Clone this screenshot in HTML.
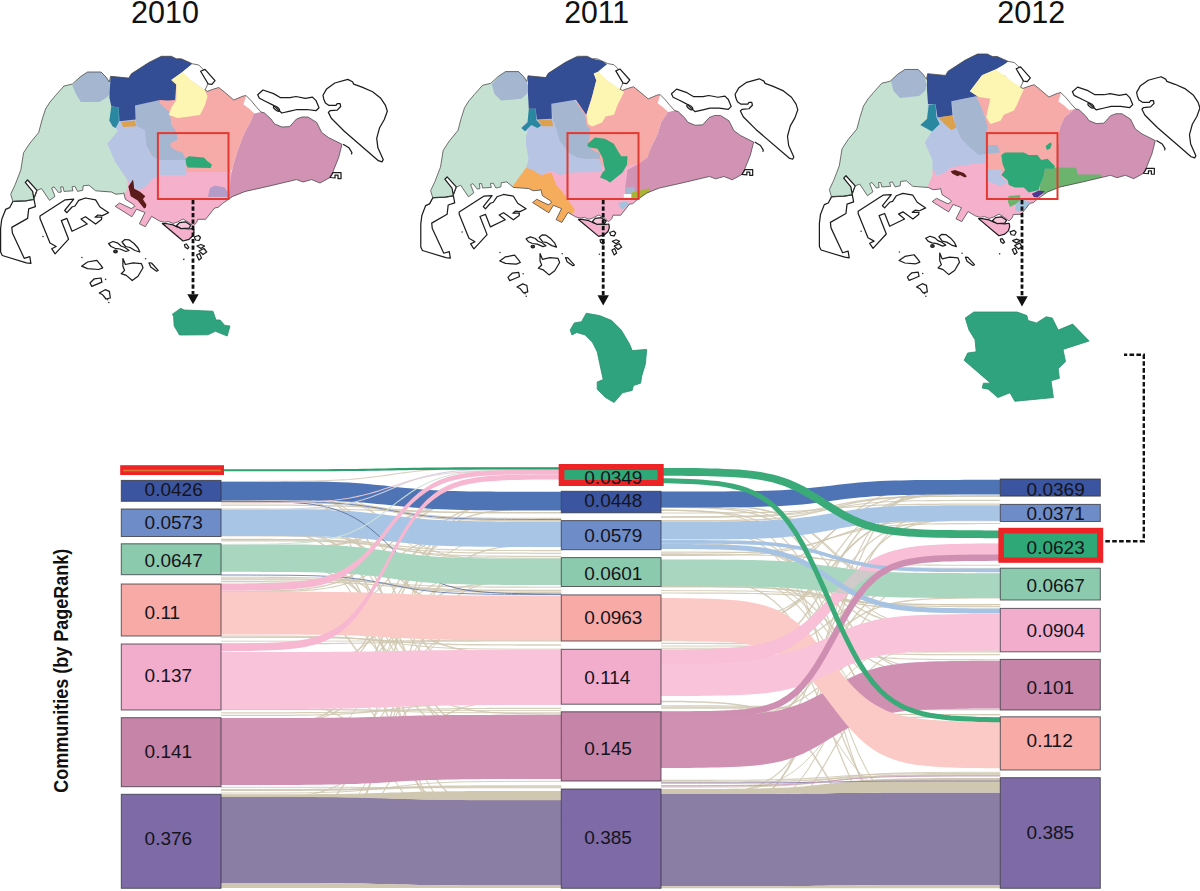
<!DOCTYPE html>
<html><head><meta charset="utf-8"><title>Figure</title>
<style>
html,body{margin:0;padding:0;background:#fff;}
body{width:1200px;height:891px;overflow:hidden;font-family:"Liberation Sans",sans-serif;}
svg{display:block}
text{font-family:"Liberation Sans",sans-serif;}
.nl{font-size:19px;fill:#14141c;}
.al{font-size:20px;font-weight:bold;fill:#111;}
.yr{font-size:31.3px;fill:#111;}
</style></head><body>
<svg width="1200" height="891" viewBox="0 0 1200 891">
<rect width="1200" height="891" fill="#fff"/>
<text transform="translate(165,22.8) scale(0.975,1)" text-anchor="middle" class="yr">2010</text>
<text transform="translate(596.6,22.8) scale(0.965,1)" text-anchor="middle" class="yr">2011</text>
<text transform="translate(1031.3,22.8) scale(0.975,1)" text-anchor="middle" class="yr">2012</text>
<defs>
<path id="coast" d="M12.9,201.5 L10.7,194.2 L15.2,184.6 L20.8,170.0 L23.6,152.7 L30.0,143.0 L38.7,132.5 L42.0,120.0 L45.5,109.0 L50.0,102.0 L55.5,95.5 L64.0,86.0 L72.4,84.0 L80.0,77.0 L87.5,72.0 L101.0,72.0 L106.0,77.0 L109.4,82.0 L110.6,76.3 L128.8,78.1 L131.3,73.8 L148.8,62.5 L161.3,56.3 L171.3,56.3 L176.3,58.8 L181.3,58.8 L192.5,63.8 L198.8,65.0 L203.8,70.0 L208.5,80.0 L207.0,86.0 L205.0,90.0 L207.5,91.3 L212.5,89.4 L218.8,87.5 L225.0,92.5 L233.8,100.0 L242.5,96.3 L246.0,95.5 L251.0,100.5 L256.0,106.5 L261.0,112.0 L264.5,113.0 L271.0,119.0 L274.6,124.0 L282.0,127.0 L289.7,126.6 L296.5,119.0 L302.0,117.0 L308.0,117.0 L316.7,122.4 L321.7,132.5 L328.5,137.5 L342.0,144.3 L338.6,157.7 L331.8,174.6 L330.0,177.5 L320.0,183.0 L311.6,179.6 L303.0,182.0 L296.5,179.6 L267.8,186.4 L245.0,191.5 L232.5,196.5 L228.1,199.6 L222.5,203.5 L218.0,207.4 L214.6,208.0 L205.6,219.3 L197.8,219.3 L196.6,222.6 L193.3,226.0 L188.8,222.5 L183.1,219.0 L177.5,222.0 L173.0,223.5 L168.5,221.5 L164.0,222.3 L159.5,221.0 L151.6,216.4 L145.3,226.7 L139.4,223.8 L145.0,212.5 L136.5,209.2 L131.9,216.8 L115.2,206.3 L119.6,203.0 L131.3,208.6 L134.8,206.3 L133.6,204.5 L125.4,199.3 L123.7,192.8 L122.6,193.6 L115.9,194.2 L111.4,192.0 L95.6,190.8 L88.9,185.2 L83.2,185.8 L82.7,190.3 L77.6,191.4 L74.8,186.3 L72.0,186.9 L73.0,190.8 L64.0,191.4 L63.0,186.9 L60.7,186.9 L61.3,192.0 L58.5,192.5 L54.0,186.9 L51.7,188.0 L55.0,196.4 L49.5,200.4 L41.6,188.6 L37.0,190.3 L33.5,199.5 L25.9,200.8 L14.6,201.3Z"/>
<clipPath id="cl1"><use href="#coast"/></clipPath>
<g id="outl" fill="none" stroke="#1c1c1c" stroke-width="1.25" stroke-linejoin="round">
<path d="M12.9,201.5 L9.6,207.7 L5.6,209.4 L1.7,219.5 L0.6,228.5 L0.6,252.0 L2.3,255.5 L26.4,262.8 L30.9,263.4 L29.8,256.6 L24.2,258.3 L12.4,233.0 L11.8,227.4 L27.6,218.4 L28.7,208.8 L35.4,206.6 L33.8,198.0 L32.6,191.4 L25.3,182.4 L27.6,180.0 L37.0,190.3 L33.5,199.5 L25.9,200.8 L14.6,201.3Z" fill="#fff"/>
<path d="M192.5,63.8 L198.8,65.0 L203.8,70.0 L208.5,80.0 L207.0,86.0 L205.0,90.0 L192.5,81.3 L182.5,71.9Z" fill="#fff" stroke="none"/>
<path d="M246.0,95.5 L251.0,100.5 L261.0,112.0 L254.4,113.5 L249.0,108.5 L243.5,104.5 L245.5,98.0Z" fill="#fff" stroke="none"/>
<use href="#coast" stroke="#444" stroke-width="0.9" stroke-opacity="0.85"/>
<path d="M200.6,71.3 L205.0,69.4 L215.0,80.6 L211.9,84.4 L208.1,83.8Z" fill="#fff"/>
<path d="M331.8,174.6 L333.0,172.5 L341.0,172.5 L341.0,178.5 L338.0,178.5 L338.0,175.0 L335.0,175.0 L335.0,178.0 L330.0,177.5Z" fill="#fff"/>
<path d="M162.3,223.6 L166.0,223.5 L173.0,224.9 L177.5,227.1 L183.0,228.4 L188.8,229.0 L193.5,228.3 L194.0,232.0 L192.6,236.0 L189.0,239.4 L183.0,241.0Z" fill="#f5b0cc"/>
<path d="M176.4,225.8 L179.5,222.6 L185.5,221.8 L190.8,225.2 L189.0,228.2 L181.0,228.6Z" fill="#f8c6da"/>
<path d="M40.0,216.0 L65.2,199.8 L73.7,199.2 L64.7,210.5 L66.9,212.7 L72.0,207.0 L75.0,206.0 L78.7,200.4 L85.5,198.0 L95.6,199.8 L100.0,207.0 L108.6,212.7 L102.4,215.6 L97.9,215.0 L95.0,217.2 L101.8,217.2 L101.5,219.5 L95.6,224.0 L85.5,216.7 L81.0,219.0 L87.2,224.0 L72.0,231.3 L66.9,218.4 L61.3,220.6 L68.6,239.2 L55.1,253.8 L51.7,248.7 L56.2,246.5 L50.0,243.0 L40.0,218.4Z"/>
<path d="M257.7,94.7 L263.0,90.0 L273.6,93.6 L280.6,97.7 L290.0,97.7 L296.0,96.5 L305.4,98.3 L312.5,97.1 L316.0,100.6 L319.0,107.7 L316.0,110.7 L306.6,109.5 L297.1,109.5 L290.0,111.2 L281.8,113.0 L278.3,110.0 L273.6,105.4 L265.3,101.2 L259.4,98.3Z"/>
<path d="M323.0,95.3 L326.6,88.9 L334.8,83.0 L347.8,79.4 L352.5,81.8 L353.7,84.1 L362.0,87.1 L372.6,91.8 L380.8,98.3 L385.5,105.4 L387.3,111.2 L384.3,119.5 L379.6,127.7 L376.7,138.3 L377.9,147.8 L383.2,159.6 L382.0,161.9 L378.4,160.7 L344.3,131.3 L331.3,118.3 L328.4,112.4 L330.1,110.7 L337.2,110.1 L340.7,106.5 L340.1,103.6 L337.2,103.6 L336.0,105.4 L329.0,105.4 L325.4,103.0 L323.7,98.9Z"/>
<path d="M343.1,144.2 L349.0,147.8 L351.9,152.5 L351.4,154.3"/>
<path d="M108.6,243.5 L113.0,241.5 L118.0,243.2 L121.0,246.0 L125.0,247.5 L129.0,250.5 L126.0,251.5 L120.0,249.0 L115.0,248.3 L111.0,246.5Z"/>
<path d="M122.0,242.0 L125.0,239.5 L129.0,239.8 L134.0,243.5 L138.0,248.0 L139.8,252.0 L135.0,250.5 L130.0,247.5 L125.5,246.5Z"/>
<path d="M81.6,266.2 L87.5,262.0 L96.8,260.3 L101.0,265.3 L102.7,267.8 L98.5,269.5 L87.5,268.7Z"/>
<path d="M122.9,258.6 L125.4,264.5 L133.0,262.8 L141.4,263.6 L143.0,267.8 L138.0,276.3 L132.2,280.5 L126.3,275.4 L121.2,273.7 L124.6,270.4 L122.9,266.2Z"/>
<path d="M90.0,283.0 L94.3,278.8 L101.0,278.0 L101.9,282.2 L96.0,284.7 L91.8,286.4Z"/>
<path d="M99.3,293.0 L105.2,289.7 L109.4,291.4 L110.3,298.0 L106.0,299.0 L102.7,294.8Z"/>
<path d="M149.0,262.8 L151.5,263.0 L158.2,270.4 L156.6,271.2 L150.7,267.0Z"/>
<path d="M184.5,244.5 L186.5,244.0 L188.8,247.5 L187.5,248.8 L185.0,247.0Z"/>
<path d="M194.4,237.0 L198.5,235.5 L200.5,237.5 L199.0,240.5 L195.5,240.0Z"/>
<path d="M197.0,246.0 L201.0,244.5 L204.5,246.0 L201.0,248.5Z"/>
<path d="M199.0,251.0 L204.0,248.5 L206.7,252.0 L203.0,254.5Z"/>
<path d="M196.6,255.0 L199.5,253.5 L201.5,258.0 L199.0,260.0Z"/>
<ellipse cx="115.5" cy="251.5" rx="1.8" ry="1.4" fill="#444"/>
<circle cx="81.9" cy="257.5" r="0.8" fill="#333" stroke="none"/>
<circle cx="145.6" cy="258.8" r="0.8" fill="#333" stroke="none"/>
<circle cx="105.6" cy="279.4" r="0.8" fill="#333" stroke="none"/>
<circle cx="108.8" cy="302.5" r="0.8" fill="#333" stroke="none"/>
<circle cx="107.6" cy="299.8" r="0.8" fill="#333" stroke="none"/>
<circle cx="183.8" cy="259.4" r="0.8" fill="#333" stroke="none"/>
<circle cx="43" cy="236.5" r="0.8" fill="#333" stroke="none"/>
<ellipse cx="276.5" cy="108.6" rx="3.6" ry="1.6" transform="rotate(38 276.5 108.6)"/>
</g>
</defs>
<defs><clipPath id="cl2"><use href="#coast" transform="translate(420.2,1.4) scale(0.975)"/></clipPath><clipPath id="cl3"><use href="#coast" transform="translate(818.8,-1.4) scale(0.984)"/></clipPath></defs>
<g clip-path="url(#cl1)"><path d="M100.0,100.0 L200.0,100.0 L200.0,200.0 L100.0,200.0Z" fill="#b7c4e4" /><path d="M100.0,172.0 L250.0,172.0 L250.0,250.0 L100.0,250.0Z" fill="#f5b0cc" /><path d="M150.0,80.0 L270.0,80.0 L270.0,114.0 L254.4,114.0 L251.0,120.7 L244.0,134.0 L237.5,151.0 L232.5,167.8 L231.0,172.0 L186.0,172.0 L186.0,160.0 L150.0,160.0Z" fill="#f6aba8" /><path d="M254.4,113.0 L261.0,111.0 L270.0,105.0 L350.0,105.0 L350.0,205.0 L229.0,205.0 L229.0,196.5 L230.8,178.0 L232.5,167.8 L237.5,151.0 L244.0,134.0 L251.0,120.7Z" fill="#d192b4" /><path d="M-5.0,270.0 L-5.0,50.0 L112.0,50.0 L112.0,106.0 L109.4,120.6 L112.5,126.3 L115.6,128.1 L118.0,131.0 L107.5,143.8 L115.0,161.3 L127.5,180.0 L128.0,188.0 L124.6,193.4 L110.0,196.0 L60.0,203.0 L40.0,215.0Z" fill="#c4e1d1" /><path d="M120.0,130.0 L118.0,131.0 L107.5,143.8 L115.0,161.3 L127.5,180.0 L131.0,184.0 L137.0,190.0 L145.0,187.5 L152.5,178.8 L160.0,175.0 L186.3,175.0 L186.3,158.0 L160.0,158.0 L152.5,156.3 L146.3,145.0 L145.0,133.8 L137.5,127.5 L136.0,120.0 L121.0,122.0Z" fill="#b7c4e4" /><path d="M135.0,105.6 L160.0,100.0 L160.0,103.8 L170.0,112.5 L171.3,125.0 L176.3,131.3 L177.5,140.0 L171.3,142.5 L170.0,146.0 L175.0,150.0 L182.5,152.5 L185.0,157.5 L186.0,160.0 L160.0,160.0 L152.5,156.3 L146.3,145.0 L145.0,130.0 L136.9,126.3 L135.6,119.4Z" fill="#a5b6d0" /><path d="M72.4,85.4 L80.0,77.0 L87.5,71.0 L101.0,71.0 L109.4,80.0 L110.5,93.8 L106.0,98.0 L99.3,102.0 L80.8,102.0 L76.0,94.0Z" fill="#a5b6d0" /><path d="M110.6,75.0 L128.8,77.0 L131.3,72.0 L148.8,61.0 L161.3,55.0 L171.3,55.0 L176.3,57.5 L181.3,57.5 L192.5,63.8 L182.5,71.9 L171.3,80.0 L176.3,84.4 L175.0,100.0 L167.5,100.6 L160.0,100.0 L135.0,105.6 L135.6,119.4 L119.4,121.3 L118.8,107.5 L111.3,106.3 L109.4,97.5Z" fill="#344e96" /><path d="M111.3,106.3 L118.8,107.5 L118.8,121.9 L115.6,128.1 L112.5,126.3 L109.4,120.6Z" fill="#2a87a0" /><path d="M121.3,121.9 L135.0,120.6 L136.3,126.3 L123.1,126.9Z" fill="#dba14c" /><path d="M171.3,80.0 L182.5,71.9 L192.5,81.3 L205.0,90.0 L207.5,96.3 L205.0,105.0 L200.0,115.0 L182.0,117.5 L177.5,118.1 L168.8,115.0 L171.3,107.5 L176.3,100.0 L176.3,84.4Z" fill="#fdf5b2" /><path d="M133.0,179.5 L133.6,182.9 L134.2,188.8 L140.0,191.7 L145.3,196.3 L142.9,199.3 L146.4,204.5 L145.9,207.4 L144.1,208.6 L137.7,200.4 L130.7,196.3 L128.4,186.4Z" fill="#5a1c1a" /><path d="M185.6,158.8 L188.8,156.3 L203.8,157.5 L207.5,161.3 L211.9,164.4 L210.6,168.1 L187.5,167.5 L186.0,163.8Z" fill="#2fa877" /><path d="M208.1,196.0 L210.0,188.1 L215.0,185.6 L225.0,187.5 L227.5,192.5 L227.5,197.0 L208.1,197.0Z" fill="#b49bc8" /></g><use href="#outl"/>
<g clip-path="url(#cl2)"><path d="M515.0,100.0 L610.0,100.0 L610.0,200.0 L515.0,200.0Z" fill="#b7c4e4" /><path d="M540.0,170.0 L600.0,170.0 L600.0,150.0 L660.0,150.0 L660.0,250.0 L540.0,250.0Z" fill="#f5b0cc" /><path d="M575.0,80.0 L680.0,80.0 L680.0,112.0 L667.8,112.3 L661.0,122.4 L657.7,134.0 L651.0,147.6 L647.6,157.7 L640.0,163.0 L627.5,166.0 L600.0,166.0 L580.0,140.0Z" fill="#f6aba8" /><path d="M667.8,112.3 L675.0,105.0 L760.0,105.0 L760.0,200.0 L625.0,200.0 L625.0,190.0 L627.5,170.0 L640.0,163.0 L647.6,157.7 L651.0,147.6 L657.7,134.0 L661.0,122.4Z" fill="#d192b4" /><path d="M415.0,270.0 L415.0,50.0 L530.0,50.0 L529.6,107.0 L528.0,120.7 L521.2,128.1 L525.0,131.3 L528.0,130.8 L526.3,136.3 L526.3,145.0 L528.8,160.0 L526.3,167.5 L516.3,181.3 L520.0,195.0 L450.0,215.0Z" fill="#c4e1d1" /><path d="M526.3,167.5 L532.5,170.0 L541.3,175.0 L551.3,172.5 L556.3,185.0 L563.8,193.8 L575.0,210.0 L560.0,230.0 L500.0,215.0 L510.0,190.0 L516.3,181.3Z" fill="#f5ad5c" /><path d="M526.3,136.3 L528.0,130.8 L541.3,126.5 L553.1,126.3 L560.0,141.3 L570.0,153.8 L585.0,158.8 L600.0,158.8 L602.5,172.0 L572.5,172.5 L560.0,175.0 L551.3,170.5 L541.3,175.0 L532.5,170.0 L526.3,167.5 L528.8,160.0 L526.3,145.0Z" fill="#b7c4e4" /><path d="M551.3,103.8 L575.0,100.6 L585.0,115.0 L586.9,126.3 L590.0,128.8 L590.0,136.3 L587.5,145.0 L592.5,150.0 L600.0,153.8 L600.0,158.8 L585.0,158.8 L577.5,157.5 L570.0,153.8 L560.0,141.3 L556.3,128.8 L553.1,120.0Z" fill="#a5b6d0" /><path d="M491.8,84.5 L499.0,76.0 L507.7,70.0 L517.8,70.0 L525.4,78.0 L529.0,88.7 L527.0,94.0 L521.2,98.8 L501.0,100.5 L494.3,93.8Z" fill="#a5b6d0" /><path d="M528.0,75.0 L546.5,74.3 L548.0,70.0 L575.0,56.6 L588.5,55.7 L593.8,59.0 L602.0,60.8 L608.0,65.0 L600.5,71.0 L593.8,73.6 L596.3,80.3 L592.0,97.0 L586.2,114.8 L576.0,99.7 L551.3,103.8 L551.9,118.8 L536.9,119.4 L535.6,108.8 L528.8,108.8 L528.0,95.0Z" fill="#344e96" /><path d="M528.8,108.8 L535.6,108.8 L536.3,120.0 L541.3,125.6 L537.5,128.1 L531.3,125.0 L525.0,131.3 L521.3,128.1 L527.5,122.5Z" fill="#2a87a0" /><path d="M538.0,120.2 L551.9,119.4 L553.1,126.3 L542.5,126.3Z" fill="#dba14c" /><path d="M593.8,73.6 L600.5,71.0 L608.0,76.0 L617.3,85.4 L624.0,92.0 L620.7,98.8 L617.3,105.6 L614.0,114.8 L605.6,116.5 L602.0,122.4 L592.0,126.6 L587.9,124.0 L586.5,115.0 L592.0,97.0 L596.3,80.3Z" fill="#fdf5b2" /><path d="M587.5,143.8 L595.0,137.5 L605.0,138.8 L613.8,143.8 L618.8,152.5 L621.3,156.3 L627.5,156.3 L626.9,165.0 L622.5,172.5 L616.3,177.5 L610.0,182.5 L606.3,180.0 L600.0,177.5 L602.5,172.5 L605.0,170.0 L602.5,157.5 L597.5,148.8 L590.0,147.5 L587.5,146.3Z" fill="#2fa877" /><path d="M625.0,187.5 L633.8,186.5 L636.0,193.8 L625.0,193.8Z" fill="#a5b6d0" /><path d="M631.9,192.5 L650.0,188.0 L650.0,196.0 L632.0,198.0Z" fill="#a9b334" /><path d="M618.0,203.5 L626.0,201.0 L629.5,204.5 L622.0,209.5Z" fill="#a3c2dc" /></g><path d="M623.8,194 h7.5 v3.8 h-7.5z" fill="#fff"/><use href="#outl" transform="translate(420.2,1.4) scale(0.975)"/>
<g clip-path="url(#cl3)"><path d="M915.0,100.0 L1010.0,100.0 L1010.0,165.0 L915.0,178.0Z" fill="#b7c4e4" /><path d="M925.0,168.0 L934.0,170.0 L936.0,175.5 L943.0,173.6 L951.5,167.0 L968.4,164.5 L987.0,162.0 L987.0,172.0 L1080.0,172.0 L1080.0,250.0 L925.0,250.0Z" fill="#f5b0cc" /><path d="M975.0,75.0 L1085.0,75.0 L1085.0,108.9 L1074.6,108.9 L1064.5,117.3 L1059.4,129.0 L1057.5,152.0 L1057.5,172.0 L987.0,172.0 L987.0,133.0 L985.0,117.5 L981.3,107.5 L976.3,96.3Z" fill="#f6aba8" /><path d="M1074.6,108.9 L1079.6,104.0 L1165.0,100.0 L1165.0,200.0 L1057.7,200.0 L1057.7,171.2 L1057.5,152.0 L1059.4,129.0 L1064.5,117.3Z" fill="#d192b4" /><path d="M810.0,270.0 L810.0,45.0 L930.0,45.0 L928.0,103.9 L927.0,119.0 L920.4,125.0 L932.0,131.6 L925.0,142.5 L932.5,160.0 L932.5,175.0 L926.0,190.0 L930.0,200.0 L850.0,215.0Z" fill="#c4e1d1" /><path d="M942.5,123.8 L932.0,131.6 L925.0,142.5 L932.5,160.0 L936.0,175.5 L943.0,173.6 L951.5,167.0 L968.4,164.5 L987.0,162.0 L987.0,153.8 L978.8,155.0 L961.3,138.8 L956.3,127.5 L951.3,130.0 L945.0,125.0Z" fill="#b7c4e4" /><path d="M987.0,170.0 L1001.5,169.0 L1000.0,175.0 L1007.5,182.5 L1000.0,186.0 L987.0,181.0Z" fill="#b7c4e4" /><path d="M951.3,101.3 L976.3,96.3 L981.3,107.5 L985.0,117.5 L987.5,127.5 L986.3,132.5 L987.0,153.8 L978.8,155.0 L970.0,147.5 L961.3,138.8 L956.3,127.5 L953.8,116.3Z" fill="#a5b6d0" /><path d="M988.0,145.0 L997.5,145.0 L1000.0,152.5 L988.0,153.8Z" fill="#a5b6d0" /><path d="M891.0,81.0 L897.0,74.0 L904.4,67.5 L916.2,67.5 L923.0,74.0 L927.0,85.0 L925.0,91.0 L919.0,96.0 L900.0,98.0 L893.5,91.0Z" fill="#a5b6d0" /><path d="M927.0,72.6 L946.5,71.7 L948.0,67.5 L975.0,53.2 L988.7,52.4 L993.8,54.9 L1003.9,57.4 L1009.0,61.8 L995.5,69.4 L982.0,75.3 L970.0,91.2 L978.6,97.0 L976.3,96.3 L951.3,101.3 L952.5,115.6 L937.5,117.5 L935.5,103.9 L928.0,103.9 L927.0,90.0Z" fill="#344e96" /><path d="M928.8,104.7 L935.5,103.9 L936.4,117.3 L939.7,124.0 L932.0,131.6 L920.4,125.0 L927.0,119.0Z" fill="#2a87a0" /><path d="M938.0,117.5 L952.5,115.2 L956.3,127.5 L951.3,130.0 L945.0,124.4Z" fill="#dba14c" /><path d="M970.0,91.2 L982.0,75.3 L995.5,69.4 L1009.0,78.6 L1024.0,88.7 L1017.3,103.9 L1014.0,110.6 L1003.9,114.8 L1000.5,120.7 L990.4,124.0 L986.2,117.3 L987.9,108.9 L990.4,98.8 L978.6,97.0Z" fill="#fdf5b2" /><path d="M950.6,171.3 L955.0,170.0 L963.8,173.1 L966.9,176.3 L965.0,177.5 L960.0,175.0 L957.5,176.3 L952.5,173.8Z" fill="#5a1c1a" /><path d="M1045.0,168.8 L1057.5,167.5 L1076.0,167.8 L1078.0,174.6 L1101.5,174.6 L1101.5,180.0 L1057.5,190.0 L1040.0,195.0 L1040.0,185.0 L1043.8,176.3Z" fill="#6cb46e" /><path d="M1001.3,155.0 L1005.0,152.5 L1023.8,152.5 L1028.8,155.0 L1037.5,155.0 L1041.3,160.0 L1047.5,158.8 L1051.3,162.5 L1055.0,166.3 L1053.8,168.8 L1045.0,168.8 L1043.8,176.3 L1040.0,185.0 L1038.8,190.0 L1028.8,192.5 L1023.8,187.5 L1015.0,187.5 L1008.8,185.0 L1007.5,180.0 L1001.3,175.0 L1005.0,170.0 L1002.5,163.8Z" fill="#2fa877" /><path d="M1045.6,146.3 L1050.0,142.5 L1051.9,143.8 L1050.0,148.8 L1046.9,150.0Z" fill="#2fa877" /><path d="M1008.5,196.0 L1020.0,195.0 L1021.0,200.0 L1016.0,204.0 L1010.0,207.0 L1008.0,202.0Z" fill="#6cb46e" /><path d="M1016.0,204.0 L1022.0,199.0 L1029.7,202.0 L1028.0,207.0 L1020.0,212.0 L1015.0,210.0Z" fill="#a3c2dc" /><path d="M1031.9,193.8 L1038.8,190.6 L1045.0,191.3 L1037.5,197.5 L1033.8,196.9Z" fill="#4b3a8f" /></g><use href="#outl" transform="translate(818.8,-1.4) scale(0.984)"/>
<rect x="157.9" y="133.1" width="70.6" height="65.9" fill="none" stroke="#e23a31" stroke-width="2"/>
<rect x="567.5" y="133.1" width="71.0" height="65.9" fill="none" stroke="#e23a31" stroke-width="2"/>
<rect x="986.9" y="133.1" width="70.6" height="65.9" fill="none" stroke="#e23a31" stroke-width="2"/>
<path d="M193.0,200 V294.3" stroke="#111" stroke-width="2.8" stroke-dasharray="4.2 2.3" fill="none"/><path d="M187.3,294.3 h11.4 l-5.7,10.0 z" fill="#111"/>
<path d="M603.2,200 V295.2" stroke="#111" stroke-width="2.8" stroke-dasharray="4.2 2.3" fill="none"/><path d="M597.5,295.2 h11.4 l-5.7,10.2 z" fill="#111"/>
<path d="M1022.0,200 V296.3" stroke="#111" stroke-width="2.8" stroke-dasharray="4.2 2.3" fill="none"/><path d="M1016.3,296.3 h11.4 l-5.7,10.3 z" fill="#111"/>
<path d="M172.4,314.2 L180.7,308.3 L184.2,310.0 L213.0,311.2 L216.0,320.0 L220.0,320.0 L224.8,325.4 L230.0,326.0 L227.2,336.0 L215.4,331.3 L207.8,334.8 L179.5,335.0 L174.2,326.0 L173.6,316.5Z" fill="#2ea37d" stroke="#27916c" stroke-width="0.8"/>
<path d="M570.2,330.1 L574.3,322.9 L581.5,321.7 L586.3,313.2 L599.6,315.6 L611.7,320.5 L621.3,330.1 L629.8,344.6 L632.2,350.6 L646.7,349.4 L645.4,363.9 L641.8,375.9 L640.6,383.2 L633.4,385.6 L632.2,390.4 L622.5,392.8 L614.1,402.5 L605.6,397.6 L597.2,389.2 L597.2,382.0 L603.2,379.6 L600.8,368.7 L597.2,351.8 L592.4,342.2 L585.1,334.9 L576.7,332.5 L571.9,334.9Z" fill="#2ea37d" stroke="#27916c" stroke-width="0.8"/>
<path d="M965.3,318.0 L973.8,312.0 L1017.2,312.0 L1026.9,315.6 L1028.1,320.5 L1036.5,322.9 L1046.2,316.8 L1052.2,318.0 L1058.2,330.1 L1072.7,324.1 L1089.1,341.0 L1063.0,349.4 L1065.5,361.5 L1058.2,368.7 L1059.4,378.3 L1051.0,380.8 L1053.4,397.6 L1014.8,401.3 L1010.0,392.8 L997.9,397.6 L988.3,389.2 L982.2,388.0 L983.4,383.2 L990.7,383.2 L964.1,360.3 L967.7,353.0 L976.2,351.8 L975.0,339.7 L969.0,330.1Z" fill="#2ea37d" stroke="#27916c" stroke-width="0.8"/>
<path d="M221.0,502.2 L228.1,502.2 L235.2,502.3 L242.3,502.3 L249.4,502.3 L256.4,502.3 L263.5,502.3 L270.6,502.4 L277.7,502.4 L284.8,502.5 L291.9,502.5 L299.0,502.6 L306.1,502.8 L313.2,502.9 L320.3,503.2 L327.3,503.5 L334.4,503.9 L341.5,504.4 L348.6,505.0 L355.7,505.7 L362.8,506.6 L369.9,507.7 L377.0,508.8 L384.1,510.1 L391.1,511.5 L398.2,512.8 L405.3,514.1 L412.4,515.3 L419.5,516.3 L426.6,517.2 L433.7,518.0 L440.8,518.6 L447.9,519.1 L455.0,519.5 L462.0,519.8 L469.1,520.0 L476.2,520.2 L483.3,520.3 L490.4,520.4 L497.5,520.5 L504.6,520.5 L511.7,520.6 L518.8,520.6 L525.9,520.6 L532.9,520.7 L540.0,520.7 L547.1,520.7 L554.2,520.7 L561.3,520.7" fill="none" stroke="#cfc7b0" stroke-width="1.2" stroke-opacity="0.85"/>
<path d="M221.0,500.7 L228.1,500.7 L235.2,500.7 L242.3,500.8 L249.4,500.8 L256.4,500.8 L263.5,500.8 L270.6,500.8 L277.7,500.9 L284.8,500.9 L291.9,501.0 L299.0,501.1 L306.1,501.2 L313.2,501.4 L320.3,501.6 L327.3,501.9 L334.4,502.3 L341.5,502.8 L348.6,503.3 L355.7,504.1 L362.8,504.9 L369.9,505.9 L377.0,507.1 L384.1,508.3 L391.1,509.6 L398.2,510.8 L405.3,512.1 L412.4,513.2 L419.5,514.2 L426.6,515.1 L433.7,515.8 L440.8,516.4 L447.9,516.8 L455.0,517.2 L462.0,517.5 L469.1,517.7 L476.2,517.9 L483.3,518.0 L490.4,518.1 L497.5,518.2 L504.6,518.2 L511.7,518.3 L518.8,518.3 L525.9,518.3 L532.9,518.3 L540.0,518.4 L547.1,518.4 L554.2,518.4 L561.3,518.4" fill="none" stroke="#cfc7b0" stroke-width="1.1" stroke-opacity="0.85"/>
<path d="M221.0,483.4 L228.1,483.4 L235.2,483.4 L242.3,483.5 L249.4,483.6 L256.4,483.6 L263.5,483.8 L270.6,483.9 L277.7,484.1 L284.8,484.4 L291.9,484.8 L299.0,485.3 L306.1,485.9 L313.2,486.8 L320.3,487.9 L327.3,489.3 L334.4,491.2 L341.5,493.5 L348.6,496.5 L355.7,500.1 L362.8,504.4 L369.9,509.5 L377.0,515.2 L384.1,521.4 L391.1,527.8 L398.2,534.3 L405.3,540.4 L412.4,546.1 L419.5,551.2 L426.6,555.5 L433.7,559.1 L440.8,562.1 L447.9,564.4 L455.0,566.3 L462.0,567.7 L469.1,568.9 L476.2,569.7 L483.3,570.4 L490.4,570.8 L497.5,571.2 L504.6,571.5 L511.7,571.7 L518.8,571.9 L525.9,572.0 L532.9,572.1 L540.0,572.1 L547.1,572.2 L554.2,572.2 L561.3,572.2" fill="none" stroke="#cfc7b0" stroke-width="1.0" stroke-opacity="0.85"/>
<path d="M221.0,489.7 L228.1,489.8 L235.2,489.8 L242.3,489.8 L249.4,489.9 L256.4,489.9 L263.5,490.0 L270.6,490.2 L277.7,490.3 L284.8,490.6 L291.9,490.9 L299.0,491.2 L306.1,491.8 L313.2,492.5 L320.3,493.3 L327.3,494.5 L334.4,496.0 L341.5,497.9 L348.6,500.3 L355.7,503.2 L362.8,506.7 L369.9,510.8 L377.0,515.4 L384.1,520.3 L391.1,525.5 L398.2,530.7 L405.3,535.7 L412.4,540.3 L419.5,544.4 L426.6,547.9 L433.7,550.8 L440.8,553.2 L447.9,555.1 L455.0,556.6 L462.0,557.7 L469.1,558.6 L476.2,559.3 L483.3,559.8 L490.4,560.2 L497.5,560.5 L504.6,560.7 L511.7,560.9 L518.8,561.0 L525.9,561.1 L532.9,561.2 L540.0,561.2 L547.1,561.3 L554.2,561.3 L561.3,561.3" fill="none" stroke="#cfc7b0" stroke-width="1.0" stroke-opacity="0.85"/>
<path d="M221.0,489.6 L228.1,489.6 L235.2,489.7 L242.3,489.8 L249.4,489.9 L256.4,490.0 L263.5,490.2 L270.6,490.4 L277.7,490.8 L284.8,491.2 L291.9,491.8 L299.0,492.6 L306.1,493.6 L313.2,495.0 L320.3,496.8 L327.3,499.1 L334.4,502.0 L341.5,505.8 L348.6,510.5 L355.7,516.3 L362.8,523.3 L369.9,531.3 L377.0,540.4 L384.1,550.3 L391.1,560.6 L398.2,571.0 L405.3,580.8 L412.4,589.9 L419.5,598.0 L426.6,605.0 L433.7,610.8 L440.8,615.5 L447.9,619.3 L455.0,622.2 L462.0,624.5 L469.1,626.3 L476.2,627.7 L483.3,628.7 L490.4,629.5 L497.5,630.1 L504.6,630.5 L511.7,630.8 L518.8,631.1 L525.9,631.3 L532.9,631.4 L540.0,631.5 L547.1,631.6 L554.2,631.7 L561.3,631.7" fill="none" stroke="#cfc7b0" stroke-width="1.1" stroke-opacity="0.85"/>
<path d="M221.0,486.2 L228.1,486.2 L235.2,486.3 L242.3,486.4 L249.4,486.6 L256.4,486.8 L263.5,487.0 L270.6,487.4 L277.7,487.8 L284.8,488.4 L291.9,489.3 L299.0,490.3 L306.1,491.8 L313.2,493.7 L320.3,496.1 L327.3,499.3 L334.4,503.4 L341.5,508.7 L348.6,515.2 L355.7,523.3 L362.8,532.9 L369.9,544.1 L377.0,556.7 L384.1,570.4 L391.1,584.7 L398.2,599.0 L405.3,612.7 L412.4,625.3 L419.5,636.5 L426.6,646.2 L433.7,654.2 L440.8,660.7 L447.9,666.0 L455.0,670.1 L462.0,673.3 L469.1,675.7 L476.2,677.6 L483.3,679.1 L490.4,680.1 L497.5,681.0 L504.6,681.6 L511.7,682.0 L518.8,682.4 L525.9,682.6 L532.9,682.8 L540.0,683.0 L547.1,683.1 L554.2,683.2 L561.3,683.2" fill="none" stroke="#cfc7b0" stroke-width="1.5" stroke-opacity="0.85"/>
<path d="M221.0,492.2 L228.1,492.2 L235.2,492.3 L242.3,492.5 L249.4,492.7 L256.4,492.9 L263.5,493.2 L270.6,493.7 L277.7,494.2 L284.8,495.0 L291.9,496.0 L299.0,497.4 L306.1,499.2 L313.2,501.6 L320.3,504.7 L327.3,508.7 L334.4,513.8 L341.5,520.4 L348.6,528.6 L355.7,538.7 L362.8,550.8 L369.9,564.9 L377.0,580.7 L384.1,598.0 L391.1,615.9 L398.2,633.9 L405.3,651.1 L412.4,666.9 L419.5,681.0 L426.6,693.1 L433.7,703.2 L440.8,711.4 L447.9,718.0 L455.0,723.1 L462.0,727.2 L469.1,730.3 L476.2,732.6 L483.3,734.4 L490.4,735.8 L497.5,736.8 L504.6,737.6 L511.7,738.2 L518.8,738.6 L525.9,738.9 L532.9,739.2 L540.0,739.3 L547.1,739.5 L554.2,739.6 L561.3,739.7" fill="none" stroke="#cfc7b0" stroke-width="1.5" stroke-opacity="0.85"/>
<path d="M221.0,483.2 L228.1,483.3 L235.2,483.5 L242.3,483.7 L249.4,484.0 L256.4,484.4 L263.5,484.9 L270.6,485.6 L277.7,486.5 L284.8,487.7 L291.9,489.3 L299.0,491.4 L306.1,494.3 L313.2,498.0 L320.3,502.9 L327.3,509.2 L334.4,517.3 L341.5,527.7 L348.6,540.6 L355.7,556.5 L362.8,575.5 L369.9,597.7 L377.0,622.6 L384.1,649.7 L391.1,678.0 L398.2,706.3 L405.3,733.4 L412.4,758.3 L419.5,780.5 L426.6,799.5 L433.7,815.4 L440.8,828.3 L447.9,838.7 L455.0,846.8 L462.0,853.1 L469.1,858.0 L476.2,861.7 L483.3,864.6 L490.4,866.7 L497.5,868.3 L504.6,869.5 L511.7,870.4 L518.8,871.1 L525.9,871.6 L532.9,872.0 L540.0,872.3 L547.1,872.5 L554.2,872.7 L561.3,872.8" fill="none" stroke="#cfc7b0" stroke-width="1.1" stroke-opacity="0.85"/>
<path d="M221.0,509.1 L228.1,509.1 L235.2,509.1 L242.3,509.1 L249.4,509.1 L256.4,509.1 L263.5,509.1 L270.6,509.2 L277.7,509.2 L284.8,509.2 L291.9,509.2 L299.0,509.2 L306.1,509.2 L313.2,509.3 L320.3,509.3 L327.3,509.4 L334.4,509.4 L341.5,509.5 L348.6,509.6 L355.7,509.8 L362.8,509.9 L369.9,510.1 L377.0,510.3 L384.1,510.6 L391.1,510.8 L398.2,511.1 L405.3,511.3 L412.4,511.5 L419.5,511.7 L426.6,511.9 L433.7,512.0 L440.8,512.1 L447.9,512.2 L455.0,512.3 L462.0,512.3 L469.1,512.4 L476.2,512.4 L483.3,512.4 L490.4,512.5 L497.5,512.5 L504.6,512.5 L511.7,512.5 L518.8,512.5 L525.9,512.5 L532.9,512.5 L540.0,512.5 L547.1,512.5 L554.2,512.5 L561.3,512.5" fill="none" stroke="#cfc7b0" stroke-width="1.1" stroke-opacity="0.85"/>
<path d="M221.0,505.1 L228.1,505.1 L235.2,505.1 L242.3,505.1 L249.4,505.1 L256.4,505.1 L263.5,505.1 L270.6,505.2 L277.7,505.2 L284.8,505.2 L291.9,505.2 L299.0,505.3 L306.1,505.3 L313.2,505.4 L320.3,505.5 L327.3,505.6 L334.4,505.8 L341.5,506.0 L348.6,506.3 L355.7,506.6 L362.8,506.9 L369.9,507.4 L377.0,507.9 L384.1,508.4 L391.1,509.0 L398.2,509.6 L405.3,510.1 L412.4,510.6 L419.5,511.0 L426.6,511.4 L433.7,511.7 L440.8,512.0 L447.9,512.2 L455.0,512.4 L462.0,512.5 L469.1,512.6 L476.2,512.7 L483.3,512.7 L490.4,512.8 L497.5,512.8 L504.6,512.8 L511.7,512.8 L518.8,512.9 L525.9,512.9 L532.9,512.9 L540.0,512.9 L547.1,512.9 L554.2,512.9 L561.3,512.9" fill="none" stroke="#cfc7b0" stroke-width="1.2" stroke-opacity="0.85"/>
<path d="M221.0,539.3 L228.1,539.3 L235.2,539.3 L242.3,539.4 L249.4,539.4 L256.4,539.4 L263.5,539.4 L270.6,539.4 L277.7,539.5 L284.8,539.5 L291.9,539.6 L299.0,539.7 L306.1,539.8 L313.2,540.0 L320.3,540.2 L327.3,540.5 L334.4,540.8 L341.5,541.3 L348.6,541.8 L355.7,542.5 L362.8,543.4 L369.9,544.3 L377.0,545.4 L384.1,546.6 L391.1,547.8 L398.2,549.1 L405.3,550.3 L412.4,551.4 L419.5,552.3 L426.6,553.2 L433.7,553.9 L440.8,554.4 L447.9,554.9 L455.0,555.2 L462.0,555.5 L469.1,555.7 L476.2,555.9 L483.3,556.0 L490.4,556.1 L497.5,556.2 L504.6,556.2 L511.7,556.3 L518.8,556.3 L525.9,556.3 L532.9,556.3 L540.0,556.3 L547.1,556.4 L554.2,556.4 L561.3,556.4" fill="none" stroke="#cfc7b0" stroke-width="1.2" stroke-opacity="0.85"/>
<path d="M221.0,535.9 L228.1,535.9 L235.2,535.9 L242.3,535.9 L249.4,535.9 L256.4,535.9 L263.5,536.0 L270.6,536.0 L277.7,536.1 L284.8,536.1 L291.9,536.2 L299.0,536.4 L306.1,536.5 L313.2,536.7 L320.3,537.0 L327.3,537.4 L334.4,537.8 L341.5,538.4 L348.6,539.2 L355.7,540.1 L362.8,541.2 L369.9,542.4 L377.0,543.9 L384.1,545.4 L391.1,547.1 L398.2,548.7 L405.3,550.2 L412.4,551.7 L419.5,552.9 L426.6,554.0 L433.7,554.9 L440.8,555.7 L447.9,556.3 L455.0,556.7 L462.0,557.1 L469.1,557.4 L476.2,557.6 L483.3,557.8 L490.4,557.9 L497.5,558.0 L504.6,558.1 L511.7,558.1 L518.8,558.1 L525.9,558.2 L532.9,558.2 L540.0,558.2 L547.1,558.2 L554.2,558.2 L561.3,558.2" fill="none" stroke="#cfc7b0" stroke-width="1.0" stroke-opacity="0.85"/>
<path d="M221.0,527.0 L228.1,527.0 L235.2,527.1 L242.3,527.1 L249.4,527.2 L256.4,527.3 L263.5,527.4 L270.6,527.5 L277.7,527.7 L284.8,528.0 L291.9,528.4 L299.0,528.9 L306.1,529.5 L313.2,530.3 L320.3,531.4 L327.3,532.9 L334.4,534.7 L341.5,537.0 L348.6,539.9 L355.7,543.5 L362.8,547.8 L369.9,552.8 L377.0,558.5 L384.1,564.6 L391.1,570.9 L398.2,577.3 L405.3,583.4 L412.4,589.1 L419.5,594.1 L426.6,598.4 L433.7,601.9 L440.8,604.9 L447.9,607.2 L455.0,609.0 L462.0,610.5 L469.1,611.6 L476.2,612.4 L483.3,613.0 L490.4,613.5 L497.5,613.9 L504.6,614.2 L511.7,614.4 L518.8,614.5 L525.9,614.6 L532.9,614.7 L540.0,614.8 L547.1,614.8 L554.2,614.9 L561.3,614.9" fill="none" stroke="#cfc7b0" stroke-width="1.2" stroke-opacity="0.85"/>
<path d="M221.0,524.8 L228.1,524.8 L235.2,524.8 L242.3,524.9 L249.4,524.9 L256.4,525.0 L263.5,525.2 L270.6,525.3 L277.7,525.5 L284.8,525.8 L291.9,526.2 L299.0,526.7 L306.1,527.4 L313.2,528.2 L320.3,529.4 L327.3,530.9 L334.4,532.8 L341.5,535.2 L348.6,538.2 L355.7,541.9 L362.8,546.4 L369.9,551.6 L377.0,557.4 L384.1,563.8 L391.1,570.4 L398.2,577.0 L405.3,583.3 L412.4,589.2 L419.5,594.4 L426.6,598.8 L433.7,602.5 L440.8,605.6 L447.9,608.0 L455.0,609.9 L462.0,611.4 L469.1,612.5 L476.2,613.4 L483.3,614.0 L490.4,614.5 L497.5,614.9 L504.6,615.2 L511.7,615.4 L518.8,615.6 L525.9,615.7 L532.9,615.8 L540.0,615.9 L547.1,615.9 L554.2,616.0 L561.3,616.0" fill="none" stroke="#cfc7b0" stroke-width="1.1" stroke-opacity="0.85"/>
<path d="M221.0,529.7 L228.1,529.7 L235.2,529.8 L242.3,529.9 L249.4,530.0 L256.4,530.1 L263.5,530.3 L270.6,530.6 L277.7,531.0 L284.8,531.5 L291.9,532.1 L299.0,533.0 L306.1,534.1 L313.2,535.6 L320.3,537.6 L327.3,540.2 L334.4,543.4 L341.5,547.6 L348.6,552.8 L355.7,559.2 L362.8,566.9 L369.9,575.9 L377.0,585.9 L384.1,596.9 L391.1,608.3 L398.2,619.7 L405.3,630.6 L412.4,640.7 L419.5,649.6 L426.6,657.3 L433.7,663.7 L440.8,668.9 L447.9,673.1 L455.0,676.4 L462.0,678.9 L469.1,680.9 L476.2,682.4 L483.3,683.5 L490.4,684.4 L497.5,685.1 L504.6,685.6 L511.7,685.9 L518.8,686.2 L525.9,686.4 L532.9,686.6 L540.0,686.7 L547.1,686.8 L554.2,686.8 L561.3,686.9" fill="none" stroke="#cfc7b0" stroke-width="1.1" stroke-opacity="0.85"/>
<path d="M221.0,524.5 L228.1,524.6 L235.2,524.7 L242.3,524.8 L249.4,524.9 L256.4,525.2 L263.5,525.5 L270.6,525.9 L277.7,526.4 L284.8,527.1 L291.9,528.0 L299.0,529.2 L306.1,530.9 L313.2,533.0 L320.3,535.8 L327.3,539.4 L334.4,544.1 L341.5,550.0 L348.6,557.5 L355.7,566.6 L362.8,577.5 L369.9,590.2 L377.0,604.5 L384.1,620.1 L391.1,636.3 L398.2,652.5 L405.3,668.0 L412.4,682.4 L419.5,695.1 L426.6,706.0 L433.7,715.1 L440.8,722.5 L447.9,728.4 L455.0,733.1 L462.0,736.8 L469.1,739.5 L476.2,741.7 L483.3,743.3 L490.4,744.5 L497.5,745.5 L504.6,746.2 L511.7,746.7 L518.8,747.1 L525.9,747.4 L532.9,747.6 L540.0,747.8 L547.1,747.9 L554.2,748.0 L561.3,748.0" fill="none" stroke="#cfc7b0" stroke-width="1.4" stroke-opacity="0.85"/>
<path d="M221.0,528.1 L228.1,528.2 L235.2,528.4 L242.3,528.5 L249.4,528.7 L256.4,529.0 L263.5,529.4 L270.6,529.9 L277.7,530.6 L284.8,531.5 L291.9,532.7 L299.0,534.3 L306.1,536.4 L313.2,539.2 L320.3,542.8 L327.3,547.5 L334.4,553.6 L341.5,561.3 L348.6,570.9 L355.7,582.8 L362.8,596.9 L369.9,613.4 L377.0,632.0 L384.1,652.2 L391.1,673.3 L398.2,694.3 L405.3,714.5 L412.4,733.1 L419.5,749.6 L426.6,763.8 L433.7,775.6 L440.8,785.3 L447.9,793.0 L455.0,799.1 L462.0,803.8 L469.1,807.4 L476.2,810.2 L483.3,812.3 L490.4,813.9 L497.5,815.1 L504.6,816.0 L511.7,816.7 L518.8,817.2 L525.9,817.6 L532.9,817.9 L540.0,818.1 L547.1,818.2 L554.2,818.4 L561.3,818.4" fill="none" stroke="#cfc7b0" stroke-width="1.5" stroke-opacity="0.85"/>
<path d="M221.0,549.0 L228.1,549.0 L235.2,548.9 L242.3,548.9 L249.4,548.9 L256.4,548.8 L263.5,548.8 L270.6,548.7 L277.7,548.6 L284.8,548.4 L291.9,548.2 L299.0,548.0 L306.1,547.6 L313.2,547.1 L320.3,546.5 L327.3,545.7 L334.4,544.7 L341.5,543.5 L348.6,541.8 L355.7,539.9 L362.8,537.5 L369.9,534.8 L377.0,531.7 L384.1,528.3 L391.1,524.8 L398.2,521.3 L405.3,517.9 L412.4,514.8 L419.5,512.1 L426.6,509.7 L433.7,507.7 L440.8,506.1 L447.9,504.9 L455.0,503.8 L462.0,503.1 L469.1,502.5 L476.2,502.0 L483.3,501.6 L490.4,501.4 L497.5,501.2 L504.6,501.0 L511.7,500.9 L518.8,500.8 L525.9,500.8 L532.9,500.7 L540.0,500.7 L547.1,500.7 L554.2,500.6 L561.3,500.6" fill="none" stroke="#cfc7b0" stroke-width="1.4" stroke-opacity="0.85"/>
<path d="M221.0,549.9 L228.1,549.9 L235.2,549.9 L242.3,549.8 L249.4,549.8 L256.4,549.7 L263.5,549.7 L270.6,549.6 L277.7,549.5 L284.8,549.3 L291.9,549.1 L299.0,548.9 L306.1,548.5 L313.2,548.1 L320.3,547.5 L327.3,546.7 L334.4,545.7 L341.5,544.4 L348.6,542.8 L355.7,540.9 L362.8,538.5 L369.9,535.8 L377.0,532.7 L384.1,529.4 L391.1,525.9 L398.2,522.4 L405.3,519.0 L412.4,516.0 L419.5,513.2 L426.6,510.9 L433.7,508.9 L440.8,507.3 L447.9,506.1 L455.0,505.1 L462.0,504.3 L469.1,503.7 L476.2,503.2 L483.3,502.9 L490.4,502.6 L497.5,502.4 L504.6,502.3 L511.7,502.1 L518.8,502.1 L525.9,502.0 L532.9,502.0 L540.0,501.9 L547.1,501.9 L554.2,501.9 L561.3,501.9" fill="none" stroke="#cfc7b0" stroke-width="1.0" stroke-opacity="0.85"/>
<path d="M221.0,540.8 L228.1,540.8 L235.2,540.8 L242.3,540.8 L249.4,540.8 L256.4,540.8 L263.5,540.8 L270.6,540.9 L277.7,540.9 L284.8,540.9 L291.9,541.0 L299.0,541.1 L306.1,541.1 L313.2,541.3 L320.3,541.4 L327.3,541.6 L334.4,541.9 L341.5,542.2 L348.6,542.6 L355.7,543.1 L362.8,543.8 L369.9,544.5 L377.0,545.3 L384.1,546.1 L391.1,547.0 L398.2,547.9 L405.3,548.8 L412.4,549.6 L419.5,550.3 L426.6,550.9 L433.7,551.4 L440.8,551.9 L447.9,552.2 L455.0,552.5 L462.0,552.7 L469.1,552.8 L476.2,552.9 L483.3,553.0 L490.4,553.1 L497.5,553.1 L504.6,553.2 L511.7,553.2 L518.8,553.2 L525.9,553.2 L532.9,553.3 L540.0,553.3 L547.1,553.3 L554.2,553.3 L561.3,553.3" fill="none" stroke="#cfc7b0" stroke-width="1.2" stroke-opacity="0.85"/>
<path d="M221.0,539.5 L228.1,539.6 L235.2,539.6 L242.3,539.6 L249.4,539.6 L256.4,539.6 L263.5,539.6 L270.6,539.6 L277.7,539.6 L284.8,539.7 L291.9,539.7 L299.0,539.8 L306.1,539.9 L313.2,540.0 L320.3,540.1 L327.3,540.3 L334.4,540.5 L341.5,540.8 L348.6,541.2 L355.7,541.6 L362.8,542.2 L369.9,542.8 L377.0,543.5 L384.1,544.3 L391.1,545.1 L398.2,545.9 L405.3,546.6 L412.4,547.3 L419.5,548.0 L426.6,548.5 L433.7,549.0 L440.8,549.3 L447.9,549.6 L455.0,549.8 L462.0,550.0 L469.1,550.2 L476.2,550.3 L483.3,550.3 L490.4,550.4 L497.5,550.5 L504.6,550.5 L511.7,550.5 L518.8,550.5 L525.9,550.5 L532.9,550.6 L540.0,550.6 L547.1,550.6 L554.2,550.6 L561.3,550.6" fill="none" stroke="#cfc7b0" stroke-width="1.2" stroke-opacity="0.85"/>
<path d="M221.0,577.3 L228.1,577.3 L235.2,577.3 L242.3,577.3 L249.4,577.3 L256.4,577.3 L263.5,577.3 L270.6,577.4 L277.7,577.4 L284.8,577.4 L291.9,577.5 L299.0,577.6 L306.1,577.7 L313.2,577.8 L320.3,578.0 L327.3,578.3 L334.4,578.6 L341.5,579.0 L348.6,579.5 L355.7,580.1 L362.8,580.9 L369.9,581.7 L377.0,582.7 L384.1,583.7 L391.1,584.8 L398.2,585.9 L405.3,587.0 L412.4,588.0 L419.5,588.8 L426.6,589.6 L433.7,590.2 L440.8,590.7 L447.9,591.1 L455.0,591.4 L462.0,591.7 L469.1,591.8 L476.2,592.0 L483.3,592.1 L490.4,592.2 L497.5,592.2 L504.6,592.3 L511.7,592.3 L518.8,592.4 L525.9,592.4 L532.9,592.4 L540.0,592.4 L547.1,592.4 L554.2,592.4 L561.3,592.4" fill="none" stroke="#cfc7b0" stroke-width="1.1" stroke-opacity="0.85"/>
<path d="M221.0,578.7 L228.1,578.7 L235.2,578.7 L242.3,578.8 L249.4,578.8 L256.4,578.8 L263.5,578.8 L270.6,578.8 L277.7,578.8 L284.8,578.9 L291.9,578.9 L299.0,579.0 L306.1,579.1 L313.2,579.2 L320.3,579.3 L327.3,579.5 L334.4,579.7 L341.5,580.1 L348.6,580.4 L355.7,580.9 L362.8,581.5 L369.9,582.1 L377.0,582.9 L384.1,583.7 L391.1,584.5 L398.2,585.3 L405.3,586.1 L412.4,586.9 L419.5,587.5 L426.6,588.1 L433.7,588.5 L440.8,588.9 L447.9,589.2 L455.0,589.5 L462.0,589.7 L469.1,589.8 L476.2,589.9 L483.3,590.0 L490.4,590.1 L497.5,590.1 L504.6,590.1 L511.7,590.2 L518.8,590.2 L525.9,590.2 L532.9,590.2 L540.0,590.2 L547.1,590.2 L554.2,590.2 L561.3,590.2" fill="none" stroke="#cfc7b0" stroke-width="1.1" stroke-opacity="0.85"/>
<path d="M221.0,563.7 L228.1,563.7 L235.2,563.7 L242.3,563.8 L249.4,563.8 L256.4,563.9 L263.5,564.1 L270.6,564.2 L277.7,564.4 L284.8,564.7 L291.9,565.1 L299.0,565.6 L306.1,566.2 L313.2,567.1 L320.3,568.2 L327.3,569.7 L334.4,571.6 L341.5,574.0 L348.6,577.0 L355.7,580.7 L362.8,585.2 L369.9,590.3 L377.0,596.1 L384.1,602.4 L391.1,609.0 L398.2,615.6 L405.3,621.9 L412.4,627.7 L419.5,632.9 L426.6,637.3 L433.7,641.0 L440.8,644.0 L447.9,646.4 L455.0,648.3 L462.0,649.8 L469.1,650.9 L476.2,651.8 L483.3,652.5 L490.4,653.0 L497.5,653.3 L504.6,653.6 L511.7,653.8 L518.8,654.0 L525.9,654.1 L532.9,654.2 L540.0,654.3 L547.1,654.3 L554.2,654.4 L561.3,654.4" fill="none" stroke="#cfc7b0" stroke-width="1.4" stroke-opacity="0.85"/>
<path d="M221.0,563.2 L228.1,563.3 L235.2,563.3 L242.3,563.4 L249.4,563.5 L256.4,563.6 L263.5,563.8 L270.6,564.1 L277.7,564.4 L284.8,564.8 L291.9,565.4 L299.0,566.1 L306.1,567.2 L313.2,568.5 L320.3,570.2 L327.3,572.5 L334.4,575.4 L341.5,579.0 L348.6,583.6 L355.7,589.3 L362.8,596.1 L369.9,603.9 L377.0,612.8 L384.1,622.5 L391.1,632.5 L398.2,642.6 L405.3,652.2 L412.4,661.1 L419.5,669.0 L426.6,675.8 L433.7,681.4 L440.8,686.0 L447.9,689.7 L455.0,692.6 L462.0,694.8 L469.1,696.6 L476.2,697.9 L483.3,698.9 L490.4,699.7 L497.5,700.2 L504.6,700.7 L511.7,701.0 L518.8,701.3 L525.9,701.4 L532.9,701.6 L540.0,701.7 L547.1,701.7 L554.2,701.8 L561.3,701.8" fill="none" stroke="#cfc7b0" stroke-width="1.4" stroke-opacity="0.85"/>
<path d="M221.0,553.5 L228.1,553.5 L235.2,553.6 L242.3,553.7 L249.4,553.8 L256.4,554.0 L263.5,554.3 L270.6,554.6 L277.7,555.0 L284.8,555.6 L291.9,556.4 L299.0,557.4 L306.1,558.7 L313.2,560.5 L320.3,562.8 L327.3,565.8 L334.4,569.7 L341.5,574.6 L348.6,580.8 L355.7,588.4 L362.8,597.4 L369.9,608.0 L377.0,619.8 L384.1,632.7 L391.1,646.2 L398.2,659.7 L405.3,672.6 L412.4,684.4 L419.5,695.0 L426.6,704.1 L433.7,711.6 L440.8,717.8 L447.9,722.7 L455.0,726.6 L462.0,729.6 L469.1,731.9 L476.2,733.7 L483.3,735.0 L490.4,736.0 L497.5,736.8 L504.6,737.4 L511.7,737.8 L518.8,738.2 L525.9,738.4 L532.9,738.6 L540.0,738.7 L547.1,738.8 L554.2,738.9 L561.3,739.0" fill="none" stroke="#cfc7b0" stroke-width="1.3" stroke-opacity="0.85"/>
<path d="M221.0,546.4 L228.1,546.5 L235.2,546.6 L242.3,546.8 L249.4,547.0 L256.4,547.3 L263.5,547.7 L270.6,548.2 L277.7,548.8 L284.8,549.7 L291.9,550.9 L299.0,552.5 L306.1,554.6 L313.2,557.4 L320.3,561.0 L327.3,565.7 L334.4,571.7 L341.5,579.4 L348.6,588.9 L355.7,600.7 L362.8,614.8 L369.9,631.2 L377.0,649.7 L384.1,669.8 L391.1,690.7 L398.2,711.6 L405.3,731.7 L412.4,750.2 L419.5,766.6 L426.6,780.7 L433.7,792.5 L440.8,802.0 L447.9,809.7 L455.0,815.7 L462.0,820.4 L469.1,824.0 L476.2,826.8 L483.3,828.9 L490.4,830.5 L497.5,831.7 L504.6,832.6 L511.7,833.2 L518.8,833.8 L525.9,834.1 L532.9,834.4 L540.0,834.6 L547.1,834.8 L554.2,834.9 L561.3,835.0" fill="none" stroke="#cfc7b0" stroke-width="1.1" stroke-opacity="0.85"/>
<path d="M221.0,591.6 L228.1,591.6 L235.2,591.6 L242.3,591.5 L249.4,591.4 L256.4,591.3 L263.5,591.2 L270.6,591.0 L277.7,590.8 L284.8,590.5 L291.9,590.1 L299.0,589.6 L306.1,588.9 L313.2,587.9 L320.3,586.7 L327.3,585.1 L334.4,583.1 L341.5,580.5 L348.6,577.3 L355.7,573.3 L362.8,568.6 L369.9,563.0 L377.0,556.8 L384.1,550.0 L391.1,543.0 L398.2,535.9 L405.3,529.2 L412.4,522.9 L419.5,517.4 L426.6,512.6 L433.7,508.7 L440.8,505.4 L447.9,502.9 L455.0,500.8 L462.0,499.2 L469.1,498.0 L476.2,497.1 L483.3,496.4 L490.4,495.9 L497.5,495.5 L504.6,495.2 L511.7,494.9 L518.8,494.8 L525.9,494.6 L532.9,494.5 L540.0,494.5 L547.1,494.4 L554.2,494.4 L561.3,494.3" fill="none" stroke="#cfc7b0" stroke-width="1.4" stroke-opacity="0.85"/>
<path d="M221.0,592.2 L228.1,592.2 L235.2,592.2 L242.3,592.1 L249.4,592.1 L256.4,592.0 L263.5,591.9 L270.6,591.8 L277.7,591.7 L284.8,591.5 L291.9,591.2 L299.0,590.9 L306.1,590.4 L313.2,589.8 L320.3,589.0 L327.3,588.0 L334.4,586.7 L341.5,585.0 L348.6,582.9 L355.7,580.3 L362.8,577.2 L369.9,573.6 L377.0,569.5 L384.1,565.1 L391.1,560.5 L398.2,555.9 L405.3,551.5 L412.4,547.4 L419.5,543.8 L426.6,540.7 L433.7,538.2 L440.8,536.1 L447.9,534.4 L455.0,533.0 L462.0,532.0 L469.1,531.2 L476.2,530.6 L483.3,530.2 L490.4,529.8 L497.5,529.5 L504.6,529.3 L511.7,529.2 L518.8,529.1 L525.9,529.0 L532.9,528.9 L540.0,528.9 L547.1,528.9 L554.2,528.8 L561.3,528.8" fill="none" stroke="#cfc7b0" stroke-width="1.2" stroke-opacity="0.85"/>
<path d="M221.0,627.8 L228.1,627.8 L235.2,627.8 L242.3,627.7 L249.4,627.6 L256.4,627.5 L263.5,627.4 L270.6,627.2 L277.7,627.0 L284.8,626.6 L291.9,626.2 L299.0,625.6 L306.1,624.9 L313.2,623.9 L320.3,622.6 L327.3,620.9 L334.4,618.8 L341.5,616.0 L348.6,612.6 L355.7,608.4 L362.8,603.4 L369.9,597.5 L377.0,590.9 L384.1,583.7 L391.1,576.2 L398.2,568.7 L405.3,561.6 L412.4,554.9 L419.5,549.1 L426.6,544.0 L433.7,539.8 L440.8,536.4 L447.9,533.7 L455.0,531.5 L462.0,529.8 L469.1,528.5 L476.2,527.6 L483.3,526.8 L490.4,526.2 L497.5,525.8 L504.6,525.5 L511.7,525.2 L518.8,525.1 L525.9,524.9 L532.9,524.8 L540.0,524.8 L547.1,524.7 L554.2,524.7 L561.3,524.6" fill="none" stroke="#cfc7b0" stroke-width="1.2" stroke-opacity="0.85"/>
<path d="M221.0,581.7 L228.1,581.7 L235.2,581.7 L242.3,581.7 L249.4,581.7 L256.4,581.7 L263.5,581.7 L270.6,581.8 L277.7,581.8 L284.8,581.8 L291.9,581.8 L299.0,581.9 L306.1,582.0 L313.2,582.0 L320.3,582.2 L327.3,582.3 L334.4,582.5 L341.5,582.7 L348.6,583.0 L355.7,583.4 L362.8,583.9 L369.9,584.4 L377.0,585.0 L384.1,585.6 L391.1,586.3 L398.2,586.9 L405.3,587.5 L412.4,588.1 L419.5,588.6 L426.6,589.1 L433.7,589.5 L440.8,589.8 L447.9,590.0 L455.0,590.2 L462.0,590.3 L469.1,590.5 L476.2,590.5 L483.3,590.6 L490.4,590.7 L497.5,590.7 L504.6,590.7 L511.7,590.7 L518.8,590.8 L525.9,590.8 L532.9,590.8 L540.0,590.8 L547.1,590.8 L554.2,590.8 L561.3,590.8" fill="none" stroke="#cfc7b0" stroke-width="1.3" stroke-opacity="0.85"/>
<path d="M221.0,579.8 L228.1,579.8 L235.2,579.8 L242.3,579.8 L249.4,579.8 L256.4,579.8 L263.5,579.8 L270.6,579.9 L277.7,579.9 L284.8,579.9 L291.9,579.9 L299.0,580.0 L306.1,580.0 L313.2,580.1 L320.3,580.2 L327.3,580.3 L334.4,580.5 L341.5,580.7 L348.6,580.9 L355.7,581.2 L362.8,581.6 L369.9,582.0 L377.0,582.4 L384.1,583.0 L391.1,583.5 L398.2,584.0 L405.3,584.5 L412.4,585.0 L419.5,585.4 L426.6,585.8 L433.7,586.1 L440.8,586.3 L447.9,586.5 L455.0,586.7 L462.0,586.8 L469.1,586.9 L476.2,587.0 L483.3,587.0 L490.4,587.1 L497.5,587.1 L504.6,587.1 L511.7,587.1 L518.8,587.1 L525.9,587.1 L532.9,587.2 L540.0,587.2 L547.1,587.2 L554.2,587.2 L561.3,587.2" fill="none" stroke="#cfc7b0" stroke-width="1.1" stroke-opacity="0.85"/>
<path d="M221.0,637.2 L228.1,637.2 L235.2,637.2 L242.3,637.2 L249.4,637.2 L256.4,637.2 L263.5,637.2 L270.6,637.2 L277.7,637.2 L284.8,637.2 L291.9,637.3 L299.0,637.3 L306.1,637.4 L313.2,637.5 L320.3,637.5 L327.3,637.7 L334.4,637.8 L341.5,638.0 L348.6,638.3 L355.7,638.6 L362.8,639.0 L369.9,639.5 L377.0,640.0 L384.1,640.5 L391.1,641.1 L398.2,641.6 L405.3,642.2 L412.4,642.7 L419.5,643.1 L426.6,643.5 L433.7,643.8 L440.8,644.1 L447.9,644.3 L455.0,644.5 L462.0,644.6 L469.1,644.7 L476.2,644.8 L483.3,644.8 L490.4,644.9 L497.5,644.9 L504.6,644.9 L511.7,644.9 L518.8,645.0 L525.9,645.0 L532.9,645.0 L540.0,645.0 L547.1,645.0 L554.2,645.0 L561.3,645.0" fill="none" stroke="#cfc7b0" stroke-width="1.4" stroke-opacity="0.85"/>
<path d="M221.0,635.9 L228.1,635.9 L235.2,635.9 L242.3,635.9 L249.4,635.9 L256.4,635.9 L263.5,636.0 L270.6,636.0 L277.7,636.0 L284.8,636.1 L291.9,636.1 L299.0,636.2 L306.1,636.3 L313.2,636.4 L320.3,636.6 L327.3,636.8 L334.4,637.1 L341.5,637.4 L348.6,637.9 L355.7,638.4 L362.8,639.1 L369.9,639.8 L377.0,640.7 L384.1,641.6 L391.1,642.6 L398.2,643.5 L405.3,644.5 L412.4,645.3 L419.5,646.1 L426.6,646.7 L433.7,647.3 L440.8,647.7 L447.9,648.1 L455.0,648.4 L462.0,648.6 L469.1,648.7 L476.2,648.9 L483.3,649.0 L490.4,649.0 L497.5,649.1 L504.6,649.1 L511.7,649.2 L518.8,649.2 L525.9,649.2 L532.9,649.2 L540.0,649.2 L547.1,649.2 L554.2,649.2 L561.3,649.2" fill="none" stroke="#cfc7b0" stroke-width="1.0" stroke-opacity="0.85"/>
<path d="M221.0,597.2 L228.1,597.2 L235.2,597.3 L242.3,597.4 L249.4,597.5 L256.4,597.6 L263.5,597.8 L270.6,598.1 L277.7,598.4 L284.8,598.9 L291.9,599.5 L299.0,600.3 L306.1,601.4 L313.2,602.8 L320.3,604.7 L327.3,607.1 L334.4,610.2 L341.5,614.1 L348.6,619.0 L355.7,625.1 L362.8,632.3 L369.9,640.8 L377.0,650.2 L384.1,660.6 L391.1,671.3 L398.2,682.1 L405.3,692.4 L412.4,701.9 L419.5,710.3 L426.6,717.5 L433.7,723.6 L440.8,728.5 L447.9,732.4 L455.0,735.5 L462.0,737.9 L469.1,739.8 L476.2,741.2 L483.3,742.3 L490.4,743.1 L497.5,743.7 L504.6,744.2 L511.7,744.5 L518.8,744.8 L525.9,745.0 L532.9,745.1 L540.0,745.2 L547.1,745.3 L554.2,745.4 L561.3,745.4" fill="none" stroke="#cfc7b0" stroke-width="1.3" stroke-opacity="0.85"/>
<path d="M221.0,598.6 L228.1,598.6 L235.2,598.7 L242.3,598.8 L249.4,598.8 L256.4,599.0 L263.5,599.1 L270.6,599.3 L277.7,599.6 L284.8,599.9 L291.9,600.4 L299.0,601.1 L306.1,601.9 L313.2,603.0 L320.3,604.4 L327.3,606.3 L334.4,608.7 L341.5,611.8 L348.6,615.6 L355.7,620.3 L362.8,626.0 L369.9,632.5 L377.0,639.9 L384.1,648.0 L391.1,656.3 L398.2,664.7 L405.3,672.7 L412.4,680.1 L419.5,686.7 L426.6,692.3 L433.7,697.0 L440.8,700.9 L447.9,703.9 L455.0,706.4 L462.0,708.2 L469.1,709.7 L476.2,710.8 L483.3,711.6 L490.4,712.3 L497.5,712.7 L504.6,713.1 L511.7,713.4 L518.8,713.6 L525.9,713.7 L532.9,713.8 L540.0,713.9 L547.1,714.0 L554.2,714.0 L561.3,714.1" fill="none" stroke="#cfc7b0" stroke-width="1.2" stroke-opacity="0.85"/>
<path d="M221.0,603.7 L228.1,603.8 L235.2,603.9 L242.3,604.0 L249.4,604.2 L256.4,604.4 L263.5,604.8 L270.6,605.2 L277.7,605.8 L284.8,606.5 L291.9,607.5 L299.0,608.8 L306.1,610.6 L313.2,612.9 L320.3,615.9 L327.3,619.8 L334.4,624.9 L341.5,631.3 L348.6,639.3 L355.7,649.1 L362.8,660.9 L369.9,674.6 L377.0,690.1 L384.1,706.8 L391.1,724.3 L398.2,741.8 L405.3,758.6 L412.4,774.1 L419.5,787.8 L426.6,799.6 L433.7,809.4 L440.8,817.4 L447.9,823.8 L455.0,828.9 L462.0,832.8 L469.1,835.8 L476.2,838.1 L483.3,839.9 L490.4,841.2 L497.5,842.2 L504.6,842.9 L511.7,843.5 L518.8,843.9 L525.9,844.2 L532.9,844.5 L540.0,844.7 L547.1,844.8 L554.2,844.9 L561.3,845.0" fill="none" stroke="#cfc7b0" stroke-width="1.5" stroke-opacity="0.85"/>
<path d="M221.0,688.8 L228.1,688.8 L235.2,688.7 L242.3,688.6 L249.4,688.4 L256.4,688.3 L263.5,688.0 L270.6,687.7 L277.7,687.2 L284.8,686.7 L291.9,685.9 L299.0,684.9 L306.1,683.5 L313.2,681.7 L320.3,679.4 L327.3,676.4 L334.4,672.5 L341.5,667.5 L348.6,661.3 L355.7,653.7 L362.8,644.6 L369.9,634.0 L377.0,622.1 L384.1,609.1 L391.1,595.6 L398.2,582.0 L405.3,569.1 L412.4,557.1 L419.5,546.5 L426.6,537.4 L433.7,529.8 L440.8,523.6 L447.9,518.7 L455.0,514.8 L462.0,511.7 L469.1,509.4 L476.2,507.6 L483.3,506.3 L490.4,505.2 L497.5,504.5 L504.6,503.9 L511.7,503.5 L518.8,503.1 L525.9,502.9 L532.9,502.7 L540.0,502.6 L547.1,502.5 L554.2,502.4 L561.3,502.3" fill="none" stroke="#cfc7b0" stroke-width="1.3" stroke-opacity="0.85"/>
<path d="M221.0,687.9 L228.1,687.9 L235.2,687.8 L242.3,687.7 L249.4,687.6 L256.4,687.4 L263.5,687.2 L270.6,686.9 L277.7,686.5 L284.8,686.0 L291.9,685.4 L299.0,684.5 L306.1,683.3 L313.2,681.7 L320.3,679.6 L327.3,677.0 L334.4,673.6 L341.5,669.2 L348.6,663.8 L355.7,657.1 L362.8,649.1 L369.9,639.7 L377.0,629.2 L384.1,617.8 L391.1,605.9 L398.2,594.0 L405.3,582.6 L412.4,572.1 L419.5,562.8 L426.6,554.8 L433.7,548.1 L440.8,542.7 L447.9,538.3 L455.0,534.9 L462.0,532.2 L469.1,530.2 L476.2,528.6 L483.3,527.4 L490.4,526.5 L497.5,525.8 L504.6,525.3 L511.7,525.0 L518.8,524.7 L525.9,524.4 L532.9,524.3 L540.0,524.2 L547.1,524.1 L554.2,524.0 L561.3,524.0" fill="none" stroke="#cfc7b0" stroke-width="1.4" stroke-opacity="0.85"/>
<path d="M221.0,694.4 L228.1,694.3 L235.2,694.3 L242.3,694.2 L249.4,694.1 L256.4,694.0 L263.5,693.9 L270.6,693.7 L277.7,693.4 L284.8,693.1 L291.9,692.6 L299.0,692.0 L306.1,691.1 L313.2,690.1 L320.3,688.7 L327.3,686.8 L334.4,684.5 L341.5,681.5 L348.6,677.7 L355.7,673.1 L362.8,667.6 L369.9,661.2 L377.0,653.9 L384.1,646.1 L391.1,637.9 L398.2,629.7 L405.3,621.8 L412.4,614.6 L419.5,608.1 L426.6,602.6 L433.7,598.0 L440.8,594.3 L447.9,591.3 L455.0,588.9 L462.0,587.1 L469.1,585.7 L476.2,584.6 L483.3,583.8 L490.4,583.1 L497.5,582.7 L504.6,582.3 L511.7,582.1 L518.8,581.9 L525.9,581.7 L532.9,581.6 L540.0,581.5 L547.1,581.5 L554.2,581.4 L561.3,581.4" fill="none" stroke="#cfc7b0" stroke-width="1.4" stroke-opacity="0.85"/>
<path d="M221.0,670.3 L228.1,670.3 L235.2,670.3 L242.3,670.2 L249.4,670.1 L256.4,670.0 L263.5,669.9 L270.6,669.7 L277.7,669.5 L284.8,669.2 L291.9,668.7 L299.0,668.2 L306.1,667.5 L313.2,666.5 L320.3,665.2 L327.3,663.6 L334.4,661.5 L341.5,658.8 L348.6,655.5 L355.7,651.4 L362.8,646.4 L369.9,640.7 L377.0,634.3 L384.1,627.2 L391.1,619.9 L398.2,612.6 L405.3,605.6 L412.4,599.2 L419.5,593.4 L426.6,588.5 L433.7,584.4 L440.8,581.0 L447.9,578.4 L455.0,576.3 L462.0,574.6 L469.1,573.4 L476.2,572.4 L483.3,571.7 L490.4,571.1 L497.5,570.7 L504.6,570.4 L511.7,570.1 L518.8,570.0 L525.9,569.8 L532.9,569.7 L540.0,569.7 L547.1,569.6 L554.2,569.6 L561.3,569.5" fill="none" stroke="#cfc7b0" stroke-width="1.1" stroke-opacity="0.85"/>
<path d="M221.0,641.2 L228.1,641.2 L235.2,641.2 L242.3,641.2 L249.4,641.2 L256.4,641.2 L263.5,641.2 L270.6,641.2 L277.7,641.2 L284.8,641.2 L291.9,641.2 L299.0,641.2 L306.1,641.2 L313.2,641.2 L320.3,641.2 L327.3,641.1 L334.4,641.1 L341.5,641.1 L348.6,641.1 L355.7,641.0 L362.8,641.0 L369.9,641.0 L377.0,640.9 L384.1,640.8 L391.1,640.8 L398.2,640.7 L405.3,640.7 L412.4,640.6 L419.5,640.6 L426.6,640.5 L433.7,640.5 L440.8,640.5 L447.9,640.4 L455.0,640.4 L462.0,640.4 L469.1,640.4 L476.2,640.4 L483.3,640.4 L490.4,640.4 L497.5,640.4 L504.6,640.4 L511.7,640.4 L518.8,640.4 L525.9,640.4 L532.9,640.4 L540.0,640.4 L547.1,640.4 L554.2,640.4 L561.3,640.4" fill="none" stroke="#cfc7b0" stroke-width="0.9" stroke-opacity="0.85"/>
<path d="M221.0,643.7 L228.1,643.7 L235.2,643.7 L242.3,643.7 L249.4,643.7 L256.4,643.7 L263.5,643.7 L270.6,643.7 L277.7,643.7 L284.8,643.7 L291.9,643.7 L299.0,643.7 L306.1,643.7 L313.2,643.6 L320.3,643.6 L327.3,643.6 L334.4,643.5 L341.5,643.4 L348.6,643.3 L355.7,643.2 L362.8,643.1 L369.9,642.9 L377.0,642.8 L384.1,642.6 L391.1,642.4 L398.2,642.2 L405.3,642.0 L412.4,641.8 L419.5,641.6 L426.6,641.5 L433.7,641.4 L440.8,641.3 L447.9,641.2 L455.0,641.2 L462.0,641.1 L469.1,641.1 L476.2,641.1 L483.3,641.0 L490.4,641.0 L497.5,641.0 L504.6,641.0 L511.7,641.0 L518.8,641.0 L525.9,641.0 L532.9,641.0 L540.0,641.0 L547.1,641.0 L554.2,641.0 L561.3,641.0" fill="none" stroke="#cfc7b0" stroke-width="1.1" stroke-opacity="0.85"/>
<path d="M221.0,709.3 L228.1,709.3 L235.2,709.3 L242.3,709.3 L249.4,709.3 L256.4,709.3 L263.5,709.3 L270.6,709.3 L277.7,709.3 L284.8,709.4 L291.9,709.4 L299.0,709.4 L306.1,709.4 L313.2,709.4 L320.3,709.5 L327.3,709.5 L334.4,709.6 L341.5,709.7 L348.6,709.8 L355.7,710.0 L362.8,710.1 L369.9,710.3 L377.0,710.6 L384.1,710.8 L391.1,711.1 L398.2,711.3 L405.3,711.6 L412.4,711.8 L419.5,712.0 L426.6,712.1 L433.7,712.3 L440.8,712.4 L447.9,712.5 L455.0,712.6 L462.0,712.6 L469.1,712.7 L476.2,712.7 L483.3,712.7 L490.4,712.7 L497.5,712.8 L504.6,712.8 L511.7,712.8 L518.8,712.8 L525.9,712.8 L532.9,712.8 L540.0,712.8 L547.1,712.8 L554.2,712.8 L561.3,712.8" fill="none" stroke="#cfc7b0" stroke-width="1.0" stroke-opacity="0.85"/>
<path d="M221.0,709.6 L228.1,709.6 L235.2,709.6 L242.3,709.6 L249.4,709.6 L256.4,709.6 L263.5,709.6 L270.6,709.6 L277.7,709.6 L284.8,709.6 L291.9,709.6 L299.0,709.6 L306.1,709.6 L313.2,709.6 L320.3,709.7 L327.3,709.7 L334.4,709.7 L341.5,709.7 L348.6,709.8 L355.7,709.8 L362.8,709.8 L369.9,709.9 L377.0,710.0 L384.1,710.0 L391.1,710.1 L398.2,710.2 L405.3,710.3 L412.4,710.3 L419.5,710.4 L426.6,710.4 L433.7,710.5 L440.8,710.5 L447.9,710.5 L455.0,710.6 L462.0,710.6 L469.1,710.6 L476.2,710.6 L483.3,710.6 L490.4,710.6 L497.5,710.6 L504.6,710.6 L511.7,710.6 L518.8,710.6 L525.9,710.6 L532.9,710.6 L540.0,710.6 L547.1,710.6 L554.2,710.6 L561.3,710.6" fill="none" stroke="#cfc7b0" stroke-width="0.9" stroke-opacity="0.85"/>
<path d="M221.0,700.2 L228.1,700.3 L235.2,700.3 L242.3,700.4 L249.4,700.5 L256.4,700.7 L263.5,700.9 L270.6,701.1 L277.7,701.5 L284.8,701.9 L291.9,702.6 L299.0,703.4 L306.1,704.5 L313.2,705.9 L320.3,707.8 L327.3,710.2 L334.4,713.3 L341.5,717.3 L348.6,722.2 L355.7,728.3 L362.8,735.6 L369.9,744.1 L377.0,753.6 L384.1,764.0 L391.1,774.9 L398.2,785.7 L405.3,796.1 L412.4,805.6 L419.5,814.1 L426.6,821.4 L433.7,827.5 L440.8,832.5 L447.9,836.4 L455.0,839.6 L462.0,842.0 L469.1,843.8 L476.2,845.3 L483.3,846.4 L490.4,847.2 L497.5,847.8 L504.6,848.3 L511.7,848.6 L518.8,848.9 L525.9,849.1 L532.9,849.2 L540.0,849.3 L547.1,849.4 L554.2,849.5 L561.3,849.5" fill="none" stroke="#cfc7b0" stroke-width="1.1" stroke-opacity="0.85"/>
<path d="M221.0,661.6 L228.1,661.7 L235.2,661.8 L242.3,661.8 L249.4,662.0 L256.4,662.1 L263.5,662.3 L270.6,662.6 L277.7,663.0 L284.8,663.5 L291.9,664.2 L299.0,665.1 L306.1,666.3 L313.2,667.8 L320.3,669.8 L327.3,672.5 L334.4,675.9 L341.5,680.2 L348.6,685.6 L355.7,692.2 L362.8,700.1 L369.9,709.4 L377.0,719.8 L384.1,731.1 L391.1,742.9 L398.2,754.7 L405.3,766.0 L412.4,776.4 L419.5,785.6 L426.6,793.5 L433.7,800.2 L440.8,805.6 L447.9,809.9 L455.0,813.3 L462.0,815.9 L469.1,817.9 L476.2,819.5 L483.3,820.7 L490.4,821.6 L497.5,822.2 L504.6,822.7 L511.7,823.1 L518.8,823.4 L525.9,823.6 L532.9,823.8 L540.0,823.9 L547.1,824.0 L554.2,824.1 L561.3,824.1" fill="none" stroke="#cfc7b0" stroke-width="1.2" stroke-opacity="0.85"/>
<path d="M221.0,727.7 L228.1,727.6 L235.2,727.5 L242.3,727.4 L249.4,727.2 L256.4,727.0 L263.5,726.7 L270.6,726.4 L277.7,725.8 L284.8,725.2 L291.9,724.2 L299.0,723.0 L306.1,721.4 L313.2,719.3 L320.3,716.6 L327.3,713.0 L334.4,708.4 L341.5,702.6 L348.6,695.3 L355.7,686.4 L362.8,675.7 L369.9,663.2 L377.0,649.1 L384.1,633.8 L391.1,617.9 L398.2,602.0 L405.3,586.7 L412.4,572.7 L419.5,560.2 L426.6,549.5 L433.7,540.5 L440.8,533.2 L447.9,527.4 L455.0,522.8 L462.0,519.2 L469.1,516.5 L476.2,514.4 L483.3,512.8 L490.4,511.6 L497.5,510.7 L504.6,510.0 L511.7,509.5 L518.8,509.1 L525.9,508.8 L532.9,508.6 L540.0,508.4 L547.1,508.3 L554.2,508.2 L561.3,508.2" fill="none" stroke="#cfc7b0" stroke-width="1.5" stroke-opacity="0.85"/>
<path d="M221.0,750.0 L228.1,749.9 L235.2,749.8 L242.3,749.7 L249.4,749.6 L256.4,749.3 L263.5,749.1 L270.6,748.7 L277.7,748.2 L284.8,747.5 L291.9,746.6 L299.0,745.4 L306.1,743.9 L313.2,741.8 L320.3,739.1 L327.3,735.6 L334.4,731.1 L341.5,725.4 L348.6,718.3 L355.7,709.5 L362.8,699.0 L369.9,686.7 L377.0,673.0 L384.1,658.0 L391.1,642.4 L398.2,626.8 L405.3,611.8 L412.4,598.0 L419.5,585.8 L426.6,575.2 L433.7,566.5 L440.8,559.3 L447.9,553.6 L455.0,549.1 L462.0,545.6 L469.1,542.9 L476.2,540.9 L483.3,539.3 L490.4,538.1 L497.5,537.2 L504.6,536.6 L511.7,536.1 L518.8,535.7 L525.9,535.4 L532.9,535.2 L540.0,535.0 L547.1,534.9 L554.2,534.8 L561.3,534.7" fill="none" stroke="#cfc7b0" stroke-width="1.0" stroke-opacity="0.85"/>
<path d="M221.0,726.3 L228.1,726.3 L235.2,726.2 L242.3,726.1 L249.4,726.0 L256.4,725.9 L263.5,725.7 L270.6,725.4 L277.7,725.0 L284.8,724.5 L291.9,723.9 L299.0,723.0 L306.1,721.8 L313.2,720.3 L320.3,718.3 L327.3,715.8 L334.4,712.5 L341.5,708.3 L348.6,703.0 L355.7,696.6 L362.8,688.8 L369.9,679.9 L377.0,669.7 L384.1,658.7 L391.1,647.2 L398.2,635.8 L405.3,624.8 L412.4,614.6 L419.5,605.6 L426.6,597.9 L433.7,591.5 L440.8,586.2 L447.9,582.0 L455.0,578.7 L462.0,576.1 L469.1,574.1 L476.2,572.6 L483.3,571.5 L490.4,570.6 L497.5,570.0 L504.6,569.5 L511.7,569.1 L518.8,568.8 L525.9,568.6 L532.9,568.5 L540.0,568.3 L547.1,568.2 L554.2,568.2 L561.3,568.1" fill="none" stroke="#cfc7b0" stroke-width="1.1" stroke-opacity="0.85"/>
<path d="M221.0,773.6 L228.1,773.5 L235.2,773.5 L242.3,773.4 L249.4,773.2 L256.4,773.1 L263.5,772.8 L270.6,772.5 L277.7,772.1 L284.8,771.6 L291.9,770.9 L299.0,770.0 L306.1,768.7 L313.2,767.1 L320.3,765.0 L327.3,762.2 L334.4,758.7 L341.5,754.2 L348.6,748.5 L355.7,741.6 L362.8,733.3 L369.9,723.7 L377.0,712.8 L384.1,701.0 L391.1,688.6 L398.2,676.3 L405.3,664.5 L412.4,653.6 L419.5,644.0 L426.6,635.7 L433.7,628.7 L440.8,623.1 L447.9,618.6 L455.0,615.0 L462.0,612.3 L469.1,610.2 L476.2,608.5 L483.3,607.3 L490.4,606.4 L497.5,605.7 L504.6,605.1 L511.7,604.7 L518.8,604.4 L525.9,604.2 L532.9,604.0 L540.0,603.9 L547.1,603.8 L554.2,603.7 L561.3,603.7" fill="none" stroke="#cfc7b0" stroke-width="1.0" stroke-opacity="0.85"/>
<path d="M221.0,781.5 L228.1,781.5 L235.2,781.4 L242.3,781.3 L249.4,781.2 L256.4,781.0 L263.5,780.8 L270.6,780.5 L277.7,780.1 L284.8,779.6 L291.9,779.0 L299.0,778.1 L306.1,776.9 L313.2,775.3 L320.3,773.3 L327.3,770.7 L334.4,767.3 L341.5,763.0 L348.6,757.6 L355.7,751.0 L362.8,743.0 L369.9,733.8 L377.0,723.4 L384.1,712.1 L391.1,700.3 L398.2,688.5 L405.3,677.3 L412.4,666.9 L419.5,657.6 L426.6,649.7 L433.7,643.1 L440.8,637.7 L447.9,633.4 L455.0,630.0 L462.0,627.3 L469.1,625.3 L476.2,623.8 L483.3,622.6 L490.4,621.7 L497.5,621.0 L504.6,620.5 L511.7,620.1 L518.8,619.8 L525.9,619.6 L532.9,619.5 L540.0,619.3 L547.1,619.3 L554.2,619.2 L561.3,619.1" fill="none" stroke="#cfc7b0" stroke-width="1.1" stroke-opacity="0.85"/>
<path d="M221.0,715.4 L228.1,715.4 L235.2,715.4 L242.3,715.4 L249.4,715.4 L256.4,715.4 L263.5,715.4 L270.6,715.4 L277.7,715.3 L284.8,715.3 L291.9,715.3 L299.0,715.2 L306.1,715.1 L313.2,715.0 L320.3,714.8 L327.3,714.6 L334.4,714.4 L341.5,714.1 L348.6,713.7 L355.7,713.2 L362.8,712.6 L369.9,711.9 L377.0,711.1 L384.1,710.3 L391.1,709.4 L398.2,708.5 L405.3,707.7 L412.4,706.9 L419.5,706.2 L426.6,705.6 L433.7,705.1 L440.8,704.7 L447.9,704.4 L455.0,704.2 L462.0,704.0 L469.1,703.8 L476.2,703.7 L483.3,703.6 L490.4,703.6 L497.5,703.5 L504.6,703.5 L511.7,703.4 L518.8,703.4 L525.9,703.4 L532.9,703.4 L540.0,703.4 L547.1,703.4 L554.2,703.4 L561.3,703.4" fill="none" stroke="#cfc7b0" stroke-width="1.2" stroke-opacity="0.85"/>
<path d="M221.0,712.8 L228.1,712.8 L235.2,712.8 L242.3,712.8 L249.4,712.8 L256.4,712.8 L263.5,712.8 L270.6,712.8 L277.7,712.8 L284.8,712.8 L291.9,712.8 L299.0,712.7 L306.1,712.7 L313.2,712.7 L320.3,712.6 L327.3,712.5 L334.4,712.4 L341.5,712.3 L348.6,712.2 L355.7,712.0 L362.8,711.8 L369.9,711.5 L377.0,711.2 L384.1,710.9 L391.1,710.6 L398.2,710.3 L405.3,710.0 L412.4,709.7 L419.5,709.4 L426.6,709.2 L433.7,709.0 L440.8,708.9 L447.9,708.8 L455.0,708.7 L462.0,708.6 L469.1,708.5 L476.2,708.5 L483.3,708.5 L490.4,708.4 L497.5,708.4 L504.6,708.4 L511.7,708.4 L518.8,708.4 L525.9,708.4 L532.9,708.4 L540.0,708.4 L547.1,708.4 L554.2,708.4 L561.3,708.4" fill="none" stroke="#cfc7b0" stroke-width="1.2" stroke-opacity="0.85"/>
<path d="M221.0,787.3 L228.1,787.3 L235.2,787.3 L242.3,787.3 L249.4,787.3 L256.4,787.3 L263.5,787.3 L270.6,787.3 L277.7,787.3 L284.8,787.3 L291.9,787.3 L299.0,787.3 L306.1,787.3 L313.2,787.3 L320.3,787.3 L327.3,787.3 L334.4,787.3 L341.5,787.3 L348.6,787.3 L355.7,787.4 L362.8,787.4 L369.9,787.4 L377.0,787.5 L384.1,787.5 L391.1,787.5 L398.2,787.6 L405.3,787.6 L412.4,787.6 L419.5,787.7 L426.6,787.7 L433.7,787.7 L440.8,787.7 L447.9,787.8 L455.0,787.8 L462.0,787.8 L469.1,787.8 L476.2,787.8 L483.3,787.8 L490.4,787.8 L497.5,787.8 L504.6,787.8 L511.7,787.8 L518.8,787.8 L525.9,787.8 L532.9,787.8 L540.0,787.8 L547.1,787.8 L554.2,787.8 L561.3,787.8" fill="none" stroke="#cfc7b0" stroke-width="1.0" stroke-opacity="0.85"/>
<path d="M221.0,790.3 L228.1,790.3 L235.2,790.3 L242.3,790.3 L249.4,790.3 L256.4,790.3 L263.5,790.3 L270.6,790.3 L277.7,790.3 L284.8,790.3 L291.9,790.3 L299.0,790.3 L306.1,790.2 L313.2,790.2 L320.3,790.2 L327.3,790.1 L334.4,790.0 L341.5,789.9 L348.6,789.8 L355.7,789.7 L362.8,789.5 L369.9,789.3 L377.0,789.1 L384.1,788.8 L391.1,788.6 L398.2,788.3 L405.3,788.1 L412.4,787.8 L419.5,787.6 L426.6,787.5 L433.7,787.3 L440.8,787.2 L447.9,787.1 L455.0,787.0 L462.0,787.0 L469.1,786.9 L476.2,786.9 L483.3,786.9 L490.4,786.9 L497.5,786.8 L504.6,786.8 L511.7,786.8 L518.8,786.8 L525.9,786.8 L532.9,786.8 L540.0,786.8 L547.1,786.8 L554.2,786.8 L561.3,786.8" fill="none" stroke="#cfc7b0" stroke-width="1.3" stroke-opacity="0.85"/>
<path d="M221.0,826.0 L228.1,825.9 L235.2,825.7 L242.3,825.6 L249.4,825.3 L256.4,825.0 L263.5,824.6 L270.6,824.0 L277.7,823.2 L284.8,822.2 L291.9,820.8 L299.0,819.0 L306.1,816.6 L313.2,813.5 L320.3,809.4 L327.3,804.0 L334.4,797.2 L341.5,788.4 L348.6,777.5 L355.7,764.1 L362.8,748.1 L369.9,729.4 L377.0,708.3 L384.1,685.4 L391.1,661.6 L398.2,637.7 L405.3,614.9 L412.4,593.8 L419.5,575.1 L426.6,559.1 L433.7,545.7 L440.8,534.7 L447.9,526.0 L455.0,519.2 L462.0,513.8 L469.1,509.7 L476.2,506.6 L483.3,504.2 L490.4,502.4 L497.5,501.0 L504.6,500.0 L511.7,499.2 L518.8,498.6 L525.9,498.2 L532.9,497.9 L540.0,497.6 L547.1,497.4 L554.2,497.3 L561.3,497.2" fill="none" stroke="#cfc7b0" stroke-width="1.4" stroke-opacity="0.85"/>
<path d="M221.0,884.9 L228.1,884.8 L235.2,884.7 L242.3,884.5 L249.4,884.3 L256.4,883.9 L263.5,883.5 L270.6,882.9 L277.7,882.1 L284.8,881.0 L291.9,879.6 L299.0,877.7 L306.1,875.2 L313.2,872.0 L320.3,867.7 L327.3,862.2 L334.4,855.1 L341.5,846.0 L348.6,834.7 L355.7,820.8 L362.8,804.1 L369.9,784.8 L377.0,762.9 L384.1,739.2 L391.1,714.5 L398.2,689.7 L405.3,666.0 L412.4,644.2 L419.5,624.8 L426.6,608.2 L433.7,594.3 L440.8,582.9 L447.9,573.9 L455.0,566.8 L462.0,561.2 L469.1,557.0 L476.2,553.7 L483.3,551.2 L490.4,549.4 L497.5,547.9 L504.6,546.9 L511.7,546.1 L518.8,545.5 L525.9,545.0 L532.9,544.7 L540.0,544.4 L547.1,544.2 L554.2,544.1 L561.3,544.0" fill="none" stroke="#cfc7b0" stroke-width="1.4" stroke-opacity="0.85"/>
<path d="M221.0,869.9 L228.1,869.9 L235.2,869.7 L242.3,869.6 L249.4,869.4 L256.4,869.1 L263.5,868.7 L270.6,868.2 L277.7,867.5 L284.8,866.6 L291.9,865.4 L299.0,863.8 L306.1,861.6 L313.2,858.9 L320.3,855.2 L327.3,850.5 L334.4,844.4 L341.5,836.6 L348.6,826.9 L355.7,815.0 L362.8,800.8 L369.9,784.2 L377.0,765.5 L384.1,745.2 L391.1,724.0 L398.2,702.8 L405.3,682.5 L412.4,663.8 L419.5,647.2 L426.6,633.0 L433.7,621.1 L440.8,611.4 L447.9,603.6 L455.0,597.5 L462.0,592.8 L469.1,589.1 L476.2,586.3 L483.3,584.2 L490.4,582.6 L497.5,581.4 L504.6,580.5 L511.7,579.8 L518.8,579.3 L525.9,578.9 L532.9,578.6 L540.0,578.4 L547.1,578.2 L554.2,578.1 L561.3,578.0" fill="none" stroke="#cfc7b0" stroke-width="1.1" stroke-opacity="0.85"/>
<path d="M221.0,842.9 L228.1,842.8 L235.2,842.7 L242.3,842.6 L249.4,842.4 L256.4,842.2 L263.5,841.9 L270.6,841.5 L277.7,840.9 L284.8,840.2 L291.9,839.3 L299.0,838.0 L306.1,836.3 L313.2,834.1 L320.3,831.2 L327.3,827.5 L334.4,822.6 L341.5,816.5 L348.6,808.8 L355.7,799.4 L362.8,788.1 L369.9,775.0 L377.0,760.2 L384.1,744.1 L391.1,727.4 L398.2,710.6 L405.3,694.6 L412.4,679.8 L419.5,666.6 L426.6,655.3 L433.7,645.9 L440.8,638.3 L447.9,632.1 L455.0,627.3 L462.0,623.5 L469.1,620.7 L476.2,618.4 L483.3,616.8 L490.4,615.5 L497.5,614.5 L504.6,613.8 L511.7,613.3 L518.8,612.9 L525.9,612.6 L532.9,612.3 L540.0,612.2 L547.1,612.0 L554.2,611.9 L561.3,611.9" fill="none" stroke="#cfc7b0" stroke-width="1.0" stroke-opacity="0.85"/>
<path d="M221.0,798.8 L228.1,798.8 L235.2,798.7 L242.3,798.6 L249.4,798.5 L256.4,798.4 L263.5,798.2 L270.6,798.0 L277.7,797.7 L284.8,797.3 L291.9,796.7 L299.0,796.0 L306.1,795.0 L313.2,793.7 L320.3,792.1 L327.3,789.9 L334.4,787.1 L341.5,783.6 L348.6,779.2 L355.7,773.7 L362.8,767.2 L369.9,759.6 L377.0,751.1 L384.1,741.8 L391.1,732.2 L398.2,722.5 L405.3,713.2 L412.4,704.7 L419.5,697.1 L426.6,690.6 L433.7,685.2 L440.8,680.7 L447.9,677.2 L455.0,674.4 L462.0,672.3 L469.1,670.6 L476.2,669.3 L483.3,668.3 L490.4,667.6 L497.5,667.1 L504.6,666.6 L511.7,666.3 L518.8,666.1 L525.9,665.9 L532.9,665.8 L540.0,665.7 L547.1,665.6 L554.2,665.6 L561.3,665.5" fill="none" stroke="#cfc7b0" stroke-width="1.1" stroke-opacity="0.85"/>
<path d="M221.0,858.6 L228.1,858.6 L235.2,858.5 L242.3,858.4 L249.4,858.3 L256.4,858.2 L263.5,857.9 L270.6,857.7 L277.7,857.3 L284.8,856.8 L291.9,856.1 L299.0,855.3 L306.1,854.1 L313.2,852.6 L320.3,850.6 L327.3,848.0 L334.4,844.7 L341.5,840.5 L348.6,835.2 L355.7,828.8 L362.8,821.0 L369.9,812.0 L377.0,801.8 L384.1,790.8 L391.1,779.3 L398.2,767.8 L405.3,756.8 L412.4,746.6 L419.5,737.6 L426.6,729.8 L433.7,723.4 L440.8,718.1 L447.9,713.9 L455.0,710.6 L462.0,708.0 L469.1,706.0 L476.2,704.5 L483.3,703.3 L490.4,702.5 L497.5,701.8 L504.6,701.3 L511.7,701.0 L518.8,700.7 L525.9,700.5 L532.9,700.3 L540.0,700.2 L547.1,700.1 L554.2,700.0 L561.3,700.0" fill="none" stroke="#cfc7b0" stroke-width="1.2" stroke-opacity="0.85"/>
<path d="M221.0,789.7 L228.1,789.7 L235.2,789.7 L242.3,789.7 L249.4,789.7 L256.4,789.7 L263.5,789.7 L270.6,789.7 L277.7,789.6 L284.8,789.6 L291.9,789.6 L299.0,789.6 L306.1,789.6 L313.2,789.5 L320.3,789.5 L327.3,789.4 L334.4,789.3 L341.5,789.2 L348.6,789.1 L355.7,789.0 L362.8,788.8 L369.9,788.6 L377.0,788.3 L384.1,788.1 L391.1,787.8 L398.2,787.5 L405.3,787.3 L412.4,787.0 L419.5,786.8 L426.6,786.6 L433.7,786.5 L440.8,786.4 L447.9,786.3 L455.0,786.2 L462.0,786.1 L469.1,786.1 L476.2,786.0 L483.3,786.0 L490.4,786.0 L497.5,786.0 L504.6,786.0 L511.7,786.0 L518.8,785.9 L525.9,785.9 L532.9,785.9 L540.0,785.9 L547.1,785.9 L554.2,785.9 L561.3,785.9" fill="none" stroke="#cfc7b0" stroke-width="1.4" stroke-opacity="0.85"/>
<path d="M221.0,793.1 L228.1,793.1 L235.2,793.1 L242.3,793.1 L249.4,793.1 L256.4,793.1 L263.5,793.1 L270.6,793.0 L277.7,793.0 L284.8,793.0 L291.9,792.9 L299.0,792.9 L306.1,792.8 L313.2,792.7 L320.3,792.5 L327.3,792.3 L334.4,792.1 L341.5,791.8 L348.6,791.4 L355.7,790.9 L362.8,790.3 L369.9,789.6 L377.0,788.9 L384.1,788.1 L391.1,787.2 L398.2,786.4 L405.3,785.5 L412.4,784.8 L419.5,784.1 L426.6,783.5 L433.7,783.1 L440.8,782.7 L447.9,782.4 L455.0,782.1 L462.0,781.9 L469.1,781.8 L476.2,781.7 L483.3,781.6 L490.4,781.5 L497.5,781.5 L504.6,781.4 L511.7,781.4 L518.8,781.4 L525.9,781.4 L532.9,781.3 L540.0,781.3 L547.1,781.3 L554.2,781.3 L561.3,781.3" fill="none" stroke="#cfc7b0" stroke-width="1.0" stroke-opacity="0.85"/>
<path d="M221.0,796.7 L228.1,796.7 L235.2,796.7 L242.3,796.7 L249.4,796.7 L256.4,796.7 L263.5,796.7 L270.6,796.7 L277.7,796.7 L284.8,796.7 L291.9,796.8 L299.0,796.8 L306.1,796.8 L313.2,796.8 L320.3,796.9 L327.3,796.9 L334.4,797.0 L341.5,797.1 L348.6,797.2 L355.7,797.3 L362.8,797.5 L369.9,797.7 L377.0,797.9 L384.1,798.1 L391.1,798.4 L398.2,798.6 L405.3,798.8 L412.4,799.0 L419.5,799.2 L426.6,799.4 L433.7,799.5 L440.8,799.6 L447.9,799.7 L455.0,799.8 L462.0,799.8 L469.1,799.9 L476.2,799.9 L483.3,799.9 L490.4,799.9 L497.5,800.0 L504.6,800.0 L511.7,800.0 L518.8,800.0 L525.9,800.0 L532.9,800.0 L540.0,800.0 L547.1,800.0 L554.2,800.0 L561.3,800.0 L561.3,885.5 L554.2,885.5 L547.1,885.5 L540.0,885.5 L532.9,885.5 L525.9,885.5 L518.8,885.5 L511.7,885.5 L504.6,885.5 L497.5,885.5 L490.4,885.5 L483.3,885.4 L476.2,885.4 L469.1,885.4 L462.0,885.4 L455.0,885.3 L447.9,885.3 L440.8,885.2 L433.7,885.1 L426.6,885.0 L419.5,884.9 L412.4,884.8 L405.3,884.6 L398.2,884.4 L391.1,884.2 L384.1,884.1 L377.0,883.9 L369.9,883.7 L362.8,883.6 L355.7,883.5 L348.6,883.4 L341.5,883.3 L334.4,883.2 L327.3,883.2 L320.3,883.1 L313.2,883.1 L306.1,883.1 L299.0,883.1 L291.9,883.0 L284.8,883.0 L277.7,883.0 L270.6,883.0 L263.5,883.0 L256.4,883.0 L249.4,883.0 L242.3,883.0 L235.2,883.0 L228.1,883.0 L221.0,883.0Z" fill="#8b7ea4" />
<path d="M221.0,794.3 L228.1,794.3 L235.2,794.3 L242.3,794.3 L249.4,794.3 L256.4,794.3 L263.5,794.3 L270.6,794.3 L277.7,794.3 L284.8,794.3 L291.9,794.2 L299.0,794.2 L306.1,794.2 L313.2,794.2 L320.3,794.1 L327.3,794.1 L334.4,794.0 L341.5,793.9 L348.6,793.8 L355.7,793.7 L362.8,793.5 L369.9,793.3 L377.0,793.1 L384.1,792.9 L391.1,792.6 L398.2,792.4 L405.3,792.2 L412.4,792.0 L419.5,791.8 L426.6,791.6 L433.7,791.5 L440.8,791.4 L447.9,791.3 L455.0,791.2 L462.0,791.2 L469.1,791.1 L476.2,791.1 L483.3,791.1 L490.4,791.1 L497.5,791.0 L504.6,791.0 L511.7,791.0 L518.8,791.0 L525.9,791.0 L532.9,791.0 L540.0,791.0 L547.1,791.0 L554.2,791.0 L561.3,791.0 L561.3,800.3 L554.2,800.3 L547.1,800.3 L540.0,800.3 L532.9,800.3 L525.9,800.3 L518.8,800.3 L511.7,800.3 L504.6,800.3 L497.5,800.3 L490.4,800.2 L483.3,800.2 L476.2,800.2 L469.1,800.2 L462.0,800.1 L455.0,800.1 L447.9,800.0 L440.8,799.9 L433.7,799.8 L426.6,799.7 L419.5,799.5 L412.4,799.3 L405.3,799.1 L398.2,798.9 L391.1,798.6 L384.1,798.4 L377.0,798.2 L369.9,798.0 L362.8,797.8 L355.7,797.6 L348.6,797.5 L341.5,797.4 L334.4,797.3 L327.3,797.2 L320.3,797.2 L313.2,797.1 L306.1,797.1 L299.0,797.1 L291.9,797.1 L284.8,797.0 L277.7,797.0 L270.6,797.0 L263.5,797.0 L256.4,797.0 L249.4,797.0 L242.3,797.0 L235.2,797.0 L228.1,797.0 L221.0,797.0Z" fill="#cfc7b0" />
<path d="M221.0,883.0 L228.1,883.0 L235.2,883.0 L242.3,883.0 L249.4,883.0 L256.4,883.0 L263.5,883.0 L270.6,883.0 L277.7,883.0 L284.8,883.0 L291.9,883.0 L299.0,883.1 L306.1,883.1 L313.2,883.1 L320.3,883.1 L327.3,883.2 L334.4,883.2 L341.5,883.3 L348.6,883.4 L355.7,883.5 L362.8,883.6 L369.9,883.7 L377.0,883.9 L384.1,884.1 L391.1,884.2 L398.2,884.4 L405.3,884.6 L412.4,884.8 L419.5,884.9 L426.6,885.0 L433.7,885.1 L440.8,885.2 L447.9,885.3 L455.0,885.3 L462.0,885.4 L469.1,885.4 L476.2,885.4 L483.3,885.4 L490.4,885.5 L497.5,885.5 L504.6,885.5 L511.7,885.5 L518.8,885.5 L525.9,885.5 L532.9,885.5 L540.0,885.5 L547.1,885.5 L554.2,885.5 L561.3,885.5 L561.3,888.0 L554.2,888.0 L547.1,888.0 L540.0,888.0 L532.9,888.0 L525.9,888.0 L518.8,888.0 L511.7,888.0 L504.6,888.0 L497.5,888.0 L490.4,888.0 L483.3,888.0 L476.2,888.0 L469.1,888.0 L462.0,888.0 L455.0,888.0 L447.9,888.0 L440.8,888.0 L433.7,888.0 L426.6,888.0 L419.5,888.0 L412.4,888.0 L405.3,888.0 L398.2,888.0 L391.1,888.0 L384.1,888.0 L377.0,888.0 L369.9,888.0 L362.8,888.0 L355.7,888.0 L348.6,888.0 L341.5,888.0 L334.4,888.0 L327.3,888.0 L320.3,888.0 L313.2,888.0 L306.1,888.0 L299.0,888.0 L291.9,888.0 L284.8,888.0 L277.7,888.0 L270.6,888.0 L263.5,888.0 L256.4,888.0 L249.4,888.0 L242.3,888.0 L235.2,888.0 L228.1,888.0 L221.0,888.0Z" fill="#cfc7b0" />
<path d="M221.0,718.0 L228.1,718.0 L235.2,718.0 L242.3,718.0 L249.4,718.0 L256.4,718.0 L263.5,718.0 L270.6,718.0 L277.7,718.0 L284.8,718.0 L291.9,717.9 L299.0,717.9 L306.1,717.9 L313.2,717.9 L320.3,717.8 L327.3,717.8 L334.4,717.7 L341.5,717.6 L348.6,717.5 L355.7,717.4 L362.8,717.2 L369.9,717.1 L377.0,716.9 L384.1,716.6 L391.1,716.4 L398.2,716.2 L405.3,715.9 L412.4,715.7 L419.5,715.6 L426.6,715.4 L433.7,715.3 L440.8,715.2 L447.9,715.1 L455.0,715.0 L462.0,715.0 L469.1,714.9 L476.2,714.9 L483.3,714.9 L490.4,714.9 L497.5,714.8 L504.6,714.8 L511.7,714.8 L518.8,714.8 L525.9,714.8 L532.9,714.8 L540.0,714.8 L547.1,714.8 L554.2,714.8 L561.3,714.8 L561.3,779.0 L554.2,779.0 L547.1,779.0 L540.0,779.0 L532.9,779.0 L525.9,779.0 L518.8,779.0 L511.7,779.0 L504.6,779.1 L497.5,779.1 L490.4,779.1 L483.3,779.1 L476.2,779.2 L469.1,779.2 L462.0,779.3 L455.0,779.4 L447.9,779.5 L440.8,779.7 L433.7,779.9 L426.6,780.1 L419.5,780.4 L412.4,780.8 L405.3,781.1 L398.2,781.6 L391.1,782.0 L384.1,782.4 L377.0,782.9 L369.9,783.2 L362.8,783.6 L355.7,783.9 L348.6,784.1 L341.5,784.3 L334.4,784.5 L327.3,784.6 L320.3,784.7 L313.2,784.8 L306.1,784.8 L299.0,784.9 L291.9,784.9 L284.8,784.9 L277.7,784.9 L270.6,785.0 L263.5,785.0 L256.4,785.0 L249.4,785.0 L242.3,785.0 L235.2,785.0 L228.1,785.0 L221.0,785.0Z" fill="#d090b2" />
<path d="M221.0,652.0 L228.1,652.0 L235.2,652.0 L242.3,652.0 L249.4,652.0 L256.4,652.0 L263.5,652.0 L270.6,652.0 L277.7,652.0 L284.8,652.0 L291.9,652.0 L299.0,652.0 L306.1,651.9 L313.2,651.9 L320.3,651.9 L327.3,651.9 L334.4,651.8 L341.5,651.8 L348.6,651.7 L355.7,651.6 L362.8,651.5 L369.9,651.4 L377.0,651.3 L384.1,651.1 L391.1,651.0 L398.2,650.9 L405.3,650.7 L412.4,650.6 L419.5,650.5 L426.6,650.4 L433.7,650.3 L440.8,650.2 L447.9,650.2 L455.0,650.1 L462.0,650.1 L469.1,650.1 L476.2,650.1 L483.3,650.0 L490.4,650.0 L497.5,650.0 L504.6,650.0 L511.7,650.0 L518.8,650.0 L525.9,650.0 L532.9,650.0 L540.0,650.0 L547.1,650.0 L554.2,650.0 L561.3,650.0 L561.3,705.0 L554.2,705.0 L547.1,705.0 L540.0,705.0 L532.9,705.0 L525.9,705.0 L518.8,705.0 L511.7,705.0 L504.6,705.0 L497.5,705.0 L490.4,705.1 L483.3,705.1 L476.2,705.1 L469.1,705.2 L462.0,705.2 L455.0,705.3 L447.9,705.4 L440.8,705.5 L433.7,705.6 L426.6,705.8 L419.5,705.9 L412.4,706.2 L405.3,706.4 L398.2,706.7 L391.1,707.0 L384.1,707.3 L377.0,707.6 L369.9,707.8 L362.8,708.1 L355.7,708.2 L348.6,708.4 L341.5,708.5 L334.4,708.6 L327.3,708.7 L320.3,708.8 L313.2,708.8 L306.1,708.9 L299.0,708.9 L291.9,708.9 L284.8,709.0 L277.7,709.0 L270.6,709.0 L263.5,709.0 L256.4,709.0 L249.4,709.0 L242.3,709.0 L235.2,709.0 L228.1,709.0 L221.0,709.0Z" fill="#f9c4d9" />
<path d="M221.0,591.6 L228.1,591.6 L235.2,591.6 L242.3,591.6 L249.4,591.6 L256.4,591.6 L263.5,591.6 L270.6,591.6 L277.7,591.6 L284.8,591.6 L291.9,591.7 L299.0,591.7 L306.1,591.7 L313.2,591.7 L320.3,591.8 L327.3,591.9 L334.4,591.9 L341.5,592.0 L348.6,592.2 L355.7,592.3 L362.8,592.5 L369.9,592.7 L377.0,593.0 L384.1,593.3 L391.1,593.5 L398.2,593.8 L405.3,594.1 L412.4,594.4 L419.5,594.6 L426.6,594.8 L433.7,594.9 L440.8,595.1 L447.9,595.2 L455.0,595.2 L462.0,595.3 L469.1,595.4 L476.2,595.4 L483.3,595.4 L490.4,595.4 L497.5,595.5 L504.6,595.5 L511.7,595.5 L518.8,595.5 L525.9,595.5 L532.9,595.5 L540.0,595.5 L547.1,595.5 L554.2,595.5 L561.3,595.5 L561.3,640.3 L554.2,640.3 L547.1,640.3 L540.0,640.3 L532.9,640.3 L525.9,640.3 L518.8,640.3 L511.7,640.3 L504.6,640.3 L497.5,640.2 L490.4,640.2 L483.3,640.2 L476.2,640.1 L469.1,640.1 L462.0,640.0 L455.0,639.9 L447.9,639.8 L440.8,639.6 L433.7,639.4 L426.6,639.2 L419.5,638.9 L412.4,638.6 L405.3,638.2 L398.2,637.8 L391.1,637.4 L384.1,637.0 L377.0,636.6 L369.9,636.2 L362.8,635.9 L355.7,635.6 L348.6,635.4 L341.5,635.2 L334.4,635.0 L327.3,634.9 L320.3,634.8 L313.2,634.7 L306.1,634.7 L299.0,634.6 L291.9,634.6 L284.8,634.6 L277.7,634.5 L270.6,634.5 L263.5,634.5 L256.4,634.5 L249.4,634.5 L242.3,634.5 L235.2,634.5 L228.1,634.5 L221.0,634.5Z" fill="#fbcac6" />
<path d="M221.0,509.3 L228.1,509.3 L235.2,509.3 L242.3,509.3 L249.4,509.3 L256.4,509.3 L263.5,509.4 L270.6,509.4 L277.7,509.4 L284.8,509.4 L291.9,509.5 L299.0,509.6 L306.1,509.6 L313.2,509.8 L320.3,509.9 L327.3,510.1 L334.4,510.4 L341.5,510.7 L348.6,511.1 L355.7,511.6 L362.8,512.2 L369.9,512.9 L377.0,513.7 L384.1,514.5 L391.1,515.4 L398.2,516.3 L405.3,517.1 L412.4,517.9 L419.5,518.6 L426.6,519.2 L433.7,519.7 L440.8,520.1 L447.9,520.4 L455.0,520.7 L462.0,520.9 L469.1,521.0 L476.2,521.2 L483.3,521.2 L490.4,521.3 L497.5,521.4 L504.6,521.4 L511.7,521.4 L518.8,521.4 L525.9,521.5 L532.9,521.5 L540.0,521.5 L547.1,521.5 L554.2,521.5 L561.3,521.5 L561.3,547.0 L554.2,547.0 L547.1,547.0 L540.0,547.0 L532.9,547.0 L525.9,547.0 L518.8,547.0 L511.7,546.9 L504.6,546.9 L497.5,546.9 L490.4,546.8 L483.3,546.8 L476.2,546.7 L469.1,546.6 L462.0,546.4 L455.0,546.3 L447.9,546.0 L440.8,545.7 L433.7,545.4 L426.6,544.9 L419.5,544.4 L412.4,543.8 L405.3,543.1 L398.2,542.3 L391.1,541.5 L384.1,540.7 L377.0,539.9 L369.9,539.2 L362.8,538.6 L355.7,538.1 L348.6,537.6 L341.5,537.3 L334.4,537.0 L327.3,536.7 L320.3,536.6 L313.2,536.4 L306.1,536.3 L299.0,536.2 L291.9,536.2 L284.8,536.1 L277.7,536.1 L270.6,536.1 L263.5,536.0 L256.4,536.0 L249.4,536.0 L242.3,536.0 L235.2,536.0 L228.1,536.0 L221.0,536.0Z" fill="#a9c5e6" />
<path d="M221.0,501.0 L228.1,501.0 L235.2,501.1 L242.3,501.1 L249.4,501.2 L256.4,501.3 L263.5,501.4 L270.6,501.6 L277.7,501.8 L284.8,502.1 L291.9,502.5 L299.0,503.0 L306.1,503.6 L313.2,504.5 L320.3,505.7 L327.3,507.2 L334.4,509.2 L341.5,511.6 L348.6,514.7 L355.7,518.5 L362.8,523.0 L369.9,528.3 L377.0,534.3 L384.1,540.8 L391.1,547.5 L398.2,554.2 L405.3,560.7 L412.4,566.7 L419.5,572.0 L426.6,576.5 L433.7,580.3 L440.8,583.4 L447.9,585.8 L455.0,587.8 L462.0,589.3 L469.1,590.5 L476.2,591.4 L483.3,592.0 L490.4,592.5 L497.5,592.9 L504.6,593.2 L511.7,593.4 L518.8,593.6 L525.9,593.7 L532.9,593.8 L540.0,593.9 L547.1,593.9 L554.2,594.0 L561.3,594.0" fill="none" stroke="#5b6f9a" stroke-width="1" stroke-opacity="0.9"/>
<path d="M221.0,544.2 L228.1,544.2 L235.2,544.2 L242.3,544.2 L249.4,544.2 L256.4,544.2 L263.5,544.3 L270.6,544.3 L277.7,544.3 L284.8,544.4 L291.9,544.4 L299.0,544.5 L306.1,544.6 L313.2,544.7 L320.3,544.9 L327.3,545.2 L334.4,545.5 L341.5,545.8 L348.6,546.3 L355.7,546.9 L362.8,547.6 L369.9,548.4 L377.0,549.4 L384.1,550.4 L391.1,551.4 L398.2,552.4 L405.3,553.4 L412.4,554.4 L419.5,555.2 L426.6,555.9 L433.7,556.5 L440.8,557.0 L447.9,557.3 L455.0,557.6 L462.0,557.9 L469.1,558.1 L476.2,558.2 L483.3,558.3 L490.4,558.4 L497.5,558.4 L504.6,558.5 L511.7,558.5 L518.8,558.5 L525.9,558.6 L532.9,558.6 L540.0,558.6 L547.1,558.6 L554.2,558.6 L561.3,558.6 L561.3,585.0 L554.2,585.0 L547.1,585.0 L540.0,585.0 L532.9,585.0 L525.9,585.0 L518.8,584.9 L511.7,584.9 L504.6,584.9 L497.5,584.8 L490.4,584.8 L483.3,584.7 L476.2,584.6 L469.1,584.5 L462.0,584.3 L455.0,584.1 L447.9,583.8 L440.8,583.5 L433.7,583.1 L426.6,582.5 L419.5,581.9 L412.4,581.1 L405.3,580.3 L398.2,579.4 L391.1,578.4 L384.1,577.4 L377.0,576.5 L369.9,575.7 L362.8,574.9 L355.7,574.3 L348.6,573.7 L341.5,573.3 L334.4,573.0 L327.3,572.7 L320.3,572.5 L313.2,572.3 L306.1,572.2 L299.0,572.1 L291.9,572.0 L284.8,572.0 L277.7,571.9 L270.6,571.9 L263.5,571.9 L256.4,571.8 L249.4,571.8 L242.3,571.8 L235.2,571.8 L228.1,571.8 L221.0,571.8Z" fill="#a9d6bf" />
<path d="M221.0,481.0 L228.1,481.0 L235.2,481.0 L242.3,481.0 L249.4,481.0 L256.4,481.0 L263.5,481.0 L270.6,481.1 L277.7,481.1 L284.8,481.1 L291.9,481.2 L299.0,481.2 L306.1,481.3 L313.2,481.4 L320.3,481.5 L327.3,481.7 L334.4,481.9 L341.5,482.2 L348.6,482.6 L355.7,483.0 L362.8,483.6 L369.9,484.2 L377.0,484.9 L384.1,485.6 L391.1,486.4 L398.2,487.2 L405.3,487.9 L412.4,488.6 L419.5,489.2 L426.6,489.8 L433.7,490.2 L440.8,490.6 L447.9,490.9 L455.0,491.1 L462.0,491.3 L469.1,491.4 L476.2,491.5 L483.3,491.6 L490.4,491.6 L497.5,491.7 L504.6,491.7 L511.7,491.7 L518.8,491.8 L525.9,491.8 L532.9,491.8 L540.0,491.8 L547.1,491.8 L554.2,491.8 L561.3,491.8 L561.3,510.5 L554.2,510.5 L547.1,510.5 L540.0,510.5 L532.9,510.5 L525.9,510.5 L518.8,510.5 L511.7,510.4 L504.6,510.4 L497.5,510.4 L490.4,510.3 L483.3,510.3 L476.2,510.2 L469.1,510.1 L462.0,510.0 L455.0,509.8 L447.9,509.6 L440.8,509.3 L433.7,509.0 L426.6,508.6 L419.5,508.1 L412.4,507.5 L405.3,506.8 L398.2,506.1 L391.1,505.3 L384.1,504.6 L377.0,503.9 L369.9,503.2 L362.8,502.6 L355.7,502.1 L348.6,501.7 L341.5,501.4 L334.4,501.1 L327.3,500.9 L320.3,500.7 L313.2,500.6 L306.1,500.5 L299.0,500.4 L291.9,500.4 L284.8,500.3 L277.7,500.3 L270.6,500.3 L263.5,500.2 L256.4,500.2 L249.4,500.2 L242.3,500.2 L235.2,500.2 L228.1,500.2 L221.0,500.2Z" fill="#4f74b6" />
<path d="M221.0,501.5 L228.1,501.5 L235.2,501.5 L242.3,501.5 L249.4,501.5 L256.4,501.6 L263.5,501.6 L270.6,501.6 L277.7,501.7 L284.8,501.7 L291.9,501.8 L299.0,501.9 L306.1,502.0 L313.2,502.2 L320.3,502.4 L327.3,502.7 L334.4,503.1 L341.5,503.6 L348.6,504.2 L355.7,504.9 L362.8,505.8 L369.9,506.8 L377.0,507.9 L384.1,509.2 L391.1,510.5 L398.2,511.8 L405.3,513.1 L412.4,514.2 L419.5,515.2 L426.6,516.1 L433.7,516.8 L440.8,517.4 L447.9,517.9 L455.0,518.3 L462.0,518.6 L469.1,518.8 L476.2,519.0 L483.3,519.1 L490.4,519.2 L497.5,519.3 L504.6,519.3 L511.7,519.4 L518.8,519.4 L525.9,519.4 L532.9,519.5 L540.0,519.5 L547.1,519.5 L554.2,519.5 L561.3,519.5" fill="none" stroke="#6a7fae" stroke-width="1" stroke-opacity="0.9"/>
<path d="M221.0,575.0 L228.1,575.0 L235.2,575.0 L242.3,575.0 L249.4,575.0 L256.4,575.1 L263.5,575.1 L270.6,575.1 L277.7,575.2 L284.8,575.2 L291.9,575.3 L299.0,575.4 L306.1,575.6 L313.2,575.7 L320.3,576.0 L327.3,576.3 L334.4,576.7 L341.5,577.2 L348.6,577.9 L355.7,578.7 L362.8,579.6 L369.9,580.7 L377.0,582.0 L384.1,583.3 L391.1,584.8 L398.2,586.2 L405.3,587.5 L412.4,588.8 L419.5,589.9 L426.6,590.8 L433.7,591.6 L440.8,592.3 L447.9,592.8 L455.0,593.2 L462.0,593.5 L469.1,593.8 L476.2,593.9 L483.3,594.1 L490.4,594.2 L497.5,594.3 L504.6,594.3 L511.7,594.4 L518.8,594.4 L525.9,594.4 L532.9,594.5 L540.0,594.5 L547.1,594.5 L554.2,594.5 L561.3,594.5" fill="none" stroke="#6a7fae" stroke-width="1" stroke-opacity="0.9"/>
<path d="M221.0,481.5 L228.1,481.5 L235.2,481.5 L242.3,481.5 L249.4,481.5 L256.4,481.5 L263.5,481.4 L270.6,481.4 L277.7,481.4 L284.8,481.3 L291.9,481.3 L299.0,481.2 L306.1,481.1 L313.2,481.0 L320.3,480.8 L327.3,480.6 L334.4,480.3 L341.5,479.9 L348.6,479.5 L355.7,478.9 L362.8,478.2 L369.9,477.4 L377.0,476.5 L384.1,475.6 L391.1,474.6 L398.2,473.5 L405.3,472.6 L412.4,471.7 L419.5,470.9 L426.6,470.2 L433.7,469.6 L440.8,469.2 L447.9,468.8 L455.0,468.5 L462.0,468.3 L469.1,468.1 L476.2,468.0 L483.3,467.9 L490.4,467.8 L497.5,467.8 L504.6,467.7 L511.7,467.7 L518.8,467.7 L525.9,467.6 L532.9,467.6 L540.0,467.6 L547.1,467.6 L554.2,467.6 L561.3,467.6" fill="none" stroke="#d9cfc0" stroke-width="1.1" stroke-opacity="0.95"/>
<path d="M221.0,509.5 L228.1,509.5 L235.2,509.5 L242.3,509.4 L249.4,509.4 L256.4,509.4 L263.5,509.3 L270.6,509.3 L277.7,509.2 L284.8,509.0 L291.9,508.9 L299.0,508.6 L306.1,508.3 L313.2,507.9 L320.3,507.4 L327.3,506.8 L334.4,505.9 L341.5,504.8 L348.6,503.4 L355.7,501.8 L362.8,499.8 L369.9,497.4 L377.0,494.8 L384.1,491.9 L391.1,488.9 L398.2,486.0 L405.3,483.1 L412.4,480.5 L419.5,478.1 L426.6,476.1 L433.7,474.5 L440.8,473.1 L447.9,472.0 L455.0,471.1 L462.0,470.5 L469.1,470.0 L476.2,469.6 L483.3,469.3 L490.4,469.0 L497.5,468.9 L504.6,468.7 L511.7,468.6 L518.8,468.6 L525.9,468.5 L532.9,468.5 L540.0,468.5 L547.1,468.4 L554.2,468.4 L561.3,468.4" fill="none" stroke="#cfd6e4" stroke-width="1.1" stroke-opacity="0.95"/>
<path d="M221.0,544.5 L228.1,544.5 L235.2,544.4 L242.3,544.4 L249.4,544.3 L256.4,544.3 L263.5,544.2 L270.6,544.0 L277.7,543.9 L284.8,543.6 L291.9,543.3 L299.0,542.9 L306.1,542.4 L313.2,541.6 L320.3,540.7 L327.3,539.5 L334.4,537.9 L341.5,535.9 L348.6,533.4 L355.7,530.3 L362.8,526.7 L369.9,522.4 L377.0,517.5 L384.1,512.3 L391.1,506.9 L398.2,501.4 L405.3,496.2 L412.4,491.3 L419.5,487.0 L426.6,483.4 L433.7,480.3 L440.8,477.8 L447.9,475.8 L455.0,474.2 L462.0,473.0 L469.1,472.1 L476.2,471.3 L483.3,470.8 L490.4,470.4 L497.5,470.1 L504.6,469.8 L511.7,469.7 L518.8,469.5 L525.9,469.4 L532.9,469.4 L540.0,469.3 L547.1,469.3 L554.2,469.2 L561.3,469.2" fill="none" stroke="#cfe3d6" stroke-width="1.1" stroke-opacity="0.95"/>
<path d="M221.0,503.0 L228.1,503.0 L235.2,503.0 L242.3,503.0 L249.4,502.9 L256.4,502.9 L263.5,502.9 L270.6,502.8 L277.7,502.7 L284.8,502.6 L291.9,502.5 L299.0,502.3 L306.1,502.1 L313.2,501.8 L320.3,501.4 L327.3,500.8 L334.4,500.2 L341.5,499.3 L348.6,498.2 L355.7,496.9 L362.8,495.3 L369.9,493.5 L377.0,491.4 L384.1,489.1 L391.1,486.8 L398.2,484.4 L405.3,482.1 L412.4,480.0 L419.5,478.2 L426.6,476.6 L433.7,475.3 L440.8,474.2 L447.9,473.3 L455.0,472.7 L462.0,472.1 L469.1,471.7 L476.2,471.4 L483.3,471.2 L490.4,471.0 L497.5,470.9 L504.6,470.8 L511.7,470.7 L518.8,470.6 L525.9,470.6 L532.9,470.6 L540.0,470.5 L547.1,470.5 L554.2,470.5 L561.3,470.5" fill="none" stroke="#e9c9d3" stroke-width="1.1" stroke-opacity="0.95"/>
<path d="M221.0,583.5 L228.1,583.5 L235.2,583.4 L242.3,583.4 L249.4,583.3 L256.4,583.2 L263.5,583.1 L270.6,582.9 L277.7,582.7 L284.8,582.4 L291.9,581.9 L299.0,581.3 L306.1,580.5 L313.2,579.5 L320.3,578.0 L327.3,576.1 L334.4,573.6 L341.5,570.4 L348.6,566.3 L355.7,561.2 L362.8,555.1 L369.9,547.9 L377.0,539.9 L384.1,531.2 L391.1,522.3 L398.2,513.6 L405.3,505.5 L412.4,498.3 L419.5,492.1 L426.6,487.0 L433.7,482.8 L440.8,479.6 L447.9,477.1 L455.0,475.2 L462.0,473.7 L469.1,472.6 L476.2,471.8 L483.3,471.2 L490.4,470.8 L497.5,470.4 L504.6,470.2 L511.7,470.0 L518.8,469.9 L525.9,469.8 L532.9,469.7 L540.0,469.7 L547.1,469.6 L554.2,469.6 L561.3,469.6 L561.3,474.2 L554.2,474.2 L547.1,474.2 L540.0,474.3 L532.9,474.3 L525.9,474.4 L518.8,474.5 L511.7,474.6 L504.6,474.8 L497.5,475.1 L490.4,475.4 L483.3,475.8 L476.2,476.5 L469.1,477.3 L462.0,478.4 L455.0,479.9 L447.9,481.8 L440.8,484.4 L433.7,487.8 L426.6,492.0 L419.5,497.2 L412.4,503.6 L405.3,511.0 L398.2,519.2 L391.1,528.1 L384.1,537.2 L377.0,546.1 L369.9,554.4 L362.8,561.7 L355.7,568.0 L348.6,573.2 L341.5,577.4 L334.4,580.7 L327.3,583.3 L320.3,585.2 L313.2,586.7 L306.1,587.8 L299.0,588.6 L291.9,589.2 L284.8,589.6 L277.7,590.0 L270.6,590.2 L263.5,590.4 L256.4,590.5 L249.4,590.6 L242.3,590.7 L235.2,590.7 L228.1,590.8 L221.0,590.8Z" fill="#f7b7d0" />
<path d="M221.0,643.6 L228.1,643.6 L235.2,643.5 L242.3,643.4 L249.4,643.3 L256.4,643.2 L263.5,643.0 L270.6,642.7 L277.7,642.4 L284.8,641.9 L291.9,641.3 L299.0,640.4 L306.1,639.2 L313.2,637.6 L320.3,635.5 L327.3,632.6 L334.4,628.9 L341.5,624.2 L348.6,618.1 L355.7,610.5 L362.8,601.4 L369.9,590.7 L377.0,578.7 L384.1,565.8 L391.1,552.6 L398.2,539.6 L405.3,527.6 L412.4,516.9 L419.5,507.7 L426.6,500.0 L433.7,493.9 L440.8,489.1 L447.9,485.3 L455.0,482.5 L462.0,480.3 L469.1,478.7 L476.2,477.5 L483.3,476.6 L490.4,475.9 L497.5,475.5 L504.6,475.1 L511.7,474.8 L518.8,474.6 L525.9,474.5 L532.9,474.4 L540.0,474.3 L547.1,474.3 L554.2,474.2 L561.3,474.2 L561.3,479.4 L554.2,479.4 L547.1,479.5 L540.0,479.5 L532.9,479.6 L525.9,479.7 L518.8,479.9 L511.7,480.0 L504.6,480.3 L497.5,480.7 L490.4,481.2 L483.3,481.8 L476.2,482.7 L469.1,483.9 L462.0,485.6 L455.0,487.8 L447.9,490.7 L440.8,494.5 L433.7,499.4 L426.6,505.6 L419.5,513.3 L412.4,522.7 L405.3,533.6 L398.2,545.8 L391.1,558.9 L384.1,572.3 L377.0,585.4 L369.9,597.5 L362.8,608.4 L355.7,617.6 L348.6,625.3 L341.5,631.5 L334.4,636.3 L327.3,640.1 L320.3,643.0 L313.2,645.1 L306.1,646.7 L299.0,647.9 L291.9,648.8 L284.8,649.5 L277.7,650.0 L270.6,650.3 L263.5,650.6 L256.4,650.8 L249.4,650.9 L242.3,651.0 L235.2,651.1 L228.1,651.2 L221.0,651.2Z" fill="#f7b7d0" />
<path d="M221.0,469.3 L228.1,469.3 L235.2,469.3 L242.3,469.3 L249.4,469.3 L256.4,469.3 L263.5,469.3 L270.6,469.3 L277.7,469.3 L284.8,469.3 L291.9,469.3 L299.0,469.3 L306.1,469.2 L313.2,469.2 L320.3,469.2 L327.3,469.2 L334.4,469.1 L341.5,469.1 L348.6,469.0 L355.7,468.9 L362.8,468.8 L369.9,468.7 L377.0,468.5 L384.1,468.4 L391.1,468.2 L398.2,468.1 L405.3,468.0 L412.4,467.8 L419.5,467.7 L426.6,467.6 L433.7,467.5 L440.8,467.4 L447.9,467.4 L455.0,467.3 L462.0,467.3 L469.1,467.3 L476.2,467.3 L483.3,467.2 L490.4,467.2 L497.5,467.2 L504.6,467.2 L511.7,467.2 L518.8,467.2 L525.9,467.2 L532.9,467.2 L540.0,467.2 L547.1,467.2 L554.2,467.2 L561.3,467.2 L561.3,469.6 L554.2,469.6 L547.1,469.6 L540.0,469.6 L532.9,469.6 L525.9,469.6 L518.8,469.6 L511.7,469.6 L504.6,469.6 L497.5,469.6 L490.4,469.6 L483.3,469.6 L476.2,469.6 L469.1,469.7 L462.0,469.7 L455.0,469.7 L447.9,469.7 L440.8,469.8 L433.7,469.9 L426.6,469.9 L419.5,470.0 L412.4,470.1 L405.3,470.2 L398.2,470.3 L391.1,470.5 L384.1,470.6 L377.0,470.7 L369.9,470.8 L362.8,470.9 L355.7,471.0 L348.6,471.0 L341.5,471.1 L334.4,471.2 L327.3,471.2 L320.3,471.2 L313.2,471.2 L306.1,471.3 L299.0,471.3 L291.9,471.3 L284.8,471.3 L277.7,471.3 L270.6,471.3 L263.5,471.3 L256.4,471.3 L249.4,471.3 L242.3,471.3 L235.2,471.3 L228.1,471.3 L221.0,471.3Z" fill="#2da06e" />
<path d="M661.0,513.0 L668.1,513.0 L675.1,513.0 L682.2,513.0 L689.3,513.0 L696.3,513.0 L703.4,512.9 L710.5,512.9 L717.5,512.9 L724.6,512.9 L731.7,512.8 L738.8,512.8 L745.8,512.7 L752.9,512.6 L760.0,512.5 L767.0,512.4 L774.1,512.2 L781.2,512.0 L788.2,511.7 L795.3,511.3 L802.4,510.9 L809.4,510.4 L816.5,509.8 L823.6,509.2 L830.6,508.6 L837.7,507.9 L844.8,507.3 L851.9,506.8 L858.9,506.3 L866.0,505.8 L873.1,505.5 L880.1,505.2 L887.2,504.9 L894.3,504.8 L901.3,504.6 L908.4,504.5 L915.5,504.4 L922.5,504.4 L929.6,504.3 L936.7,504.3 L943.8,504.2 L950.8,504.2 L957.9,504.2 L965.0,504.2 L972.0,504.2 L979.1,504.2 L986.2,504.2 L993.2,504.2 L1000.3,504.2" fill="none" stroke="#cfc7b0" stroke-width="1.2" stroke-opacity="0.85"/>
<path d="M661.0,517.2 L668.1,517.2 L675.1,517.2 L682.2,517.2 L689.3,517.2 L696.3,517.2 L703.4,517.1 L710.5,517.1 L717.5,517.1 L724.6,517.0 L731.7,516.9 L738.8,516.8 L745.8,516.7 L752.9,516.6 L760.0,516.4 L767.0,516.1 L774.1,515.7 L781.2,515.3 L788.2,514.7 L795.3,514.0 L802.4,513.2 L809.4,512.3 L816.5,511.2 L823.6,510.0 L830.6,508.8 L837.7,507.6 L844.8,506.4 L851.9,505.3 L858.9,504.3 L866.0,503.5 L873.1,502.8 L880.1,502.3 L887.2,501.8 L894.3,501.5 L901.3,501.2 L908.4,501.0 L915.5,500.8 L922.5,500.7 L929.6,500.6 L936.7,500.6 L943.8,500.5 L950.8,500.5 L957.9,500.4 L965.0,500.4 L972.0,500.4 L979.1,500.4 L986.2,500.4 L993.2,500.4 L1000.3,500.4" fill="none" stroke="#cfc7b0" stroke-width="1.1" stroke-opacity="0.85"/>
<path d="M661.0,504.7 L668.1,504.8 L675.1,504.8 L682.2,504.8 L689.3,504.9 L696.3,505.0 L703.4,505.1 L710.5,505.3 L717.5,505.5 L724.6,505.7 L731.7,506.1 L738.8,506.6 L745.8,507.2 L752.9,508.1 L760.0,509.2 L767.0,510.6 L774.1,512.4 L781.2,514.7 L788.2,517.7 L795.3,521.2 L802.4,525.5 L809.4,530.5 L816.5,536.1 L823.6,542.2 L830.6,548.6 L837.7,554.9 L844.8,561.0 L851.9,566.7 L858.9,571.6 L866.0,575.9 L873.1,579.5 L880.1,582.4 L887.2,584.7 L894.3,586.6 L901.3,588.0 L908.4,589.1 L915.5,589.9 L922.5,590.6 L929.6,591.1 L936.7,591.4 L943.8,591.7 L950.8,591.9 L957.9,592.1 L965.0,592.2 L972.0,592.3 L979.1,592.3 L986.2,592.4 L993.2,592.4 L1000.3,592.4" fill="none" stroke="#cfc7b0" stroke-width="1.0" stroke-opacity="0.85"/>
<path d="M661.0,504.9 L668.1,504.9 L675.1,504.9 L682.2,505.0 L689.3,505.0 L696.3,505.1 L703.4,505.3 L710.5,505.4 L717.5,505.6 L724.6,505.9 L731.7,506.3 L738.8,506.8 L745.8,507.4 L752.9,508.3 L760.0,509.4 L767.0,510.9 L774.1,512.8 L781.2,515.2 L788.2,518.2 L795.3,521.9 L802.4,526.3 L809.4,531.5 L816.5,537.3 L823.6,543.6 L830.6,550.2 L837.7,556.8 L844.8,563.1 L851.9,568.9 L858.9,574.0 L866.0,578.4 L873.1,582.1 L880.1,585.1 L887.2,587.5 L894.3,589.4 L901.3,590.9 L908.4,592.0 L915.5,592.9 L922.5,593.6 L929.6,594.1 L936.7,594.4 L943.8,594.7 L950.8,594.9 L957.9,595.1 L965.0,595.2 L972.0,595.3 L979.1,595.4 L986.2,595.4 L993.2,595.5 L1000.3,595.5" fill="none" stroke="#cfc7b0" stroke-width="1.4" stroke-opacity="0.85"/>
<path d="M661.0,506.4 L668.1,506.5 L675.1,506.5 L682.2,506.6 L689.3,506.7 L696.3,506.8 L703.4,507.0 L710.5,507.2 L717.5,507.5 L724.6,507.8 L731.7,508.4 L738.8,509.0 L745.8,509.9 L752.9,511.1 L760.0,512.6 L767.0,514.6 L774.1,517.2 L781.2,520.5 L788.2,524.5 L795.3,529.5 L802.4,535.5 L809.4,542.5 L816.5,550.4 L823.6,558.9 L830.6,567.8 L837.7,576.7 L844.8,585.3 L851.9,593.1 L858.9,600.1 L866.0,606.1 L873.1,611.1 L880.1,615.2 L887.2,618.5 L894.3,621.0 L901.3,623.0 L908.4,624.6 L915.5,625.7 L922.5,626.6 L929.6,627.3 L936.7,627.8 L943.8,628.2 L950.8,628.5 L957.9,628.7 L965.0,628.9 L972.0,629.0 L979.1,629.1 L986.2,629.1 L993.2,629.2 L1000.3,629.2" fill="none" stroke="#cfc7b0" stroke-width="1.1" stroke-opacity="0.85"/>
<path d="M661.0,507.1 L668.1,507.2 L675.1,507.2 L682.2,507.3 L689.3,507.5 L696.3,507.6 L703.4,507.8 L710.5,508.1 L717.5,508.5 L724.6,509.1 L731.7,509.8 L738.8,510.7 L745.8,511.9 L752.9,513.6 L760.0,515.7 L767.0,518.4 L774.1,522.0 L781.2,526.5 L788.2,532.1 L795.3,539.1 L802.4,547.3 L809.4,557.0 L816.5,567.9 L823.6,579.7 L830.6,592.0 L837.7,604.3 L844.8,616.1 L851.9,627.0 L858.9,636.7 L866.0,644.9 L873.1,651.9 L880.1,657.5 L887.2,662.0 L894.3,665.6 L901.3,668.3 L908.4,670.4 L915.5,672.1 L922.5,673.3 L929.6,674.2 L936.7,674.9 L943.8,675.5 L950.8,675.9 L957.9,676.2 L965.0,676.4 L972.0,676.6 L979.1,676.7 L986.2,676.8 L993.2,676.8 L1000.3,676.9" fill="none" stroke="#cfc7b0" stroke-width="1.4" stroke-opacity="0.85"/>
<path d="M661.0,510.3 L668.1,510.4 L675.1,510.5 L682.2,510.6 L689.3,510.8 L696.3,511.0 L703.4,511.3 L710.5,511.7 L717.5,512.2 L724.6,512.9 L731.7,513.9 L738.8,515.1 L745.8,516.8 L752.9,519.0 L760.0,521.8 L767.0,525.5 L774.1,530.3 L781.2,536.3 L788.2,543.9 L795.3,553.2 L802.4,564.3 L809.4,577.3 L816.5,591.9 L823.6,607.8 L830.6,624.3 L837.7,640.8 L844.8,656.7 L851.9,671.3 L858.9,684.3 L866.0,695.4 L873.1,704.7 L880.1,712.2 L887.2,718.3 L894.3,723.1 L901.3,726.8 L908.4,729.6 L915.5,731.8 L922.5,733.4 L929.6,734.7 L936.7,735.6 L943.8,736.4 L950.8,736.9 L957.9,737.3 L965.0,737.6 L972.0,737.8 L979.1,738.0 L986.2,738.1 L993.2,738.2 L1000.3,738.3" fill="none" stroke="#cfc7b0" stroke-width="1.2" stroke-opacity="0.85"/>
<path d="M661.0,509.9 L668.1,510.0 L675.1,510.1 L682.2,510.3 L689.3,510.6 L696.3,510.9 L703.4,511.4 L710.5,512.0 L717.5,512.8 L724.6,513.9 L731.7,515.3 L738.8,517.2 L745.8,519.7 L752.9,523.1 L760.0,527.4 L767.0,533.0 L774.1,540.3 L781.2,549.5 L788.2,561.0 L795.3,575.2 L802.4,592.1 L809.4,611.9 L816.5,634.1 L823.6,658.2 L830.6,683.4 L837.7,708.6 L844.8,732.7 L851.9,755.0 L858.9,774.7 L866.0,791.7 L873.1,805.8 L880.1,817.3 L887.2,826.5 L894.3,833.8 L901.3,839.4 L908.4,843.8 L915.5,847.1 L922.5,849.6 L929.6,851.5 L936.7,853.0 L943.8,854.0 L950.8,854.9 L957.9,855.5 L965.0,855.9 L972.0,856.3 L979.1,856.5 L986.2,856.7 L993.2,856.9 L1000.3,857.0" fill="none" stroke="#cfc7b0" stroke-width="1.1" stroke-opacity="0.85"/>
<path d="M661.0,520.8 L668.1,520.8 L675.1,520.8 L682.2,520.8 L689.3,520.8 L696.3,520.8 L703.4,520.7 L710.5,520.7 L717.5,520.6 L724.6,520.6 L731.7,520.4 L738.8,520.3 L745.8,520.1 L752.9,519.9 L760.0,519.6 L767.0,519.2 L774.1,518.7 L781.2,518.0 L788.2,517.2 L795.3,516.2 L802.4,515.0 L809.4,513.5 L816.5,512.0 L823.6,510.2 L830.6,508.4 L837.7,506.6 L844.8,504.9 L851.9,503.3 L858.9,501.9 L866.0,500.7 L873.1,499.7 L880.1,498.8 L887.2,498.2 L894.3,497.7 L901.3,497.3 L908.4,497.0 L915.5,496.7 L922.5,496.5 L929.6,496.4 L936.7,496.3 L943.8,496.2 L950.8,496.2 L957.9,496.1 L965.0,496.1 L972.0,496.1 L979.1,496.0 L986.2,496.0 L993.2,496.0 L1000.3,496.0" fill="none" stroke="#cfc7b0" stroke-width="1.4" stroke-opacity="0.85"/>
<path d="M661.0,516.8 L668.1,516.8 L675.1,516.7 L682.2,516.7 L689.3,516.7 L696.3,516.7 L703.4,516.7 L710.5,516.6 L717.5,516.6 L724.6,516.5 L731.7,516.4 L738.8,516.3 L745.8,516.2 L752.9,516.0 L760.0,515.7 L767.0,515.4 L774.1,514.9 L781.2,514.4 L788.2,513.7 L795.3,512.9 L802.4,511.8 L809.4,510.7 L816.5,509.3 L823.6,507.9 L830.6,506.4 L837.7,504.9 L844.8,503.4 L851.9,502.1 L858.9,500.9 L866.0,499.9 L873.1,499.0 L880.1,498.4 L887.2,497.8 L894.3,497.4 L901.3,497.0 L908.4,496.8 L915.5,496.6 L922.5,496.4 L929.6,496.3 L936.7,496.2 L943.8,496.2 L950.8,496.1 L957.9,496.1 L965.0,496.0 L972.0,496.0 L979.1,496.0 L986.2,496.0 L993.2,496.0 L1000.3,496.0" fill="none" stroke="#cfc7b0" stroke-width="1.3" stroke-opacity="0.85"/>
<path d="M661.0,554.6 L668.1,554.6 L675.1,554.6 L682.2,554.6 L689.3,554.6 L696.3,554.6 L703.4,554.6 L710.5,554.6 L717.5,554.7 L724.6,554.7 L731.7,554.7 L738.8,554.8 L745.8,554.9 L752.9,555.0 L760.0,555.1 L767.0,555.3 L774.1,555.5 L781.2,555.8 L788.2,556.2 L795.3,556.6 L802.4,557.1 L809.4,557.7 L816.5,558.4 L823.6,559.1 L830.6,559.9 L837.7,560.7 L844.8,561.4 L851.9,562.1 L858.9,562.7 L866.0,563.2 L873.1,563.7 L880.1,564.0 L887.2,564.3 L894.3,564.5 L901.3,564.7 L908.4,564.9 L915.5,565.0 L922.5,565.0 L929.6,565.1 L936.7,565.1 L943.8,565.2 L950.8,565.2 L957.9,565.2 L965.0,565.2 L972.0,565.2 L979.1,565.2 L986.2,565.2 L993.2,565.3 L1000.3,565.3" fill="none" stroke="#cfc7b0" stroke-width="1.1" stroke-opacity="0.85"/>
<path d="M661.0,552.0 L668.1,552.0 L675.1,552.0 L682.2,552.0 L689.3,552.0 L696.3,552.0 L703.4,552.1 L710.5,552.1 L717.5,552.1 L724.6,552.2 L731.7,552.2 L738.8,552.3 L745.8,552.5 L752.9,552.6 L760.0,552.8 L767.0,553.1 L774.1,553.4 L781.2,553.9 L788.2,554.4 L795.3,555.1 L802.4,555.9 L809.4,556.8 L816.5,557.9 L823.6,559.0 L830.6,560.2 L837.7,561.4 L844.8,562.5 L851.9,563.6 L858.9,564.5 L866.0,565.3 L873.1,566.0 L880.1,566.5 L887.2,567.0 L894.3,567.3 L901.3,567.6 L908.4,567.8 L915.5,567.9 L922.5,568.1 L929.6,568.2 L936.7,568.2 L943.8,568.3 L950.8,568.3 L957.9,568.3 L965.0,568.4 L972.0,568.4 L979.1,568.4 L986.2,568.4 L993.2,568.4 L1000.3,568.4" fill="none" stroke="#cfc7b0" stroke-width="0.9" stroke-opacity="0.85"/>
<path d="M661.0,547.0 L668.1,547.0 L675.1,547.0 L682.2,547.1 L689.3,547.1 L696.3,547.2 L703.4,547.4 L710.5,547.5 L717.5,547.7 L724.6,548.0 L731.7,548.4 L738.8,548.9 L745.8,549.5 L752.9,550.4 L760.0,551.5 L767.0,552.9 L774.1,554.8 L781.2,557.1 L788.2,560.1 L795.3,563.7 L802.4,568.1 L809.4,573.1 L816.5,578.8 L823.6,585.0 L830.6,591.5 L837.7,597.9 L844.8,604.1 L851.9,609.8 L858.9,614.9 L866.0,619.2 L873.1,622.9 L880.1,625.8 L887.2,628.2 L894.3,630.1 L901.3,631.5 L908.4,632.6 L915.5,633.5 L922.5,634.1 L929.6,634.6 L936.7,635.0 L943.8,635.2 L950.8,635.5 L957.9,635.6 L965.0,635.7 L972.0,635.8 L979.1,635.9 L986.2,635.9 L993.2,636.0 L1000.3,636.0" fill="none" stroke="#cfc7b0" stroke-width="1.3" stroke-opacity="0.85"/>
<path d="M661.0,546.0 L668.1,546.1 L675.1,546.1 L682.2,546.1 L689.3,546.2 L696.3,546.3 L703.4,546.4 L710.5,546.5 L717.5,546.7 L724.6,547.0 L731.7,547.3 L738.8,547.8 L745.8,548.4 L752.9,549.1 L760.0,550.1 L767.0,551.5 L774.1,553.2 L781.2,555.3 L788.2,558.0 L795.3,561.4 L802.4,565.3 L809.4,570.0 L816.5,575.2 L823.6,580.9 L830.6,586.8 L837.7,592.7 L844.8,598.3 L851.9,603.6 L858.9,608.2 L866.0,612.2 L873.1,615.5 L880.1,618.2 L887.2,620.4 L894.3,622.1 L901.3,623.4 L908.4,624.4 L915.5,625.2 L922.5,625.8 L929.6,626.2 L936.7,626.6 L943.8,626.8 L950.8,627.0 L957.9,627.1 L965.0,627.2 L972.0,627.3 L979.1,627.4 L986.2,627.4 L993.2,627.5 L1000.3,627.5" fill="none" stroke="#cfc7b0" stroke-width="1.4" stroke-opacity="0.85"/>
<path d="M661.0,543.3 L668.1,543.4 L675.1,543.4 L682.2,543.5 L689.3,543.6 L696.3,543.7 L703.4,543.9 L710.5,544.1 L717.5,544.4 L724.6,544.8 L731.7,545.3 L738.8,546.0 L745.8,547.0 L752.9,548.2 L760.0,549.8 L767.0,551.9 L774.1,554.5 L781.2,557.9 L788.2,562.2 L795.3,567.4 L802.4,573.6 L809.4,580.9 L816.5,589.1 L823.6,598.0 L830.6,607.3 L837.7,616.6 L844.8,625.5 L851.9,633.7 L858.9,640.9 L866.0,647.2 L873.1,652.4 L880.1,656.6 L887.2,660.0 L894.3,662.7 L901.3,664.8 L908.4,666.4 L915.5,667.6 L922.5,668.5 L929.6,669.2 L936.7,669.8 L943.8,670.2 L950.8,670.5 L957.9,670.7 L965.0,670.9 L972.0,671.0 L979.1,671.1 L986.2,671.1 L993.2,671.2 L1000.3,671.2" fill="none" stroke="#cfc7b0" stroke-width="1.1" stroke-opacity="0.85"/>
<path d="M661.0,530.0 L668.1,530.0 L675.1,530.1 L682.2,530.2 L689.3,530.4 L696.3,530.6 L703.4,530.8 L710.5,531.2 L717.5,531.6 L724.6,532.3 L731.7,533.1 L738.8,534.2 L745.8,535.7 L752.9,537.6 L760.0,540.1 L767.0,543.4 L774.1,547.5 L781.2,552.9 L788.2,559.5 L795.3,567.7 L802.4,577.5 L809.4,588.9 L816.5,601.8 L823.6,615.7 L830.6,630.3 L837.7,644.9 L844.8,658.8 L851.9,671.7 L858.9,683.1 L866.0,692.9 L873.1,701.1 L880.1,707.7 L887.2,713.0 L894.3,717.2 L901.3,720.5 L908.4,723.0 L915.5,724.9 L922.5,726.4 L929.6,727.5 L936.7,728.3 L943.8,728.9 L950.8,729.4 L957.9,729.8 L965.0,730.0 L972.0,730.2 L979.1,730.4 L986.2,730.5 L993.2,730.6 L1000.3,730.6" fill="none" stroke="#cfc7b0" stroke-width="1.3" stroke-opacity="0.85"/>
<path d="M661.0,529.1 L668.1,529.2 L675.1,529.3 L682.2,529.5 L689.3,529.7 L696.3,530.0 L703.4,530.4 L710.5,530.9 L717.5,531.6 L724.6,532.5 L731.7,533.7 L738.8,535.4 L745.8,537.5 L752.9,540.3 L760.0,544.0 L767.0,548.8 L774.1,555.0 L781.2,562.8 L788.2,572.6 L795.3,584.7 L802.4,599.1 L809.4,615.9 L816.5,634.8 L823.6,655.3 L830.6,676.7 L837.7,698.2 L844.8,718.7 L851.9,737.6 L858.9,754.4 L866.0,768.8 L873.1,780.8 L880.1,790.7 L887.2,798.5 L894.3,804.7 L901.3,809.5 L908.4,813.1 L915.5,816.0 L922.5,818.1 L929.6,819.7 L936.7,821.0 L943.8,821.9 L950.8,822.6 L957.9,823.1 L965.0,823.5 L972.0,823.8 L979.1,824.0 L986.2,824.2 L993.2,824.3 L1000.3,824.4" fill="none" stroke="#cfc7b0" stroke-width="1.1" stroke-opacity="0.85"/>
<path d="M661.0,582.3 L668.1,582.2 L675.1,582.2 L682.2,582.1 L689.3,582.1 L696.3,582.0 L703.4,581.8 L710.5,581.7 L717.5,581.4 L724.6,581.1 L731.7,580.7 L738.8,580.2 L745.8,579.5 L752.9,578.6 L760.0,577.4 L767.0,575.8 L774.1,573.8 L781.2,571.2 L788.2,568.0 L795.3,564.1 L802.4,559.4 L809.4,553.9 L816.5,547.7 L823.6,541.0 L830.6,533.9 L837.7,526.9 L844.8,520.2 L851.9,514.0 L858.9,508.5 L866.0,503.8 L873.1,499.9 L880.1,496.7 L887.2,494.1 L894.3,492.1 L901.3,490.5 L908.4,489.3 L915.5,488.4 L922.5,487.7 L929.6,487.2 L936.7,486.7 L943.8,486.4 L950.8,486.2 L957.9,486.1 L965.0,485.9 L972.0,485.8 L979.1,485.8 L986.2,485.7 L993.2,485.7 L1000.3,485.6" fill="none" stroke="#cfc7b0" stroke-width="1.2" stroke-opacity="0.85"/>
<path d="M661.0,574.1 L668.1,574.1 L675.1,574.1 L682.2,574.0 L689.3,574.0 L696.3,573.9 L703.4,573.8 L710.5,573.6 L717.5,573.4 L724.6,573.2 L731.7,572.9 L738.8,572.4 L745.8,571.8 L752.9,571.0 L760.0,570.0 L767.0,568.7 L774.1,567.0 L781.2,564.8 L788.2,562.1 L795.3,558.8 L802.4,554.9 L809.4,550.2 L816.5,545.0 L823.6,539.4 L830.6,533.5 L837.7,527.6 L844.8,521.9 L851.9,516.7 L858.9,512.1 L866.0,508.1 L873.1,504.8 L880.1,502.1 L887.2,500.0 L894.3,498.3 L901.3,497.0 L908.4,495.9 L915.5,495.2 L922.5,494.6 L929.6,494.1 L936.7,493.8 L943.8,493.5 L950.8,493.3 L957.9,493.2 L965.0,493.1 L972.0,493.0 L979.1,492.9 L986.2,492.9 L993.2,492.9 L1000.3,492.8" fill="none" stroke="#cfc7b0" stroke-width="1.2" stroke-opacity="0.85"/>
<path d="M661.0,553.1 L668.1,553.1 L675.1,553.1 L682.2,553.1 L689.3,553.0 L696.3,553.0 L703.4,553.0 L710.5,552.9 L717.5,552.8 L724.6,552.8 L731.7,552.6 L738.8,552.5 L745.8,552.3 L752.9,552.0 L760.0,551.6 L767.0,551.1 L774.1,550.5 L781.2,549.7 L788.2,548.7 L795.3,547.5 L802.4,546.1 L809.4,544.4 L816.5,542.5 L823.6,540.4 L830.6,538.3 L837.7,536.2 L844.8,534.1 L851.9,532.2 L858.9,530.5 L866.0,529.1 L873.1,527.9 L880.1,526.9 L887.2,526.1 L894.3,525.5 L901.3,525.0 L908.4,524.6 L915.5,524.4 L922.5,524.1 L929.6,524.0 L936.7,523.9 L943.8,523.8 L950.8,523.7 L957.9,523.6 L965.0,523.6 L972.0,523.6 L979.1,523.5 L986.2,523.5 L993.2,523.5 L1000.3,523.5" fill="none" stroke="#cfc7b0" stroke-width="1.2" stroke-opacity="0.85"/>
<path d="M661.0,555.5 L668.1,555.4 L675.1,555.4 L682.2,555.4 L689.3,555.4 L696.3,555.4 L703.4,555.3 L710.5,555.2 L717.5,555.2 L724.6,555.1 L731.7,554.9 L738.8,554.7 L745.8,554.5 L752.9,554.1 L760.0,553.7 L767.0,553.1 L774.1,552.4 L781.2,551.5 L788.2,550.3 L795.3,548.9 L802.4,547.2 L809.4,545.2 L816.5,543.0 L823.6,540.6 L830.6,538.0 L837.7,535.5 L844.8,533.1 L851.9,530.9 L858.9,528.9 L866.0,527.2 L873.1,525.7 L880.1,524.6 L887.2,523.7 L894.3,522.9 L901.3,522.4 L908.4,521.9 L915.5,521.6 L922.5,521.4 L929.6,521.2 L936.7,521.0 L943.8,520.9 L950.8,520.8 L957.9,520.8 L965.0,520.7 L972.0,520.7 L979.1,520.7 L986.2,520.6 L993.2,520.6 L1000.3,520.6" fill="none" stroke="#cfc7b0" stroke-width="1.1" stroke-opacity="0.85"/>
<path d="M661.0,586.6 L668.1,586.6 L675.1,586.6 L682.2,586.6 L689.3,586.6 L696.3,586.7 L703.4,586.7 L710.5,586.7 L717.5,586.8 L724.6,586.9 L731.7,587.0 L738.8,587.1 L745.8,587.2 L752.9,587.5 L760.0,587.7 L767.0,588.1 L774.1,588.6 L781.2,589.2 L788.2,590.0 L795.3,590.9 L802.4,592.0 L809.4,593.3 L816.5,594.8 L823.6,596.3 L830.6,598.0 L837.7,599.6 L844.8,601.2 L851.9,602.7 L858.9,604.0 L866.0,605.1 L873.1,606.0 L880.1,606.8 L887.2,607.4 L894.3,607.9 L901.3,608.2 L908.4,608.5 L915.5,608.7 L922.5,608.9 L929.6,609.0 L936.7,609.1 L943.8,609.2 L950.8,609.2 L957.9,609.3 L965.0,609.3 L972.0,609.3 L979.1,609.3 L986.2,609.4 L993.2,609.4 L1000.3,609.4" fill="none" stroke="#cfc7b0" stroke-width="1.3" stroke-opacity="0.85"/>
<path d="M661.0,586.5 L668.1,586.5 L675.1,586.5 L682.2,586.6 L689.3,586.6 L696.3,586.6 L703.4,586.6 L710.5,586.7 L717.5,586.7 L724.6,586.8 L731.7,586.8 L738.8,587.0 L745.8,587.1 L752.9,587.3 L760.0,587.5 L767.0,587.9 L774.1,588.3 L781.2,588.8 L788.2,589.5 L795.3,590.3 L802.4,591.3 L809.4,592.4 L816.5,593.7 L823.6,595.1 L830.6,596.5 L837.7,598.0 L844.8,599.4 L851.9,600.7 L858.9,601.8 L866.0,602.8 L873.1,603.6 L880.1,604.3 L887.2,604.8 L894.3,605.2 L901.3,605.5 L908.4,605.8 L915.5,606.0 L922.5,606.1 L929.6,606.2 L936.7,606.3 L943.8,606.4 L950.8,606.4 L957.9,606.5 L965.0,606.5 L972.0,606.5 L979.1,606.5 L986.2,606.5 L993.2,606.6 L1000.3,606.6" fill="none" stroke="#cfc7b0" stroke-width="1.3" stroke-opacity="0.85"/>
<path d="M661.0,573.5 L668.1,573.5 L675.1,573.5 L682.2,573.6 L689.3,573.7 L696.3,573.8 L703.4,573.9 L710.5,574.1 L717.5,574.3 L724.6,574.6 L731.7,575.1 L738.8,575.6 L745.8,576.4 L752.9,577.4 L760.0,578.7 L767.0,580.3 L774.1,582.5 L781.2,585.2 L788.2,588.7 L795.3,592.9 L802.4,597.9 L809.4,603.8 L816.5,610.4 L823.6,617.5 L830.6,625.0 L837.7,632.5 L844.8,639.7 L851.9,646.3 L858.9,652.2 L866.0,657.2 L873.1,661.4 L880.1,664.8 L887.2,667.6 L894.3,669.7 L901.3,671.4 L908.4,672.7 L915.5,673.7 L922.5,674.4 L929.6,675.0 L936.7,675.4 L943.8,675.7 L950.8,676.0 L957.9,676.1 L965.0,676.3 L972.0,676.4 L979.1,676.5 L986.2,676.5 L993.2,676.6 L1000.3,676.6" fill="none" stroke="#cfc7b0" stroke-width="1.3" stroke-opacity="0.85"/>
<path d="M661.0,573.4 L668.1,573.5 L675.1,573.5 L682.2,573.6 L689.3,573.7 L696.3,573.8 L703.4,574.0 L710.5,574.2 L717.5,574.5 L724.6,574.9 L731.7,575.4 L738.8,576.1 L745.8,577.0 L752.9,578.2 L760.0,579.7 L767.0,581.7 L774.1,584.3 L781.2,587.6 L788.2,591.8 L795.3,596.9 L802.4,602.9 L809.4,610.0 L816.5,618.0 L823.6,626.7 L830.6,635.7 L837.7,644.7 L844.8,653.4 L851.9,661.4 L858.9,668.4 L866.0,674.5 L873.1,679.6 L880.1,683.7 L887.2,687.0 L894.3,689.6 L901.3,691.7 L908.4,693.2 L915.5,694.4 L922.5,695.3 L929.6,696.0 L936.7,696.5 L943.8,696.9 L950.8,697.2 L957.9,697.4 L965.0,697.6 L972.0,697.7 L979.1,697.8 L986.2,697.9 L993.2,697.9 L1000.3,697.9" fill="none" stroke="#cfc7b0" stroke-width="1.1" stroke-opacity="0.85"/>
<path d="M661.0,573.6 L668.1,573.6 L675.1,573.7 L682.2,573.8 L689.3,573.9 L696.3,574.0 L703.4,574.2 L710.5,574.5 L717.5,574.9 L724.6,575.4 L731.7,576.0 L738.8,576.9 L745.8,578.0 L752.9,579.5 L760.0,581.5 L767.0,584.1 L774.1,587.4 L781.2,591.5 L788.2,596.8 L795.3,603.2 L802.4,610.9 L809.4,619.8 L816.5,629.9 L823.6,640.9 L830.6,652.3 L837.7,663.7 L844.8,674.7 L851.9,684.8 L858.9,693.7 L866.0,701.4 L873.1,707.8 L880.1,713.0 L887.2,717.2 L894.3,720.5 L901.3,723.1 L908.4,725.0 L915.5,726.5 L922.5,727.7 L929.6,728.6 L936.7,729.2 L943.8,729.7 L950.8,730.1 L957.9,730.3 L965.0,730.6 L972.0,730.7 L979.1,730.8 L986.2,730.9 L993.2,731.0 L1000.3,731.0" fill="none" stroke="#cfc7b0" stroke-width="1.1" stroke-opacity="0.85"/>
<path d="M661.0,578.8 L668.1,578.9 L675.1,579.0 L682.2,579.2 L689.3,579.3 L696.3,579.6 L703.4,579.9 L710.5,580.4 L717.5,581.0 L724.6,581.8 L731.7,582.8 L738.8,584.2 L745.8,586.1 L752.9,588.5 L760.0,591.7 L767.0,595.9 L774.1,601.2 L781.2,607.9 L788.2,616.4 L795.3,626.8 L802.4,639.3 L809.4,653.8 L816.5,670.1 L823.6,687.8 L830.6,706.3 L837.7,724.8 L844.8,742.6 L851.9,758.9 L858.9,773.4 L866.0,785.8 L873.1,796.2 L880.1,804.7 L887.2,811.5 L894.3,816.8 L901.3,820.9 L908.4,824.1 L915.5,826.6 L922.5,828.4 L929.6,829.8 L936.7,830.9 L943.8,831.7 L950.8,832.3 L957.9,832.7 L965.0,833.1 L972.0,833.3 L979.1,833.5 L986.2,833.6 L993.2,833.7 L1000.3,833.8" fill="none" stroke="#cfc7b0" stroke-width="1.3" stroke-opacity="0.85"/>
<path d="M661.0,628.9 L668.1,628.9 L675.1,628.8 L682.2,628.7 L689.3,628.6 L696.3,628.5 L703.4,628.3 L710.5,628.1 L717.5,627.8 L724.6,627.3 L731.7,626.8 L738.8,626.0 L745.8,625.0 L752.9,623.7 L760.0,622.0 L767.0,619.8 L774.1,617.0 L781.2,613.4 L788.2,608.9 L795.3,603.3 L802.4,596.7 L809.4,589.0 L816.5,580.2 L823.6,570.8 L830.6,560.9 L837.7,551.1 L844.8,541.6 L851.9,532.9 L858.9,525.2 L866.0,518.5 L873.1,513.0 L880.1,508.5 L887.2,504.9 L894.3,502.0 L901.3,499.8 L908.4,498.1 L915.5,496.8 L922.5,495.8 L929.6,495.1 L936.7,494.5 L943.8,494.1 L950.8,493.8 L957.9,493.5 L965.0,493.4 L972.0,493.2 L979.1,493.1 L986.2,493.1 L993.2,493.0 L1000.3,493.0" fill="none" stroke="#cfc7b0" stroke-width="1.2" stroke-opacity="0.85"/>
<path d="M661.0,622.7 L668.1,622.7 L675.1,622.6 L682.2,622.5 L689.3,622.5 L696.3,622.4 L703.4,622.2 L710.5,622.0 L717.5,621.8 L724.6,621.4 L731.7,621.0 L738.8,620.4 L745.8,619.6 L752.9,618.5 L760.0,617.1 L767.0,615.4 L774.1,613.1 L781.2,610.2 L788.2,606.5 L795.3,602.1 L802.4,596.7 L809.4,590.5 L816.5,583.4 L823.6,575.8 L830.6,567.9 L837.7,559.9 L844.8,552.3 L851.9,545.2 L858.9,539.0 L866.0,533.7 L873.1,529.2 L880.1,525.5 L887.2,522.6 L894.3,520.3 L901.3,518.6 L908.4,517.2 L915.5,516.1 L922.5,515.3 L929.6,514.7 L936.7,514.3 L943.8,513.9 L950.8,513.7 L957.9,513.5 L965.0,513.4 L972.0,513.2 L979.1,513.2 L986.2,513.1 L993.2,513.1 L1000.3,513.0" fill="none" stroke="#cfc7b0" stroke-width="1.3" stroke-opacity="0.85"/>
<path d="M661.0,626.1 L668.1,626.0 L675.1,626.0 L682.2,625.9 L689.3,625.8 L696.3,625.7 L703.4,625.6 L710.5,625.4 L717.5,625.1 L724.6,624.8 L731.7,624.3 L738.8,623.7 L745.8,622.8 L752.9,621.7 L760.0,620.3 L767.0,618.5 L774.1,616.1 L781.2,613.1 L788.2,609.3 L795.3,604.7 L802.4,599.1 L809.4,592.6 L816.5,585.4 L823.6,577.4 L830.6,569.2 L837.7,560.9 L844.8,553.0 L851.9,545.7 L858.9,539.3 L866.0,533.7 L873.1,529.1 L880.1,525.3 L887.2,522.3 L894.3,519.9 L901.3,518.1 L908.4,516.6 L915.5,515.6 L922.5,514.7 L929.6,514.1 L936.7,513.6 L943.8,513.3 L950.8,513.0 L957.9,512.8 L965.0,512.7 L972.0,512.6 L979.1,512.5 L986.2,512.4 L993.2,512.4 L1000.3,512.3" fill="none" stroke="#cfc7b0" stroke-width="1.3" stroke-opacity="0.85"/>
<path d="M661.0,593.0 L668.1,593.0 L675.1,593.0 L682.2,593.0 L689.3,593.1 L696.3,593.1 L703.4,593.1 L710.5,593.1 L717.5,593.1 L724.6,593.2 L731.7,593.2 L738.8,593.3 L745.8,593.4 L752.9,593.5 L760.0,593.6 L767.0,593.8 L774.1,594.1 L781.2,594.4 L788.2,594.7 L795.3,595.2 L802.4,595.8 L809.4,596.4 L816.5,597.2 L823.6,598.0 L830.6,598.8 L837.7,599.7 L844.8,600.5 L851.9,601.2 L858.9,601.9 L866.0,602.5 L873.1,602.9 L880.1,603.3 L887.2,603.6 L894.3,603.9 L901.3,604.1 L908.4,604.2 L915.5,604.3 L922.5,604.4 L929.6,604.5 L936.7,604.5 L943.8,604.6 L950.8,604.6 L957.9,604.6 L965.0,604.6 L972.0,604.6 L979.1,604.6 L986.2,604.6 L993.2,604.6 L1000.3,604.6" fill="none" stroke="#cfc7b0" stroke-width="1.2" stroke-opacity="0.85"/>
<path d="M661.0,590.6 L668.1,590.6 L675.1,590.7 L682.2,590.7 L689.3,590.7 L696.3,590.7 L703.4,590.7 L710.5,590.7 L717.5,590.8 L724.6,590.8 L731.7,590.9 L738.8,590.9 L745.8,591.0 L752.9,591.2 L760.0,591.3 L767.0,591.6 L774.1,591.9 L781.2,592.2 L788.2,592.7 L795.3,593.3 L802.4,594.0 L809.4,594.8 L816.5,595.7 L823.6,596.6 L830.6,597.6 L837.7,598.7 L844.8,599.6 L851.9,600.5 L858.9,601.3 L866.0,602.0 L873.1,602.6 L880.1,603.1 L887.2,603.4 L894.3,603.7 L901.3,603.9 L908.4,604.1 L915.5,604.3 L922.5,604.4 L929.6,604.4 L936.7,604.5 L943.8,604.5 L950.8,604.6 L957.9,604.6 L965.0,604.6 L972.0,604.6 L979.1,604.6 L986.2,604.6 L993.2,604.6 L1000.3,604.7" fill="none" stroke="#cfc7b0" stroke-width="1.0" stroke-opacity="0.85"/>
<path d="M661.0,643.4 L668.1,643.4 L675.1,643.4 L682.2,643.4 L689.3,643.4 L696.3,643.4 L703.4,643.4 L710.5,643.4 L717.5,643.5 L724.6,643.5 L731.7,643.5 L738.8,643.6 L745.8,643.7 L752.9,643.8 L760.0,643.9 L767.0,644.1 L774.1,644.4 L781.2,644.7 L788.2,645.0 L795.3,645.5 L802.4,646.1 L809.4,646.7 L816.5,647.4 L823.6,648.2 L830.6,649.0 L837.7,649.9 L844.8,650.7 L851.9,651.4 L858.9,652.0 L866.0,652.6 L873.1,653.1 L880.1,653.4 L887.2,653.7 L894.3,654.0 L901.3,654.2 L908.4,654.3 L915.5,654.4 L922.5,654.5 L929.6,654.6 L936.7,654.6 L943.8,654.6 L950.8,654.7 L957.9,654.7 L965.0,654.7 L972.0,654.7 L979.1,654.7 L986.2,654.7 L993.2,654.7 L1000.3,654.7" fill="none" stroke="#cfc7b0" stroke-width="1.3" stroke-opacity="0.85"/>
<path d="M661.0,640.8 L668.1,640.8 L675.1,640.8 L682.2,640.8 L689.3,640.9 L696.3,640.9 L703.4,640.9 L710.5,640.9 L717.5,641.0 L724.6,641.0 L731.7,641.1 L738.8,641.2 L745.8,641.4 L752.9,641.5 L760.0,641.8 L767.0,642.1 L774.1,642.5 L781.2,643.0 L788.2,643.6 L795.3,644.4 L802.4,645.3 L809.4,646.4 L816.5,647.6 L823.6,648.9 L830.6,650.2 L837.7,651.6 L844.8,652.9 L851.9,654.1 L858.9,655.2 L866.0,656.1 L873.1,656.9 L880.1,657.5 L887.2,658.0 L894.3,658.4 L901.3,658.7 L908.4,659.0 L915.5,659.1 L922.5,659.3 L929.6,659.4 L936.7,659.5 L943.8,659.5 L950.8,659.6 L957.9,659.6 L965.0,659.6 L972.0,659.6 L979.1,659.6 L986.2,659.7 L993.2,659.7 L1000.3,659.7" fill="none" stroke="#cfc7b0" stroke-width="1.1" stroke-opacity="0.85"/>
<path d="M661.0,600.0 L668.1,600.0 L675.1,600.0 L682.2,600.1 L689.3,600.2 L696.3,600.3 L703.4,600.5 L710.5,600.7 L717.5,601.1 L724.6,601.5 L731.7,602.0 L738.8,602.7 L745.8,603.7 L752.9,604.9 L760.0,606.6 L767.0,608.7 L774.1,611.4 L781.2,614.9 L788.2,619.2 L795.3,624.5 L802.4,630.9 L809.4,638.4 L816.5,646.7 L823.6,655.8 L830.6,665.3 L837.7,674.8 L844.8,683.9 L851.9,692.2 L858.9,699.7 L866.0,706.1 L873.1,711.4 L880.1,715.7 L887.2,719.2 L894.3,721.9 L901.3,724.0 L908.4,725.7 L915.5,726.9 L922.5,727.9 L929.6,728.6 L936.7,729.1 L943.8,729.5 L950.8,729.8 L957.9,730.1 L965.0,730.2 L972.0,730.4 L979.1,730.5 L986.2,730.5 L993.2,730.6 L1000.3,730.6" fill="none" stroke="#cfc7b0" stroke-width="1.0" stroke-opacity="0.85"/>
<path d="M661.0,625.1 L668.1,625.1 L675.1,625.2 L682.2,625.3 L689.3,625.4 L696.3,625.5 L703.4,625.7 L710.5,625.9 L717.5,626.2 L724.6,626.6 L731.7,627.2 L738.8,627.9 L745.8,628.8 L752.9,630.1 L760.0,631.8 L767.0,633.9 L774.1,636.7 L781.2,640.2 L788.2,644.6 L795.3,650.0 L802.4,656.4 L809.4,664.0 L816.5,672.4 L823.6,681.6 L830.6,691.2 L837.7,700.8 L844.8,710.0 L851.9,718.5 L858.9,726.0 L866.0,732.5 L873.1,737.9 L880.1,742.3 L887.2,745.8 L894.3,748.5 L901.3,750.7 L908.4,752.3 L915.5,753.6 L922.5,754.6 L929.6,755.3 L936.7,755.8 L943.8,756.3 L950.8,756.6 L957.9,756.8 L965.0,757.0 L972.0,757.1 L979.1,757.2 L986.2,757.3 L993.2,757.3 L1000.3,757.4" fill="none" stroke="#cfc7b0" stroke-width="1.4" stroke-opacity="0.85"/>
<path d="M661.0,603.4 L668.1,603.5 L675.1,603.6 L682.2,603.7 L689.3,603.9 L696.3,604.2 L703.4,604.5 L710.5,604.9 L717.5,605.5 L724.6,606.3 L731.7,607.4 L738.8,608.8 L745.8,610.6 L752.9,613.0 L760.0,616.2 L767.0,620.3 L774.1,625.5 L781.2,632.3 L788.2,640.6 L795.3,650.9 L802.4,663.3 L809.4,677.6 L816.5,693.8 L823.6,711.4 L830.6,729.7 L837.7,748.0 L844.8,765.6 L851.9,781.8 L858.9,796.2 L866.0,808.5 L873.1,818.8 L880.1,827.2 L887.2,833.9 L894.3,839.2 L901.3,843.3 L908.4,846.4 L915.5,848.9 L922.5,850.7 L929.6,852.1 L936.7,853.1 L943.8,853.9 L950.8,854.5 L957.9,854.9 L965.0,855.3 L972.0,855.5 L979.1,855.7 L986.2,855.9 L993.2,856.0 L1000.3,856.0" fill="none" stroke="#cfc7b0" stroke-width="1.3" stroke-opacity="0.85"/>
<path d="M661.0,658.6 L668.1,658.5 L675.1,658.5 L682.2,658.4 L689.3,658.2 L696.3,658.1 L703.4,657.9 L710.5,657.6 L717.5,657.2 L724.6,656.7 L731.7,656.0 L738.8,655.1 L745.8,653.9 L752.9,652.3 L760.0,650.2 L767.0,647.5 L774.1,644.0 L781.2,639.6 L788.2,634.1 L795.3,627.3 L802.4,619.2 L809.4,609.8 L816.5,599.2 L823.6,587.6 L830.6,575.6 L837.7,563.5 L844.8,552.0 L851.9,541.3 L858.9,531.9 L866.0,523.8 L873.1,517.0 L880.1,511.5 L887.2,507.1 L894.3,503.6 L901.3,501.0 L908.4,498.9 L915.5,497.3 L922.5,496.1 L929.6,495.2 L936.7,494.5 L943.8,494.0 L950.8,493.6 L957.9,493.3 L965.0,493.1 L972.0,492.9 L979.1,492.8 L986.2,492.7 L993.2,492.6 L1000.3,492.6" fill="none" stroke="#cfc7b0" stroke-width="1.5" stroke-opacity="0.85"/>
<path d="M661.0,662.5 L668.1,662.4 L675.1,662.4 L682.2,662.3 L689.3,662.2 L696.3,662.0 L703.4,661.9 L710.5,661.6 L717.5,661.3 L724.6,660.8 L731.7,660.2 L738.8,659.4 L745.8,658.4 L752.9,657.0 L760.0,655.2 L767.0,652.9 L774.1,649.9 L781.2,646.1 L788.2,641.3 L795.3,635.5 L802.4,628.4 L809.4,620.3 L816.5,611.1 L823.6,601.1 L830.6,590.7 L837.7,580.3 L844.8,570.3 L851.9,561.1 L858.9,552.9 L866.0,545.9 L873.1,540.0 L880.1,535.3 L887.2,531.5 L894.3,528.5 L901.3,526.1 L908.4,524.3 L915.5,523.0 L922.5,521.9 L929.6,521.1 L936.7,520.5 L943.8,520.1 L950.8,519.8 L957.9,519.5 L965.0,519.3 L972.0,519.2 L979.1,519.1 L986.2,519.0 L993.2,518.9 L1000.3,518.9" fill="none" stroke="#cfc7b0" stroke-width="1.2" stroke-opacity="0.85"/>
<path d="M661.0,676.1 L668.1,676.1 L675.1,676.0 L682.2,676.0 L689.3,675.9 L696.3,675.9 L703.4,675.8 L710.5,675.6 L717.5,675.4 L724.6,675.2 L731.7,674.9 L738.8,674.4 L745.8,673.9 L752.9,673.1 L760.0,672.1 L767.0,670.9 L774.1,669.2 L781.2,667.2 L788.2,664.5 L795.3,661.4 L802.4,657.5 L809.4,653.1 L816.5,648.0 L823.6,642.6 L830.6,636.9 L837.7,631.2 L844.8,625.8 L851.9,620.8 L858.9,616.3 L866.0,612.5 L873.1,609.3 L880.1,606.7 L887.2,604.6 L894.3,603.0 L901.3,601.7 L908.4,600.7 L915.5,599.9 L922.5,599.4 L929.6,598.9 L936.7,598.6 L943.8,598.4 L950.8,598.2 L957.9,598.1 L965.0,598.0 L972.0,597.9 L979.1,597.8 L986.2,597.8 L993.2,597.7 L1000.3,597.7" fill="none" stroke="#cfc7b0" stroke-width="1.4" stroke-opacity="0.85"/>
<path d="M661.0,659.5 L668.1,659.5 L675.1,659.5 L682.2,659.4 L689.3,659.4 L696.3,659.3 L703.4,659.2 L710.5,659.0 L717.5,658.9 L724.6,658.6 L731.7,658.3 L738.8,657.9 L745.8,657.3 L752.9,656.6 L760.0,655.6 L767.0,654.4 L774.1,652.7 L781.2,650.7 L788.2,648.1 L795.3,645.0 L802.4,641.2 L809.4,636.8 L816.5,631.8 L823.6,626.5 L830.6,620.9 L837.7,615.2 L844.8,609.9 L851.9,604.9 L858.9,600.5 L866.0,596.7 L873.1,593.6 L880.1,591.0 L887.2,589.0 L894.3,587.4 L901.3,586.1 L908.4,585.1 L915.5,584.4 L922.5,583.8 L929.6,583.4 L936.7,583.1 L943.8,582.8 L950.8,582.7 L957.9,582.5 L965.0,582.4 L972.0,582.4 L979.1,582.3 L986.2,582.3 L993.2,582.2 L1000.3,582.2" fill="none" stroke="#cfc7b0" stroke-width="1.3" stroke-opacity="0.85"/>
<path d="M661.0,648.3 L668.1,648.3 L675.1,648.3 L682.2,648.3 L689.3,648.3 L696.3,648.3 L703.4,648.3 L710.5,648.3 L717.5,648.3 L724.6,648.3 L731.7,648.3 L738.8,648.3 L745.8,648.4 L752.9,648.4 L760.0,648.5 L767.0,648.5 L774.1,648.6 L781.2,648.7 L788.2,648.8 L795.3,649.0 L802.4,649.1 L809.4,649.4 L816.5,649.6 L823.6,649.9 L830.6,650.1 L837.7,650.4 L844.8,650.6 L851.9,650.9 L858.9,651.1 L866.0,651.3 L873.1,651.4 L880.1,651.6 L887.2,651.6 L894.3,651.7 L901.3,651.8 L908.4,651.8 L915.5,651.9 L922.5,651.9 L929.6,651.9 L936.7,651.9 L943.8,651.9 L950.8,652.0 L957.9,652.0 L965.0,652.0 L972.0,652.0 L979.1,652.0 L986.2,652.0 L993.2,652.0 L1000.3,652.0" fill="none" stroke="#cfc7b0" stroke-width="1.1" stroke-opacity="0.85"/>
<path d="M661.0,646.0 L668.1,646.0 L675.1,646.0 L682.2,646.0 L689.3,646.0 L696.3,646.0 L703.4,646.0 L710.5,646.0 L717.5,646.0 L724.6,646.0 L731.7,646.0 L738.8,646.1 L745.8,646.1 L752.9,646.2 L760.0,646.2 L767.0,646.3 L774.1,646.4 L781.2,646.5 L788.2,646.7 L795.3,646.9 L802.4,647.1 L809.4,647.4 L816.5,647.7 L823.6,648.1 L830.6,648.4 L837.7,648.8 L844.8,649.1 L851.9,649.5 L858.9,649.7 L866.0,650.0 L873.1,650.2 L880.1,650.4 L887.2,650.5 L894.3,650.6 L901.3,650.7 L908.4,650.7 L915.5,650.8 L922.5,650.8 L929.6,650.8 L936.7,650.9 L943.8,650.9 L950.8,650.9 L957.9,650.9 L965.0,650.9 L972.0,650.9 L979.1,650.9 L986.2,650.9 L993.2,650.9 L1000.3,650.9" fill="none" stroke="#cfc7b0" stroke-width="1.2" stroke-opacity="0.85"/>
<path d="M661.0,705.8 L668.1,705.8 L675.1,705.9 L682.2,705.9 L689.3,705.9 L696.3,705.9 L703.4,705.9 L710.5,705.9 L717.5,705.9 L724.6,706.0 L731.7,706.0 L738.8,706.1 L745.8,706.2 L752.9,706.3 L760.0,706.4 L767.0,706.6 L774.1,706.9 L781.2,707.2 L788.2,707.6 L795.3,708.1 L802.4,708.7 L809.4,709.3 L816.5,710.1 L823.6,710.9 L830.6,711.8 L837.7,712.6 L844.8,713.5 L851.9,714.2 L858.9,714.9 L866.0,715.5 L873.1,715.9 L880.1,716.3 L887.2,716.7 L894.3,716.9 L901.3,717.1 L908.4,717.2 L915.5,717.4 L922.5,717.4 L929.6,717.5 L936.7,717.6 L943.8,717.6 L950.8,717.6 L957.9,717.6 L965.0,717.7 L972.0,717.7 L979.1,717.7 L986.2,717.7 L993.2,717.7 L1000.3,717.7" fill="none" stroke="#cfc7b0" stroke-width="1.1" stroke-opacity="0.85"/>
<path d="M661.0,706.9 L668.1,706.9 L675.1,706.9 L682.2,707.0 L689.3,707.0 L696.3,707.0 L703.4,707.0 L710.5,707.0 L717.5,707.0 L724.6,707.0 L731.7,707.1 L738.8,707.1 L745.8,707.2 L752.9,707.2 L760.0,707.3 L767.0,707.5 L774.1,707.6 L781.2,707.8 L788.2,708.1 L795.3,708.4 L802.4,708.8 L809.4,709.2 L816.5,709.7 L823.6,710.3 L830.6,710.8 L837.7,711.4 L844.8,711.9 L851.9,712.4 L858.9,712.9 L866.0,713.3 L873.1,713.6 L880.1,713.8 L887.2,714.0 L894.3,714.2 L901.3,714.3 L908.4,714.4 L915.5,714.5 L922.5,714.6 L929.6,714.6 L936.7,714.6 L943.8,714.7 L950.8,714.7 L957.9,714.7 L965.0,714.7 L972.0,714.7 L979.1,714.7 L986.2,714.7 L993.2,714.7 L1000.3,714.7" fill="none" stroke="#cfc7b0" stroke-width="0.9" stroke-opacity="0.85"/>
<path d="M661.0,701.4 L668.1,701.5 L675.1,701.6 L682.2,701.6 L689.3,701.8 L696.3,701.9 L703.4,702.1 L710.5,702.4 L717.5,702.8 L724.6,703.3 L731.7,704.0 L738.8,704.9 L745.8,706.1 L752.9,707.6 L760.0,709.6 L767.0,712.3 L774.1,715.7 L781.2,720.0 L788.2,725.4 L795.3,732.0 L802.4,739.9 L809.4,749.1 L816.5,759.5 L823.6,770.8 L830.6,782.6 L837.7,794.4 L844.8,805.7 L851.9,816.0 L858.9,825.3 L866.0,833.2 L873.1,839.8 L880.1,845.2 L887.2,849.5 L894.3,852.9 L901.3,855.5 L908.4,857.6 L915.5,859.1 L922.5,860.3 L929.6,861.2 L936.7,861.9 L943.8,862.4 L950.8,862.8 L957.9,863.0 L965.0,863.3 L972.0,863.4 L979.1,863.5 L986.2,863.6 L993.2,863.7 L1000.3,863.7" fill="none" stroke="#cfc7b0" stroke-width="1.5" stroke-opacity="0.85"/>
<path d="M661.0,656.6 L668.1,656.7 L675.1,656.7 L682.2,656.8 L689.3,656.9 L696.3,657.1 L703.4,657.3 L710.5,657.6 L717.5,657.9 L724.6,658.4 L731.7,659.0 L738.8,659.8 L745.8,660.9 L752.9,662.4 L760.0,664.3 L767.0,666.7 L774.1,669.9 L781.2,673.9 L788.2,678.9 L795.3,685.1 L802.4,692.5 L809.4,701.1 L816.5,710.8 L823.6,721.3 L830.6,732.3 L837.7,743.3 L844.8,753.8 L851.9,763.5 L858.9,772.1 L866.0,779.5 L873.1,785.7 L880.1,790.7 L887.2,794.7 L894.3,797.9 L901.3,800.4 L908.4,802.3 L915.5,803.7 L922.5,804.8 L929.6,805.6 L936.7,806.3 L943.8,806.7 L950.8,807.1 L957.9,807.4 L965.0,807.6 L972.0,807.7 L979.1,807.8 L986.2,807.9 L993.2,808.0 L1000.3,808.0" fill="none" stroke="#cfc7b0" stroke-width="1.0" stroke-opacity="0.85"/>
<path d="M661.0,764.6 L668.1,764.5 L675.1,764.4 L682.2,764.2 L689.3,764.0 L696.3,763.8 L703.4,763.4 L710.5,762.9 L717.5,762.2 L724.6,761.4 L731.7,760.2 L738.8,758.7 L745.8,756.6 L752.9,753.9 L760.0,750.4 L767.0,745.9 L774.1,740.0 L781.2,732.6 L788.2,723.3 L795.3,711.9 L802.4,698.2 L809.4,682.3 L816.5,664.4 L823.6,644.9 L830.6,624.6 L837.7,604.3 L844.8,584.8 L851.9,566.8 L858.9,550.9 L866.0,537.2 L873.1,525.8 L880.1,516.5 L887.2,509.1 L894.3,503.2 L901.3,498.7 L908.4,495.2 L915.5,492.5 L922.5,490.5 L929.6,488.9 L936.7,487.8 L943.8,486.9 L950.8,486.2 L957.9,485.8 L965.0,485.4 L972.0,485.1 L979.1,484.9 L986.2,484.7 L993.2,484.6 L1000.3,484.5" fill="none" stroke="#cfc7b0" stroke-width="1.1" stroke-opacity="0.85"/>
<path d="M661.0,741.3 L668.1,741.3 L675.1,741.2 L682.2,741.0 L689.3,740.9 L696.3,740.7 L703.4,740.4 L710.5,740.0 L717.5,739.5 L724.6,738.8 L731.7,737.8 L738.8,736.6 L745.8,735.0 L752.9,732.9 L760.0,730.1 L767.0,726.4 L774.1,721.8 L781.2,715.9 L788.2,708.5 L795.3,699.4 L802.4,688.5 L809.4,675.8 L816.5,661.5 L823.6,646.0 L830.6,629.8 L837.7,613.7 L844.8,598.1 L851.9,583.9 L858.9,571.2 L866.0,560.3 L873.1,551.2 L880.1,543.8 L887.2,537.9 L894.3,533.2 L901.3,529.6 L908.4,526.8 L915.5,524.7 L922.5,523.1 L929.6,521.8 L936.7,520.9 L943.8,520.2 L950.8,519.7 L957.9,519.3 L965.0,519.0 L972.0,518.8 L979.1,518.6 L986.2,518.5 L993.2,518.4 L1000.3,518.3" fill="none" stroke="#cfc7b0" stroke-width="1.4" stroke-opacity="0.85"/>
<path d="M661.0,730.7 L668.1,730.6 L675.1,730.5 L682.2,730.5 L689.3,730.3 L696.3,730.2 L703.4,730.0 L710.5,729.7 L717.5,729.3 L724.6,728.9 L731.7,728.2 L738.8,727.3 L745.8,726.2 L752.9,724.7 L760.0,722.8 L767.0,720.2 L774.1,717.0 L781.2,712.8 L788.2,707.6 L795.3,701.3 L802.4,693.6 L809.4,684.7 L816.5,674.7 L823.6,663.8 L830.6,652.5 L837.7,641.2 L844.8,630.3 L851.9,620.3 L858.9,611.4 L866.0,603.8 L873.1,597.4 L880.1,592.2 L887.2,588.1 L894.3,584.8 L901.3,582.2 L908.4,580.3 L915.5,578.8 L922.5,577.7 L929.6,576.8 L936.7,576.2 L943.8,575.7 L950.8,575.3 L957.9,575.0 L965.0,574.8 L972.0,574.7 L979.1,574.6 L986.2,574.5 L993.2,574.4 L1000.3,574.4" fill="none" stroke="#cfc7b0" stroke-width="1.5" stroke-opacity="0.85"/>
<path d="M661.0,751.0 L668.1,751.0 L675.1,750.9 L682.2,750.9 L689.3,750.8 L696.3,750.7 L703.4,750.5 L710.5,750.3 L717.5,750.1 L724.6,749.7 L731.7,749.2 L738.8,748.6 L745.8,747.8 L752.9,746.7 L760.0,745.3 L767.0,743.5 L774.1,741.1 L781.2,738.1 L788.2,734.3 L795.3,729.7 L802.4,724.2 L809.4,717.8 L816.5,710.6 L823.6,702.7 L830.6,694.5 L837.7,686.3 L844.8,678.4 L851.9,671.2 L858.9,664.8 L866.0,659.3 L873.1,654.7 L880.1,650.9 L887.2,647.9 L894.3,645.5 L901.3,643.7 L908.4,642.3 L915.5,641.2 L922.5,640.4 L929.6,639.8 L936.7,639.3 L943.8,638.9 L950.8,638.7 L957.9,638.5 L965.0,638.3 L972.0,638.2 L979.1,638.1 L986.2,638.1 L993.2,638.0 L1000.3,638.0" fill="none" stroke="#cfc7b0" stroke-width="1.0" stroke-opacity="0.85"/>
<path d="M661.0,717.6 L668.1,717.5 L675.1,717.5 L682.2,717.4 L689.3,717.4 L696.3,717.3 L703.4,717.2 L710.5,717.1 L717.5,716.9 L724.6,716.6 L731.7,716.3 L738.8,715.9 L745.8,715.3 L752.9,714.5 L760.0,713.5 L767.0,712.2 L774.1,710.5 L781.2,708.4 L788.2,705.8 L795.3,702.5 L802.4,698.6 L809.4,694.0 L816.5,688.9 L823.6,683.3 L830.6,677.5 L837.7,671.7 L844.8,666.2 L851.9,661.0 L858.9,656.5 L866.0,652.6 L873.1,649.3 L880.1,646.7 L887.2,644.5 L894.3,642.9 L901.3,641.6 L908.4,640.6 L915.5,639.8 L922.5,639.2 L929.6,638.8 L936.7,638.4 L943.8,638.2 L950.8,638.0 L957.9,637.9 L965.0,637.8 L972.0,637.7 L979.1,637.6 L986.2,637.6 L993.2,637.5 L1000.3,637.5" fill="none" stroke="#cfc7b0" stroke-width="1.2" stroke-opacity="0.85"/>
<path d="M661.0,712.4 L668.1,712.4 L675.1,712.4 L682.2,712.4 L689.3,712.4 L696.3,712.4 L703.4,712.4 L710.5,712.4 L717.5,712.4 L724.6,712.4 L731.7,712.4 L738.8,712.4 L745.8,712.4 L752.9,712.5 L760.0,712.5 L767.0,712.5 L774.1,712.6 L781.2,712.6 L788.2,712.7 L795.3,712.8 L802.4,712.9 L809.4,713.0 L816.5,713.2 L823.6,713.3 L830.6,713.5 L837.7,713.7 L844.8,713.8 L851.9,714.0 L858.9,714.1 L866.0,714.2 L873.1,714.3 L880.1,714.4 L887.2,714.4 L894.3,714.5 L901.3,714.5 L908.4,714.5 L915.5,714.6 L922.5,714.6 L929.6,714.6 L936.7,714.6 L943.8,714.6 L950.8,714.6 L957.9,714.6 L965.0,714.6 L972.0,714.6 L979.1,714.6 L986.2,714.6 L993.2,714.6 L1000.3,714.6" fill="none" stroke="#cfc7b0" stroke-width="1.2" stroke-opacity="0.85"/>
<path d="M661.0,708.0 L668.1,708.0 L675.1,708.0 L682.2,708.0 L689.3,708.0 L696.3,708.0 L703.4,708.0 L710.5,708.0 L717.5,708.0 L724.6,708.0 L731.7,708.0 L738.8,708.0 L745.8,708.0 L752.9,708.0 L760.0,708.1 L767.0,708.1 L774.1,708.1 L781.2,708.2 L788.2,708.2 L795.3,708.3 L802.4,708.3 L809.4,708.4 L816.5,708.5 L823.6,708.6 L830.6,708.7 L837.7,708.9 L844.8,709.0 L851.9,709.1 L858.9,709.1 L866.0,709.2 L873.1,709.3 L880.1,709.3 L887.2,709.4 L894.3,709.4 L901.3,709.4 L908.4,709.4 L915.5,709.5 L922.5,709.5 L929.6,709.5 L936.7,709.5 L943.8,709.5 L950.8,709.5 L957.9,709.5 L965.0,709.5 L972.0,709.5 L979.1,709.5 L986.2,709.5 L993.2,709.5 L1000.3,709.5" fill="none" stroke="#cfc7b0" stroke-width="1.3" stroke-opacity="0.85"/>
<path d="M661.0,780.4 L668.1,780.4 L675.1,780.4 L682.2,780.4 L689.3,780.4 L696.3,780.4 L703.4,780.4 L710.5,780.4 L717.5,780.3 L724.6,780.3 L731.7,780.3 L738.8,780.3 L745.8,780.2 L752.9,780.1 L760.0,780.1 L767.0,779.9 L774.1,779.8 L781.2,779.6 L788.2,779.4 L795.3,779.1 L802.4,778.8 L809.4,778.4 L816.5,777.9 L823.6,777.5 L830.6,777.0 L837.7,776.5 L844.8,776.0 L851.9,775.5 L858.9,775.2 L866.0,774.8 L873.1,774.5 L880.1,774.3 L887.2,774.1 L894.3,774.0 L901.3,773.9 L908.4,773.8 L915.5,773.7 L922.5,773.7 L929.6,773.6 L936.7,773.6 L943.8,773.6 L950.8,773.6 L957.9,773.6 L965.0,773.5 L972.0,773.5 L979.1,773.5 L986.2,773.5 L993.2,773.5 L1000.3,773.5" fill="none" stroke="#cfc7b0" stroke-width="1.1" stroke-opacity="0.85"/>
<path d="M661.0,782.0 L668.1,782.0 L675.1,782.0 L682.2,782.0 L689.3,782.0 L696.3,782.0 L703.4,782.0 L710.5,782.0 L717.5,782.0 L724.6,782.0 L731.7,781.9 L738.8,781.9 L745.8,781.8 L752.9,781.8 L760.0,781.7 L767.0,781.6 L774.1,781.5 L781.2,781.3 L788.2,781.1 L795.3,780.8 L802.4,780.5 L809.4,780.1 L816.5,779.7 L823.6,779.2 L830.6,778.7 L837.7,778.2 L844.8,777.8 L851.9,777.3 L858.9,777.0 L866.0,776.6 L873.1,776.4 L880.1,776.1 L887.2,776.0 L894.3,775.8 L901.3,775.7 L908.4,775.6 L915.5,775.6 L922.5,775.5 L929.6,775.5 L936.7,775.5 L943.8,775.4 L950.8,775.4 L957.9,775.4 L965.0,775.4 L972.0,775.4 L979.1,775.4 L986.2,775.4 L993.2,775.4 L1000.3,775.4" fill="none" stroke="#cfc7b0" stroke-width="1.4" stroke-opacity="0.85"/>
<path d="M661.0,816.5 L668.1,816.4 L675.1,816.3 L682.2,816.1 L689.3,815.9 L696.3,815.5 L703.4,815.1 L710.5,814.5 L717.5,813.7 L724.6,812.7 L731.7,811.3 L738.8,809.5 L745.8,807.0 L752.9,803.8 L760.0,799.7 L767.0,794.2 L774.1,787.3 L781.2,778.4 L788.2,767.3 L795.3,753.7 L802.4,737.4 L809.4,718.4 L816.5,697.0 L823.6,673.8 L830.6,649.6 L837.7,625.4 L844.8,602.2 L851.9,580.8 L858.9,561.8 L866.0,545.5 L873.1,531.9 L880.1,520.8 L887.2,512.0 L894.3,505.0 L901.3,499.6 L908.4,495.4 L915.5,492.2 L922.5,489.8 L929.6,487.9 L936.7,486.5 L943.8,485.5 L950.8,484.7 L957.9,484.1 L965.0,483.7 L972.0,483.4 L979.1,483.1 L986.2,482.9 L993.2,482.8 L1000.3,482.7" fill="none" stroke="#cfc7b0" stroke-width="1.3" stroke-opacity="0.85"/>
<path d="M661.0,813.7 L668.1,813.6 L675.1,813.5 L682.2,813.3 L689.3,813.1 L696.3,812.8 L703.4,812.4 L710.5,811.9 L717.5,811.1 L724.6,810.2 L731.7,808.9 L738.8,807.2 L745.8,805.0 L752.9,802.1 L760.0,798.3 L767.0,793.3 L774.1,786.9 L781.2,778.8 L788.2,768.6 L795.3,756.2 L802.4,741.2 L809.4,723.8 L816.5,704.2 L823.6,683.0 L830.6,660.8 L837.7,638.6 L844.8,617.3 L851.9,597.7 L858.9,580.3 L866.0,565.4 L873.1,552.9 L880.1,542.8 L887.2,534.6 L894.3,528.3 L901.3,523.3 L908.4,519.5 L915.5,516.5 L922.5,514.3 L929.6,512.6 L936.7,511.4 L943.8,510.4 L950.8,509.7 L957.9,509.2 L965.0,508.8 L972.0,508.4 L979.1,508.2 L986.2,508.1 L993.2,507.9 L1000.3,507.8" fill="none" stroke="#cfc7b0" stroke-width="1.1" stroke-opacity="0.85"/>
<path d="M661.0,795.8 L668.1,795.7 L675.1,795.6 L682.2,795.5 L689.3,795.4 L696.3,795.1 L703.4,794.9 L710.5,794.5 L717.5,793.9 L724.6,793.3 L731.7,792.3 L738.8,791.1 L745.8,789.5 L752.9,787.4 L760.0,784.7 L767.0,781.1 L774.1,776.5 L781.2,770.7 L788.2,763.4 L795.3,754.4 L802.4,743.7 L809.4,731.2 L816.5,717.1 L823.6,701.8 L830.6,685.8 L837.7,669.8 L844.8,654.5 L851.9,640.5 L858.9,627.9 L866.0,617.2 L873.1,608.2 L880.1,600.9 L887.2,595.1 L894.3,590.5 L901.3,586.9 L908.4,584.2 L915.5,582.1 L922.5,580.5 L929.6,579.3 L936.7,578.3 L943.8,577.7 L950.8,577.1 L957.9,576.8 L965.0,576.5 L972.0,576.3 L979.1,576.1 L986.2,576.0 L993.2,575.9 L1000.3,575.8" fill="none" stroke="#cfc7b0" stroke-width="1.2" stroke-opacity="0.85"/>
<path d="M661.0,820.1 L668.1,820.0 L675.1,819.9 L682.2,819.8 L689.3,819.7 L696.3,819.5 L703.4,819.3 L710.5,819.0 L717.5,818.6 L724.6,818.0 L731.7,817.2 L738.8,816.3 L745.8,815.0 L752.9,813.2 L760.0,811.0 L767.0,808.1 L774.1,804.3 L781.2,799.5 L788.2,793.6 L795.3,786.2 L802.4,777.5 L809.4,767.3 L816.5,755.7 L823.6,743.2 L830.6,730.2 L837.7,717.2 L844.8,704.7 L851.9,693.1 L858.9,682.9 L866.0,674.1 L873.1,666.8 L880.1,660.8 L887.2,656.1 L894.3,652.3 L901.3,649.4 L908.4,647.2 L915.5,645.4 L922.5,644.1 L929.6,643.1 L936.7,642.4 L943.8,641.8 L950.8,641.4 L957.9,641.1 L965.0,640.9 L972.0,640.7 L979.1,640.6 L986.2,640.5 L993.2,640.4 L1000.3,640.3" fill="none" stroke="#cfc7b0" stroke-width="1.1" stroke-opacity="0.85"/>
<path d="M661.0,838.7 L668.1,838.6 L675.1,838.5 L682.2,838.4 L689.3,838.3 L696.3,838.2 L703.4,837.9 L710.5,837.6 L717.5,837.2 L724.6,836.7 L731.7,836.0 L738.8,835.1 L745.8,833.9 L752.9,832.2 L760.0,830.1 L767.0,827.4 L774.1,823.8 L781.2,819.4 L788.2,813.8 L795.3,806.9 L802.4,798.6 L809.4,789.0 L816.5,778.2 L823.6,766.4 L830.6,754.2 L837.7,741.9 L844.8,730.2 L851.9,719.3 L858.9,709.7 L866.0,701.5 L873.1,694.6 L880.1,689.0 L887.2,684.5 L894.3,681.0 L901.3,678.2 L908.4,676.1 L915.5,674.5 L922.5,673.3 L929.6,672.3 L936.7,671.6 L943.8,671.1 L950.8,670.7 L957.9,670.4 L965.0,670.2 L972.0,670.0 L979.1,669.9 L986.2,669.8 L993.2,669.7 L1000.3,669.7" fill="none" stroke="#cfc7b0" stroke-width="1.2" stroke-opacity="0.85"/>
<path d="M661.0,792.7 L668.1,792.7 L675.1,792.6 L682.2,792.6 L689.3,792.5 L696.3,792.4 L703.4,792.2 L710.5,792.0 L717.5,791.7 L724.6,791.3 L731.7,790.9 L738.8,790.2 L745.8,789.3 L752.9,788.2 L760.0,786.7 L767.0,784.7 L774.1,782.2 L781.2,779.1 L788.2,775.1 L795.3,770.2 L802.4,764.4 L809.4,757.6 L816.5,749.9 L823.6,741.6 L830.6,732.9 L837.7,724.2 L844.8,715.9 L851.9,708.2 L858.9,701.4 L866.0,695.6 L873.1,690.7 L880.1,686.7 L887.2,683.6 L894.3,681.1 L901.3,679.1 L908.4,677.6 L915.5,676.5 L922.5,675.6 L929.6,674.9 L936.7,674.5 L943.8,674.1 L950.8,673.8 L957.9,673.6 L965.0,673.4 L972.0,673.3 L979.1,673.2 L986.2,673.2 L993.2,673.1 L1000.3,673.1" fill="none" stroke="#cfc7b0" stroke-width="1.0" stroke-opacity="0.85"/>
<path d="M661.0,785.6 L668.1,785.6 L675.1,785.6 L682.2,785.6 L689.3,785.6 L696.3,785.6 L703.4,785.5 L710.5,785.5 L717.5,785.5 L724.6,785.4 L731.7,785.4 L738.8,785.3 L745.8,785.2 L752.9,785.1 L760.0,784.9 L767.0,784.7 L774.1,784.4 L781.2,784.1 L788.2,783.6 L795.3,783.1 L802.4,782.5 L809.4,781.7 L816.5,780.8 L823.6,779.9 L830.6,779.0 L837.7,778.0 L844.8,777.1 L851.9,776.2 L858.9,775.5 L866.0,774.8 L873.1,774.3 L880.1,773.8 L887.2,773.5 L894.3,773.2 L901.3,773.0 L908.4,772.8 L915.5,772.7 L922.5,772.6 L929.6,772.5 L936.7,772.5 L943.8,772.4 L950.8,772.4 L957.9,772.4 L965.0,772.3 L972.0,772.3 L979.1,772.3 L986.2,772.3 L993.2,772.3 L1000.3,772.3" fill="none" stroke="#cfc7b0" stroke-width="1.0" stroke-opacity="0.85"/>
<path d="M661.0,787.2 L668.1,787.1 L675.1,787.1 L682.2,787.1 L689.3,787.1 L696.3,787.1 L703.4,787.1 L710.5,787.1 L717.5,787.0 L724.6,787.0 L731.7,787.0 L738.8,786.9 L745.8,786.8 L752.9,786.7 L760.0,786.5 L767.0,786.3 L774.1,786.1 L781.2,785.7 L788.2,785.3 L795.3,784.8 L802.4,784.2 L809.4,783.5 L816.5,782.7 L823.6,781.8 L830.6,780.9 L837.7,780.0 L844.8,779.1 L851.9,778.3 L858.9,777.6 L866.0,777.0 L873.1,776.5 L880.1,776.0 L887.2,775.7 L894.3,775.4 L901.3,775.2 L908.4,775.1 L915.5,775.0 L922.5,774.9 L929.6,774.8 L936.7,774.8 L943.8,774.7 L950.8,774.7 L957.9,774.7 L965.0,774.6 L972.0,774.6 L979.1,774.6 L986.2,774.6 L993.2,774.6 L1000.3,774.6" fill="none" stroke="#cfc7b0" stroke-width="1.0" stroke-opacity="0.85"/>
<path d="M661.0,794.0 L668.1,794.0 L675.1,794.0 L682.2,794.0 L689.3,794.0 L696.3,794.0 L703.4,794.0 L710.5,794.0 L717.5,794.0 L724.6,794.0 L731.7,794.0 L738.8,794.0 L745.8,794.0 L752.9,793.9 L760.0,793.9 L767.0,793.9 L774.1,793.9 L781.2,793.8 L788.2,793.8 L795.3,793.7 L802.4,793.6 L809.4,793.6 L816.5,793.5 L823.6,793.4 L830.6,793.2 L837.7,793.1 L844.8,793.0 L851.9,792.9 L858.9,792.9 L866.0,792.8 L873.1,792.7 L880.1,792.7 L887.2,792.6 L894.3,792.6 L901.3,792.6 L908.4,792.6 L915.5,792.5 L922.5,792.5 L929.6,792.5 L936.7,792.5 L943.8,792.5 L950.8,792.5 L957.9,792.5 L965.0,792.5 L972.0,792.5 L979.1,792.5 L986.2,792.5 L993.2,792.5 L1000.3,792.5 L1000.3,885.0 L993.2,885.0 L986.2,885.0 L979.1,885.0 L972.0,885.0 L965.0,885.0 L957.9,885.0 L950.8,885.0 L943.8,885.0 L936.7,885.0 L929.6,885.0 L922.5,885.0 L915.5,885.0 L908.4,885.0 L901.3,885.1 L894.3,885.1 L887.2,885.1 L880.1,885.1 L873.1,885.2 L866.0,885.2 L858.9,885.3 L851.9,885.4 L844.8,885.5 L837.7,885.6 L830.6,885.6 L823.6,885.7 L816.5,885.8 L809.4,885.9 L802.4,886.0 L795.3,886.1 L788.2,886.1 L781.2,886.2 L774.1,886.2 L767.0,886.2 L760.0,886.2 L752.9,886.3 L745.8,886.3 L738.8,886.3 L731.7,886.3 L724.6,886.3 L717.5,886.3 L710.5,886.3 L703.4,886.3 L696.3,886.3 L689.3,886.3 L682.2,886.3 L675.1,886.3 L668.1,886.3 L661.0,886.3Z" fill="#8b7ea4" />
<path d="M661.0,789.0 L668.1,789.0 L675.1,789.0 L682.2,789.0 L689.3,789.0 L696.3,789.0 L703.4,789.0 L710.5,788.9 L717.5,788.9 L724.6,788.9 L731.7,788.8 L738.8,788.8 L745.8,788.7 L752.9,788.6 L760.0,788.4 L767.0,788.3 L774.1,788.0 L781.2,787.7 L788.2,787.4 L795.3,786.9 L802.4,786.4 L809.4,785.8 L816.5,785.1 L823.6,784.3 L830.6,783.5 L837.7,782.7 L844.8,781.9 L851.9,781.2 L858.9,780.6 L866.0,780.1 L873.1,779.6 L880.1,779.3 L887.2,779.0 L894.3,778.7 L901.3,778.6 L908.4,778.4 L915.5,778.3 L922.5,778.2 L929.6,778.2 L936.7,778.1 L943.8,778.1 L950.8,778.1 L957.9,778.0 L965.0,778.0 L972.0,778.0 L979.1,778.0 L986.2,778.0 L993.2,778.0 L1000.3,778.0 L1000.3,792.5 L993.2,792.5 L986.2,792.5 L979.1,792.5 L972.0,792.5 L965.0,792.5 L957.9,792.5 L950.8,792.5 L943.8,792.5 L936.7,792.5 L929.6,792.5 L922.5,792.5 L915.5,792.5 L908.4,792.6 L901.3,792.6 L894.3,792.6 L887.2,792.6 L880.1,792.7 L873.1,792.7 L866.0,792.8 L858.9,792.9 L851.9,792.9 L844.8,793.0 L837.7,793.1 L830.6,793.2 L823.6,793.4 L816.5,793.5 L809.4,793.6 L802.4,793.6 L795.3,793.7 L788.2,793.8 L781.2,793.8 L774.1,793.9 L767.0,793.9 L760.0,793.9 L752.9,793.9 L745.8,794.0 L738.8,794.0 L731.7,794.0 L724.6,794.0 L717.5,794.0 L710.5,794.0 L703.4,794.0 L696.3,794.0 L689.3,794.0 L682.2,794.0 L675.1,794.0 L668.1,794.0 L661.0,794.0Z" fill="#cfc7b0" />
<path d="M661.0,886.3 L668.1,886.3 L675.1,886.3 L682.2,886.3 L689.3,886.3 L696.3,886.3 L703.4,886.3 L710.5,886.3 L717.5,886.3 L724.6,886.3 L731.7,886.3 L738.8,886.3 L745.8,886.3 L752.9,886.3 L760.0,886.2 L767.0,886.2 L774.1,886.2 L781.2,886.2 L788.2,886.1 L795.3,886.1 L802.4,886.0 L809.4,885.9 L816.5,885.8 L823.6,885.7 L830.6,885.6 L837.7,885.6 L844.8,885.5 L851.9,885.4 L858.9,885.3 L866.0,885.2 L873.1,885.2 L880.1,885.1 L887.2,885.1 L894.3,885.1 L901.3,885.1 L908.4,885.0 L915.5,885.0 L922.5,885.0 L929.6,885.0 L936.7,885.0 L943.8,885.0 L950.8,885.0 L957.9,885.0 L965.0,885.0 L972.0,885.0 L979.1,885.0 L986.2,885.0 L993.2,885.0 L1000.3,885.0 L1000.3,888.3 L993.2,888.3 L986.2,888.3 L979.1,888.3 L972.0,888.3 L965.0,888.3 L957.9,888.3 L950.8,888.3 L943.8,888.3 L936.7,888.3 L929.6,888.3 L922.5,888.3 L915.5,888.3 L908.4,888.3 L901.3,888.3 L894.3,888.3 L887.2,888.3 L880.1,888.3 L873.1,888.3 L866.0,888.3 L858.9,888.3 L851.9,888.3 L844.8,888.3 L837.7,888.3 L830.6,888.3 L823.6,888.3 L816.5,888.3 L809.4,888.3 L802.4,888.3 L795.3,888.3 L788.2,888.3 L781.2,888.3 L774.1,888.3 L767.0,888.3 L760.0,888.3 L752.9,888.3 L745.8,888.3 L738.8,888.3 L731.7,888.3 L724.6,888.3 L717.5,888.3 L710.5,888.3 L703.4,888.3 L696.3,888.3 L689.3,888.3 L682.2,888.3 L675.1,888.3 L668.1,888.3 L661.0,888.3Z" fill="#cfc7b0" />
<path d="M661.0,716.0 L668.1,716.0 L675.1,716.0 L682.2,715.9 L689.3,715.9 L696.3,715.8 L703.4,715.8 L710.5,715.7 L717.5,715.5 L724.6,715.4 L731.7,715.1 L738.8,714.8 L745.8,714.4 L752.9,713.9 L760.0,713.2 L767.0,712.3 L774.1,711.2 L781.2,709.7 L788.2,707.8 L795.3,705.6 L802.4,702.9 L809.4,699.8 L816.5,696.2 L823.6,692.4 L830.6,688.4 L837.7,684.3 L844.8,680.5 L851.9,676.9 L858.9,673.8 L866.0,671.1 L873.1,668.9 L880.1,667.0 L887.2,665.5 L894.3,664.4 L901.3,663.5 L908.4,662.8 L915.5,662.3 L922.5,661.9 L929.6,661.6 L936.7,661.3 L943.8,661.2 L950.8,661.0 L957.9,660.9 L965.0,660.9 L972.0,660.8 L979.1,660.8 L986.2,660.7 L993.2,660.7 L1000.3,660.7 L1000.3,708.5 L993.2,708.5 L986.2,708.5 L979.1,708.6 L972.0,708.6 L965.0,708.7 L957.9,708.8 L950.8,708.9 L943.8,709.0 L936.7,709.2 L929.6,709.4 L922.5,709.8 L915.5,710.2 L908.4,710.8 L901.3,711.5 L894.3,712.5 L887.2,713.7 L880.1,715.3 L873.1,717.3 L866.0,719.7 L858.9,722.6 L851.9,726.0 L844.8,729.8 L837.7,733.9 L830.6,738.2 L823.6,742.6 L816.5,746.7 L809.4,750.5 L802.4,753.9 L795.3,756.8 L788.2,759.2 L781.2,761.2 L774.1,762.8 L767.0,764.0 L760.0,765.0 L752.9,765.7 L745.8,766.3 L738.8,766.7 L731.7,767.1 L724.6,767.3 L717.5,767.5 L710.5,767.6 L703.4,767.7 L696.3,767.8 L689.3,767.9 L682.2,767.9 L675.1,768.0 L668.1,768.0 L661.0,768.0Z" fill="#d090b2" />
<path d="M661.0,598.0 L668.1,598.0 L675.1,598.1 L682.2,598.2 L689.3,598.2 L696.3,598.4 L703.4,598.5 L710.5,598.8 L717.5,599.0 L724.6,599.4 L731.7,599.9 L738.8,600.6 L745.8,601.5 L752.9,602.7 L760.0,604.2 L767.0,606.3 L774.1,608.8 L781.2,612.1 L788.2,616.2 L795.3,621.3 L802.4,627.3 L809.4,634.3 L816.5,642.3 L823.6,650.9 L830.6,659.9 L837.7,668.8 L844.8,677.4 L851.9,685.4 L858.9,692.4 L866.0,698.4 L873.1,703.5 L880.1,707.6 L887.2,710.9 L894.3,713.4 L901.3,715.5 L908.4,717.0 L915.5,718.2 L922.5,719.1 L929.6,719.8 L936.7,720.3 L943.8,720.7 L950.8,720.9 L957.9,721.2 L965.0,721.3 L972.0,721.5 L979.1,721.5 L986.2,721.6 L993.2,721.7 L1000.3,721.7 L1000.3,768.3 L993.2,768.3 L986.2,768.2 L979.1,768.1 L972.0,768.0 L965.0,767.9 L957.9,767.7 L950.8,767.5 L943.8,767.2 L936.7,766.8 L929.6,766.3 L922.5,765.6 L915.5,764.7 L908.4,763.4 L901.3,761.8 L894.3,759.8 L887.2,757.1 L880.1,753.7 L873.1,749.4 L866.0,744.2 L858.9,738.0 L851.9,730.7 L844.8,722.5 L837.7,713.6 L830.6,704.3 L823.6,695.0 L816.5,686.1 L809.4,677.9 L802.4,670.6 L795.3,664.4 L788.2,659.2 L781.2,654.9 L774.1,651.5 L767.0,648.8 L760.0,646.8 L752.9,645.2 L745.8,643.9 L738.8,643.0 L731.7,642.3 L724.6,641.8 L717.5,641.4 L710.5,641.1 L703.4,640.9 L696.3,640.7 L689.3,640.6 L682.2,640.5 L675.1,640.4 L668.1,640.3 L661.0,640.3Z" fill="#fbcac6" />
<path d="M661.0,658.5 L668.1,658.5 L675.1,658.5 L682.2,658.4 L689.3,658.4 L696.3,658.4 L703.4,658.3 L710.5,658.2 L717.5,658.1 L724.6,658.0 L731.7,657.8 L738.8,657.6 L745.8,657.2 L752.9,656.8 L760.0,656.3 L767.0,655.5 L774.1,654.6 L781.2,653.4 L788.2,651.9 L795.3,650.1 L802.4,648.0 L809.4,645.4 L816.5,642.6 L823.6,639.5 L830.6,636.2 L837.7,633.0 L844.8,629.9 L851.9,627.1 L858.9,624.5 L866.0,622.4 L873.1,620.6 L880.1,619.1 L887.2,617.9 L894.3,617.0 L901.3,616.2 L908.4,615.7 L915.5,615.3 L922.5,614.9 L929.6,614.7 L936.7,614.5 L943.8,614.4 L950.8,614.3 L957.9,614.2 L965.0,614.1 L972.0,614.1 L979.1,614.1 L986.2,614.0 L993.2,614.0 L1000.3,614.0 L1000.3,650.6 L993.2,650.6 L986.2,650.6 L979.1,650.7 L972.0,650.7 L965.0,650.7 L957.9,650.8 L950.8,650.9 L943.8,651.0 L936.7,651.1 L929.6,651.3 L922.5,651.6 L915.5,651.9 L908.4,652.3 L901.3,652.9 L894.3,653.6 L887.2,654.6 L880.1,655.8 L873.1,657.3 L866.0,659.1 L858.9,661.4 L851.9,663.9 L844.8,666.8 L837.7,670.0 L830.6,673.3 L823.6,676.6 L816.5,679.8 L809.4,682.7 L802.4,685.2 L795.3,687.5 L788.2,689.3 L781.2,690.8 L774.1,692.0 L767.0,693.0 L760.0,693.7 L752.9,694.3 L745.8,694.7 L738.8,695.0 L731.7,695.3 L724.6,695.5 L717.5,695.6 L710.5,695.7 L703.4,695.8 L696.3,695.9 L689.3,695.9 L682.2,695.9 L675.1,696.0 L668.1,696.0 L661.0,696.0Z" fill="#f9c4d9" />
<path d="M661.0,649.5 L668.1,649.5 L675.1,649.4 L682.2,649.4 L689.3,649.3 L696.3,649.2 L703.4,649.0 L710.5,648.9 L717.5,648.6 L724.6,648.3 L731.7,647.8 L738.8,647.3 L745.8,646.5 L752.9,645.5 L760.0,644.1 L767.0,642.4 L774.1,640.2 L781.2,637.4 L788.2,633.9 L795.3,629.6 L802.4,624.4 L809.4,618.4 L816.5,611.6 L823.6,604.2 L830.6,596.5 L837.7,588.8 L844.8,581.4 L851.9,574.6 L858.9,568.6 L866.0,563.4 L873.1,559.1 L880.1,555.6 L887.2,552.8 L894.3,550.6 L901.3,548.9 L908.4,547.5 L915.5,546.5 L922.5,545.7 L929.6,545.2 L936.7,544.7 L943.8,544.4 L950.8,544.1 L957.9,544.0 L965.0,543.8 L972.0,543.7 L979.1,543.6 L986.2,543.6 L993.2,543.5 L1000.3,543.5 L1000.3,558.5 L993.2,558.5 L986.2,558.6 L979.1,558.6 L972.0,558.7 L965.0,558.8 L957.9,559.0 L950.8,559.1 L943.8,559.4 L936.7,559.7 L929.6,560.2 L922.5,560.7 L915.5,561.5 L908.4,562.5 L901.3,563.8 L894.3,565.5 L887.2,567.7 L880.1,570.5 L873.1,574.1 L866.0,578.4 L858.9,583.5 L851.9,589.5 L844.8,596.3 L837.7,603.6 L830.6,611.2 L823.6,618.9 L816.5,626.2 L809.4,633.0 L802.4,639.0 L795.3,644.1 L788.2,648.4 L781.2,652.0 L774.1,654.8 L767.0,657.0 L760.0,658.7 L752.9,660.0 L745.8,661.0 L738.8,661.8 L731.7,662.3 L724.6,662.8 L717.5,663.1 L710.5,663.4 L703.4,663.5 L696.3,663.7 L689.3,663.8 L682.2,663.9 L675.1,663.9 L668.1,664.0 L661.0,664.0Z" fill="#f8bfd6" />
<path d="M661.0,559.5 L668.1,559.5 L675.1,559.5 L682.2,559.5 L689.3,559.5 L696.3,559.5 L703.4,559.6 L710.5,559.6 L717.5,559.6 L724.6,559.7 L731.7,559.7 L738.8,559.8 L745.8,559.9 L752.9,560.0 L760.0,560.2 L767.0,560.4 L774.1,560.7 L781.2,561.1 L788.2,561.5 L795.3,562.1 L802.4,562.7 L809.4,563.5 L816.5,564.4 L823.6,565.4 L830.6,566.4 L837.7,567.3 L844.8,568.3 L851.9,569.2 L858.9,570.0 L866.0,570.6 L873.1,571.2 L880.1,571.6 L887.2,572.0 L894.3,572.3 L901.3,572.5 L908.4,572.7 L915.5,572.8 L922.5,572.9 L929.6,573.0 L936.7,573.0 L943.8,573.1 L950.8,573.1 L957.9,573.1 L965.0,573.2 L972.0,573.2 L979.1,573.2 L986.2,573.2 L993.2,573.2 L1000.3,573.2 L1000.3,598.0 L993.2,598.0 L986.2,598.0 L979.1,598.0 L972.0,598.0 L965.0,598.0 L957.9,597.9 L950.8,597.9 L943.8,597.9 L936.7,597.9 L929.6,597.8 L922.5,597.8 L915.5,597.7 L908.4,597.6 L901.3,597.4 L894.3,597.2 L887.2,597.0 L880.1,596.7 L873.1,596.3 L866.0,595.8 L858.9,595.2 L851.9,594.6 L844.8,593.8 L837.7,593.0 L830.6,592.1 L823.6,591.3 L816.5,590.5 L809.4,589.7 L802.4,589.1 L795.3,588.5 L788.2,588.0 L781.2,587.6 L774.1,587.3 L767.0,587.1 L760.0,586.9 L752.9,586.7 L745.8,586.6 L738.8,586.5 L731.7,586.5 L724.6,586.4 L717.5,586.4 L710.5,586.4 L703.4,586.4 L696.3,586.3 L689.3,586.3 L682.2,586.3 L675.1,586.3 L668.1,586.3 L661.0,586.3Z" fill="#a9d6bf" />
<path d="M661.0,649.5 L668.1,649.5 L675.1,649.4 L682.2,649.4 L689.3,649.3 L696.3,649.2 L703.4,649.0 L710.5,648.9 L717.5,648.6 L724.6,648.3 L731.7,647.8 L738.8,647.3 L745.8,646.5 L752.9,645.5 L760.0,644.1 L767.0,642.4 L774.1,640.2 L781.2,637.4 L788.2,633.9 L795.3,629.6 L802.4,624.4 L809.4,618.4 L816.5,611.6 L823.6,604.2 L830.6,596.5 L837.7,588.8 L844.8,581.4 L851.9,574.6 L858.9,568.6 L866.0,563.4 L873.1,559.1 L880.1,555.6 L887.2,552.8 L894.3,550.6 L901.3,548.9 L908.4,547.5 L915.5,546.5 L922.5,545.7 L929.6,545.2 L936.7,544.7 L943.8,544.4 L950.8,544.1 L957.9,544.0 L965.0,543.8 L972.0,543.7 L979.1,543.6 L986.2,543.6 L993.2,543.5 L1000.3,543.5 L1000.3,558.5 L993.2,558.5 L986.2,558.6 L979.1,558.6 L972.0,558.7 L965.0,558.8 L957.9,559.0 L950.8,559.1 L943.8,559.4 L936.7,559.7 L929.6,560.2 L922.5,560.7 L915.5,561.5 L908.4,562.5 L901.3,563.8 L894.3,565.5 L887.2,567.7 L880.1,570.5 L873.1,574.1 L866.0,578.4 L858.9,583.5 L851.9,589.5 L844.8,596.3 L837.7,603.6 L830.6,611.2 L823.6,618.9 L816.5,626.2 L809.4,633.0 L802.4,639.0 L795.3,644.1 L788.2,648.4 L781.2,652.0 L774.1,654.8 L767.0,657.0 L760.0,658.7 L752.9,660.0 L745.8,661.0 L738.8,661.8 L731.7,662.3 L724.6,662.8 L717.5,663.1 L710.5,663.4 L703.4,663.5 L696.3,663.7 L689.3,663.8 L682.2,663.9 L675.1,663.9 L668.1,664.0 L661.0,664.0Z" fill="#f8bfd6" fill-opacity="0.5" />
<path d="M661.0,521.5 L668.1,521.5 L675.1,521.5 L682.2,521.5 L689.3,521.5 L696.3,521.5 L703.4,521.4 L710.5,521.4 L717.5,521.4 L724.6,521.3 L731.7,521.2 L738.8,521.2 L745.8,521.0 L752.9,520.9 L760.0,520.7 L767.0,520.4 L774.1,520.1 L781.2,519.6 L788.2,519.1 L795.3,518.4 L802.4,517.6 L809.4,516.7 L816.5,515.7 L823.6,514.5 L830.6,513.4 L837.7,512.2 L844.8,511.0 L851.9,510.0 L858.9,509.1 L866.0,508.3 L873.1,507.6 L880.1,507.1 L887.2,506.6 L894.3,506.3 L901.3,506.0 L908.4,505.8 L915.5,505.7 L922.5,505.5 L929.6,505.5 L936.7,505.4 L943.8,505.3 L950.8,505.3 L957.9,505.3 L965.0,505.2 L972.0,505.2 L979.1,505.2 L986.2,505.2 L993.2,505.2 L1000.3,505.2 L1000.3,520.7 L993.2,520.7 L986.2,520.7 L979.1,520.7 L972.0,520.7 L965.0,520.8 L957.9,520.8 L950.8,520.8 L943.8,520.9 L936.7,520.9 L929.6,521.0 L922.5,521.1 L915.5,521.2 L908.4,521.4 L901.3,521.7 L894.3,522.0 L887.2,522.4 L880.1,522.9 L873.1,523.5 L866.0,524.3 L858.9,525.2 L851.9,526.3 L844.8,527.5 L837.7,528.8 L830.6,530.2 L823.6,531.5 L816.5,532.8 L809.4,534.0 L802.4,535.1 L795.3,536.0 L788.2,536.8 L781.2,537.4 L774.1,537.9 L767.0,538.3 L760.0,538.6 L752.9,538.9 L745.8,539.1 L738.8,539.2 L731.7,539.3 L724.6,539.4 L717.5,539.4 L710.5,539.5 L703.4,539.5 L696.3,539.5 L689.3,539.6 L682.2,539.6 L675.1,539.6 L668.1,539.6 L661.0,539.6Z" fill="#a9c5e6" />
<path d="M661.0,541.8 L668.1,541.8 L675.1,541.8 L682.2,541.8 L689.3,541.9 L696.3,541.9 L703.4,541.9 L710.5,542.0 L717.5,542.0 L724.6,542.1 L731.7,542.2 L738.8,542.4 L745.8,542.6 L752.9,542.9 L760.0,543.2 L767.0,543.7 L774.1,544.3 L781.2,545.1 L788.2,546.0 L795.3,547.2 L802.4,548.6 L809.4,550.2 L816.5,552.0 L823.6,554.0 L830.6,556.1 L837.7,558.2 L844.8,560.2 L851.9,562.0 L858.9,563.6 L866.0,565.0 L873.1,566.2 L880.1,567.1 L887.2,567.9 L894.3,568.5 L901.3,569.0 L908.4,569.3 L915.5,569.6 L922.5,569.8 L929.6,570.0 L936.7,570.1 L943.8,570.2 L950.8,570.2 L957.9,570.3 L965.0,570.3 L972.0,570.3 L979.1,570.4 L986.2,570.4 L993.2,570.4 L1000.3,570.4" fill="none" stroke="#a6c3e4" stroke-width="3.6"/>
<path d="M661.0,546.5 L668.1,546.5 L675.1,546.5 L682.2,546.6 L689.3,546.6 L696.3,546.7 L703.4,546.8 L710.5,546.9 L717.5,547.0 L724.6,547.2 L731.7,547.5 L738.8,547.9 L745.8,548.3 L752.9,549.0 L760.0,549.8 L767.0,550.8 L774.1,552.2 L781.2,553.9 L788.2,556.0 L795.3,558.6 L802.4,561.8 L809.4,565.5 L816.5,569.6 L823.6,574.1 L830.6,578.8 L837.7,583.4 L844.8,587.9 L851.9,592.0 L858.9,595.7 L866.0,598.9 L873.1,601.5 L880.1,603.6 L887.2,605.3 L894.3,606.7 L901.3,607.7 L908.4,608.5 L915.5,609.2 L922.5,609.6 L929.6,610.0 L936.7,610.3 L943.8,610.5 L950.8,610.6 L957.9,610.7 L965.0,610.8 L972.0,610.9 L979.1,610.9 L986.2,611.0 L993.2,611.0 L1000.3,611.0" fill="none" stroke="#a6c3e4" stroke-width="5"/>
<path d="M661.0,491.5 L668.1,491.5 L675.1,491.5 L682.2,491.5 L689.3,491.5 L696.3,491.5 L703.4,491.4 L710.5,491.4 L717.5,491.4 L724.6,491.4 L731.7,491.3 L738.8,491.3 L745.8,491.2 L752.9,491.1 L760.0,490.9 L767.0,490.7 L774.1,490.5 L781.2,490.2 L788.2,489.8 L795.3,489.3 L802.4,488.7 L809.4,488.1 L816.5,487.3 L823.6,486.5 L830.6,485.7 L837.7,484.8 L844.8,484.0 L851.9,483.2 L858.9,482.6 L866.0,482.0 L873.1,481.5 L880.1,481.1 L887.2,480.8 L894.3,480.6 L901.3,480.4 L908.4,480.2 L915.5,480.1 L922.5,480.0 L929.6,480.0 L936.7,479.9 L943.8,479.9 L950.8,479.9 L957.9,479.9 L965.0,479.8 L972.0,479.8 L979.1,479.8 L986.2,479.8 L993.2,479.8 L1000.3,479.8 L1000.3,494.4 L993.2,494.4 L986.2,494.4 L979.1,494.4 L972.0,494.4 L965.0,494.4 L957.9,494.5 L950.8,494.5 L943.8,494.5 L936.7,494.6 L929.6,494.6 L922.5,494.7 L915.5,494.8 L908.4,494.9 L901.3,495.1 L894.3,495.3 L887.2,495.5 L880.1,495.9 L873.1,496.3 L866.0,496.9 L858.9,497.5 L851.9,498.2 L844.8,499.1 L837.7,500.0 L830.6,500.9 L823.6,501.9 L816.5,502.8 L809.4,503.7 L802.4,504.4 L795.3,505.0 L788.2,505.6 L781.2,506.0 L774.1,506.4 L767.0,506.6 L760.0,506.8 L752.9,507.0 L745.8,507.1 L738.8,507.2 L731.7,507.3 L724.6,507.3 L717.5,507.4 L710.5,507.4 L703.4,507.4 L696.3,507.5 L689.3,507.5 L682.2,507.5 L675.1,507.5 L668.1,507.5 L661.0,507.5Z" fill="#4f74b6" />
<path d="M661.0,714.5 L668.1,714.5 L675.1,714.5 L682.2,714.4 L689.3,714.4 L696.3,714.3 L703.4,714.2 L710.5,714.1 L717.5,713.9 L724.6,713.6 L731.7,713.3 L738.8,712.8 L745.8,712.1 L752.9,711.2 L760.0,709.9 L767.0,708.2 L774.1,705.8 L781.2,702.6 L788.2,698.3 L795.3,692.8 L802.4,685.7 L809.4,677.1 L816.5,666.8 L823.6,655.0 L830.6,642.3 L837.7,629.3 L844.8,616.6 L851.9,604.9 L858.9,594.6 L866.0,586.0 L873.1,579.1 L880.1,573.6 L887.2,569.4 L894.3,566.2 L901.3,563.8 L908.4,562.1 L915.5,560.8 L922.5,559.9 L929.6,559.3 L936.7,558.8 L943.8,558.4 L950.8,558.2 L957.9,558.0 L965.0,557.9 L972.0,557.8 L979.1,557.7 L986.2,557.7 L993.2,557.6 L1000.3,557.6" fill="none" stroke="#cf8fb2" stroke-width="6.4"/>
<path d="M661.0,783.0 L668.1,783.0 L675.1,783.0 L682.2,783.0 L689.3,783.0 L696.3,783.0 L703.4,783.0 L710.5,783.0 L717.5,783.0 L724.6,783.0 L731.7,783.0 L738.8,783.0 L745.8,782.9 L752.9,782.9 L760.0,782.9 L767.0,782.9 L774.1,782.8 L781.2,782.8 L788.2,782.7 L795.3,782.6 L802.4,782.5 L809.4,782.4 L816.5,782.3 L823.6,782.1 L830.6,782.0 L837.7,781.9 L844.8,781.7 L851.9,781.6 L858.9,781.5 L866.0,781.4 L873.1,781.3 L880.1,781.2 L887.2,781.2 L894.3,781.1 L901.3,781.1 L908.4,781.1 L915.5,781.1 L922.5,781.0 L929.6,781.0 L936.7,781.0 L943.8,781.0 L950.8,781.0 L957.9,781.0 L965.0,781.0 L972.0,781.0 L979.1,781.0 L986.2,781.0 L993.2,781.0 L1000.3,781.0" fill="none" stroke="#8f7fb0" stroke-width="1" stroke-opacity="0.9"/>
<path d="M661.0,786.0 L668.1,786.0 L675.1,786.0 L682.2,786.0 L689.3,786.0 L696.3,786.0 L703.4,786.0 L710.5,785.9 L717.5,785.9 L724.6,785.9 L731.7,785.8 L738.8,785.8 L745.8,785.7 L752.9,785.6 L760.0,785.5 L767.0,785.3 L774.1,785.1 L781.2,784.9 L788.2,784.5 L795.3,784.1 L802.4,783.6 L809.4,783.1 L816.5,782.4 L823.6,781.7 L830.6,781.0 L837.7,780.3 L844.8,779.6 L851.9,778.9 L858.9,778.4 L866.0,777.9 L873.1,777.5 L880.1,777.1 L887.2,776.9 L894.3,776.7 L901.3,776.5 L908.4,776.4 L915.5,776.3 L922.5,776.2 L929.6,776.2 L936.7,776.1 L943.8,776.1 L950.8,776.1 L957.9,776.0 L965.0,776.0 L972.0,776.0 L979.1,776.0 L986.2,776.0 L993.2,776.0 L1000.3,776.0" fill="none" stroke="#c79ab5" stroke-width="1" stroke-opacity="0.9"/>
<path d="M661.0,471.8 L668.1,471.8 L675.1,471.9 L682.2,471.9 L689.3,472.0 L696.3,472.0 L703.4,472.2 L710.5,472.3 L717.5,472.5 L724.6,472.8 L731.7,473.1 L738.8,473.5 L745.8,474.1 L752.9,474.9 L760.0,475.9 L767.0,477.2 L774.1,478.8 L781.2,480.9 L788.2,483.4 L795.3,486.5 L802.4,490.0 L809.4,494.0 L816.5,498.3 L823.6,502.9 L830.6,507.4 L837.7,511.7 L844.8,515.8 L851.9,519.3 L858.9,522.4 L866.0,525.0 L873.1,527.1 L880.1,528.7 L887.2,530.1 L894.3,531.1 L901.3,531.9 L908.4,532.5 L915.5,532.9 L922.5,533.3 L929.6,533.6 L936.7,533.8 L943.8,533.9 L950.8,534.0 L957.9,534.1 L965.0,534.2 L972.0,534.2 L979.1,534.2 L986.2,534.3 L993.2,534.3 L1000.3,534.3" fill="none" stroke="#3aaa78" stroke-width="7.8"/>
<path d="M661.0,480.7 L668.1,480.8 L675.1,481.0 L682.2,481.2 L689.3,481.4 L696.3,481.8 L703.4,482.3 L710.5,482.9 L717.5,483.6 L724.6,484.6 L731.7,486.0 L738.8,487.7 L745.8,489.8 L752.9,492.7 L760.0,496.2 L767.0,500.8 L774.1,506.4 L781.2,513.4 L788.2,522.0 L795.3,532.1 L802.4,544.0 L809.4,557.4 L816.5,572.2 L823.6,587.9 L830.6,604.1 L837.7,620.2 L844.8,635.5 L851.9,649.7 L858.9,662.4 L866.0,673.4 L873.1,682.8 L880.1,690.5 L887.2,696.9 L894.3,702.0 L901.3,706.0 L908.4,709.2 L915.5,711.7 L922.5,713.7 L929.6,715.2 L936.7,716.3 L943.8,717.2 L950.8,717.9 L957.9,718.4 L965.0,718.8 L972.0,719.1 L979.1,719.4 L986.2,719.6 L993.2,719.7 L1000.3,719.8" fill="none" stroke="#3aaa78" stroke-width="5.0"/>
<rect x="121.3" y="480.4" width="99.7" height="20.9" fill="#3b55a0" stroke="#30303a" stroke-opacity="0.75" stroke-width="1"/><text x="144.6" y="496.3" class="nl">0.0426</text>
<rect x="121.3" y="509.0" width="99.7" height="27.5" fill="#6e8cc8" stroke="#30303a" stroke-opacity="0.75" stroke-width="1"/><text x="144.6" y="528.8" class="nl">0.0573</text>
<rect x="121.3" y="543.8" width="99.7" height="30.9" fill="#8ccaad" stroke="#30303a" stroke-opacity="0.75" stroke-width="1"/><text x="144.6" y="566.5" class="nl">0.0647</text>
<rect x="121.3" y="584.0" width="99.7" height="52.0" fill="#f8aaa6" stroke="#30303a" stroke-opacity="0.75" stroke-width="1"/><text x="144.6" y="618.7" class="nl">0.11</text>
<rect x="121.3" y="644.0" width="99.7" height="66.0" fill="#f2adcd" stroke="#30303a" stroke-opacity="0.75" stroke-width="1"/><text x="144.6" y="681.6" class="nl">0.137</text>
<rect x="121.3" y="717.7" width="99.7" height="69.0" fill="#c584a8" stroke="#30303a" stroke-opacity="0.75" stroke-width="1"/><text x="144.6" y="758.2" class="nl">0.141</text>
<rect x="121.3" y="794.3" width="99.7" height="94.0" fill="#7d6aa6" stroke="#30303a" stroke-opacity="0.75" stroke-width="1"/><text x="144.6" y="845.0" class="nl">0.376</text>
<rect x="561.3" y="491.3" width="99.7" height="21.5" fill="#3b55a0" stroke="#30303a" stroke-opacity="0.75" stroke-width="1"/><text x="584.3" y="506.9" class="nl">0.0448</text>
<rect x="561.3" y="520.6" width="99.7" height="29.1" fill="#6e8cc8" stroke="#30303a" stroke-opacity="0.75" stroke-width="1"/><text x="584.3" y="541.9" class="nl">0.0579</text>
<rect x="561.3" y="557.6" width="99.7" height="28.9" fill="#8ccaad" stroke="#30303a" stroke-opacity="0.75" stroke-width="1"/><text x="584.3" y="580.3" class="nl">0.0601</text>
<rect x="561.3" y="594.9" width="99.7" height="46.1" fill="#f8aaa6" stroke="#30303a" stroke-opacity="0.75" stroke-width="1"/><text x="584.3" y="624.1" class="nl">0.0963</text>
<rect x="561.3" y="649.3" width="99.7" height="54.9" fill="#f2adcd" stroke="#30303a" stroke-opacity="0.75" stroke-width="1"/><text x="584.3" y="684.3" class="nl">0.114</text>
<rect x="561.3" y="711.8" width="99.7" height="69.2" fill="#c584a8" stroke="#30303a" stroke-opacity="0.75" stroke-width="1"/><text x="584.3" y="755.0" class="nl">0.145</text>
<rect x="561.3" y="789.0" width="99.7" height="99.3" fill="#7d6aa6" stroke="#30303a" stroke-opacity="0.75" stroke-width="1"/><text x="584.3" y="844.3" class="nl">0.385</text>
<rect x="1000.3" y="479.0" width="100.0" height="17.1" fill="#3b55a0" stroke="#30303a" stroke-opacity="0.75" stroke-width="1"/><text x="1026.6" y="495.6" class="nl">0.0369</text>
<rect x="1000.3" y="504.4" width="100.0" height="17.1" fill="#6e8cc8" stroke="#30303a" stroke-opacity="0.75" stroke-width="1"/><text x="1026.6" y="520.0" class="nl">0.0371</text>
<rect x="1000.3" y="568.2" width="100.0" height="31.8" fill="#8ccaad" stroke="#30303a" stroke-opacity="0.75" stroke-width="1"/><text x="1026.6" y="592.0" class="nl">0.0667</text>
<rect x="1000.3" y="608.4" width="100.0" height="43.4" fill="#f2adcd" stroke="#30303a" stroke-opacity="0.75" stroke-width="1"/><text x="1026.6" y="637.0" class="nl">0.0904</text>
<rect x="1000.3" y="659.4" width="100.0" height="50.6" fill="#c584a8" stroke="#30303a" stroke-opacity="0.75" stroke-width="1"/><text x="1026.6" y="694.3" class="nl">0.101</text>
<rect x="1000.3" y="716.8" width="100.0" height="53.2" fill="#f8aaa6" stroke="#30303a" stroke-opacity="0.75" stroke-width="1"/><text x="1026.6" y="746.7" class="nl">0.112</text>
<rect x="1000.3" y="777.7" width="100.0" height="110.6" fill="#7d6aa6" stroke="#30303a" stroke-opacity="0.75" stroke-width="1"/><text x="1026.6" y="839.3" class="nl">0.385</text>
<rect x="120.2" y="465.2" width="103.8" height="9.8" fill="#ee2326"/><rect x="123" y="469.7" width="98" height="1.6" fill="#d9762f"/>
<rect x="558.7" y="464" width="105" height="22" fill="#ee2326"/><rect x="564.4" y="470" width="93.1" height="10" fill="#2fa877"/><text x="584.3" y="484.4" class="nl">0.0349</text>
<rect x="998.4" y="527.8" width="104.8" height="35" fill="#ee2326"/><rect x="1004" y="533.4" width="93" height="24.1" fill="#2fa877"/><text x="1026.6" y="553.8" class="nl">0.0623</text>
<path d="M1105.3,541.2 H1143.8 V354.8 H1124" fill="none" stroke="#111" stroke-width="2.4" stroke-dasharray="4.6 2.3"/>
<text transform="translate(67.7,670.8) rotate(-90) scale(0.9,1)" text-anchor="middle" class="al">Communities (by PageRank)</text>
</svg>
</body></html>
